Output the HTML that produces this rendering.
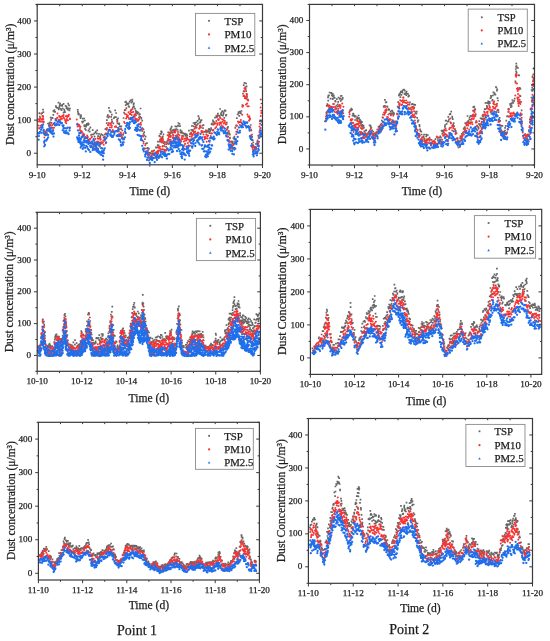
<!DOCTYPE html>
<html><head><meta charset="utf-8"><style>
html,body{margin:0;padding:0;background:#fff;}
svg{display:block;}
text{font-family:"Liberation Serif", "Times New Roman", serif;fill:#1e1e1e;stroke:#1e1e1e;stroke-width:0.25px;}
.tk{font-size:9.2px;}
.ttl{font-size:11.6px;}
.ytl{font-size:12px;}
.pt{font-size:14px;}
</style></head><body>
<svg width="550" height="641" viewBox="0 0 550 641">
<rect width="550" height="641" fill="#fff"/>
<path d="M38.2 119.5h0M39.5 113.1h0M39.4 113.3h0M39.8 116.6h0M42.1 113.2h0M42.5 115.9h0M43.4 112.1h0M43.0 109.6h0M43.7 121.6h0M43.9 131.7h0M44.3 134.4h0M45.0 132.5h0M45.4 132.5h0M45.7 131.4h0M46.4 134.4h0M47.4 129.0h0M47.3 130.7h0M48.0 123.5h0M48.7 124.0h0M49.1 123.4h0M50.0 122.4h0M50.5 122.6h0M50.6 117.7h0M51.1 119.9h0M51.9 117.8h0M52.0 117.9h0M52.6 118.1h0M53.3 111.0h0M53.3 114.9h0M54.2 111.7h0M54.4 110.0h0M55.1 111.9h0M55.9 106.0h0M56.2 107.1h0M57.1 107.9h0M57.5 108.0h0M58.5 102.7h0M58.7 109.4h0M58.9 108.3h0M59.4 106.8h0M59.7 105.2h0M60.1 103.5h0M60.8 108.8h0M61.4 105.6h0M61.5 110.1h0M62.3 104.8h0M62.3 106.0h0M62.8 108.5h0M63.6 103.8h0M63.6 112.6h0M64.3 109.7h0M64.5 111.1h0M65.0 112.1h0M65.6 105.8h0M66.5 108.2h0M66.6 106.6h0M67.2 108.7h0M67.7 109.6h0M68.2 103.7h0M68.4 108.4h0M69.1 105.4h0M69.4 110.5h0M69.9 108.7h0M77.7 109.8h0M77.9 111.8h0M78.1 114.0h0M78.7 113.6h0M79.0 114.6h0M80.4 116.5h0M80.6 118.2h0M80.9 115.2h0M81.1 116.6h0M82.1 121.5h0M82.5 122.7h0M82.9 118.7h0M83.4 121.3h0M84.1 118.5h0M84.3 125.3h0M84.4 126.5h0M84.9 120.5h0M85.1 128.8h0M85.4 125.0h0M85.9 130.0h0M86.1 126.7h0M86.6 125.1h0M86.9 123.9h0M88.2 123.4h0M88.0 124.8h0M88.4 130.7h0M88.8 124.2h0M89.4 129.0h0M89.7 131.6h0M90.4 127.3h0M91.0 135.0h0M92.0 134.5h0M92.7 130.2h0M93.4 134.3h0M94.5 133.4h0M94.6 136.6h0M95.5 132.3h0M95.8 131.7h0M96.9 133.7h0M97.2 130.4h0M98.0 136.2h0M98.2 136.0h0M99.0 133.9h0M100.0 137.2h0M100.6 135.7h0M100.8 139.0h0M101.3 134.1h0M102.8 135.2h0M103.5 137.4h0M104.4 136.8h0M104.9 134.3h0M104.8 136.7h0M105.4 129.2h0M106.3 128.6h0M106.7 123.1h0M106.9 120.2h0M107.3 116.6h0M107.9 115.1h0M107.8 115.2h0M108.5 117.6h0M108.9 107.9h0M109.6 110.9h0M110.6 112.1h0M111.2 116.8h0M111.8 114.6h0M111.8 119.6h0M112.1 121.6h0M113.3 123.3h0M113.9 118.1h0M114.6 117.2h0M115.2 110.3h0M115.9 117.2h0M116.1 113.0h0M117.0 119.6h0M117.4 120.5h0M117.5 123.4h0M118.0 118.4h0M119.1 124.2h0M119.3 123.3h0M119.7 126.2h0M120.2 126.6h0M120.9 126.6h0M121.3 126.4h0M121.4 129.1h0M122.3 130.5h0M123.0 134.8h0M123.6 118.0h0M124.1 112.7h0M124.7 110.1h0M125.3 102.1h0M125.7 105.2h0M126.0 101.7h0M126.4 108.1h0M126.7 103.8h0M127.2 103.3h0M127.9 104.1h0M128.0 103.4h0M128.5 106.0h0M128.7 103.5h0M129.1 106.9h0M129.7 101.6h0M130.6 100.4h0M130.9 110.3h0M131.5 102.6h0M132.3 101.6h0M132.3 99.7h0M132.9 107.3h0M133.5 104.6h0M134.0 106.7h0M133.9 103.4h0M134.9 108.7h0M135.8 110.6h0M136.1 112.4h0M136.2 111.8h0M136.9 113.1h0M137.1 111.9h0M137.7 113.6h0M138.4 112.6h0M139.0 117.4h0M139.4 114.9h0M139.8 114.1h0M140.1 116.8h0M140.6 108.5h0M141.3 118.6h0M141.3 117.9h0M142.2 120.7h0M142.3 128.1h0M143.2 129.2h0M143.5 129.5h0M143.6 133.9h0M144.2 132.2h0M144.4 135.5h0M144.9 139.2h0M145.6 136.7h0M145.9 143.6h0M147.0 143.2h0M147.0 148.5h0M147.6 147.9h0M148.5 148.9h0M148.9 148.7h0M149.8 152.8h0M150.5 152.6h0M150.7 152.5h0M151.9 151.1h0M152.0 153.9h0M152.7 154.3h0M153.2 153.3h0M154.1 150.3h0M155.9 147.3h0M156.1 147.7h0M157.4 147.3h0M157.7 145.1h0M157.9 141.7h0M158.6 145.3h0M159.3 135.8h0M159.7 141.6h0M160.0 136.5h0M160.4 133.8h0M160.1 141.5h0M161.1 133.9h0M160.8 139.0h0M161.4 139.3h0M161.1 131.7h0M161.4 131.3h0M161.8 142.3h0M161.8 132.2h0M162.3 138.3h0M162.7 139.6h0M162.8 136.6h0M163.5 134.4h0M163.6 143.1h0M164.1 146.1h0M164.9 142.2h0M165.0 142.5h0M166.1 146.8h0M166.5 144.5h0M166.8 142.4h0M167.5 140.6h0M167.8 143.5h0M168.2 132.4h0M169.0 136.2h0M169.1 134.4h0M169.6 134.1h0M170.3 133.4h0M170.3 129.7h0M170.9 128.4h0M171.2 131.4h0M171.7 126.7h0M172.3 132.8h0M172.5 130.1h0M173.2 134.8h0M173.6 130.6h0M173.8 132.5h0M174.2 129.5h0M175.0 131.5h0M175.4 126.4h0M175.6 130.1h0M176.1 129.0h0M176.6 126.6h0M176.5 129.0h0M177.1 135.2h0M177.7 130.0h0M178.0 125.6h0M178.4 123.0h0M178.6 126.0h0M179.5 123.8h0M180.0 126.1h0M180.4 132.2h0M180.5 130.2h0M181.1 132.9h0M181.9 132.0h0M181.6 131.4h0M182.2 135.7h0M183.0 133.2h0M183.1 136.0h0M184.0 133.6h0M184.8 134.7h0M184.9 133.5h0M185.2 134.7h0M185.9 136.0h0M186.5 134.0h0M186.9 135.5h0M187.3 135.3h0M187.2 137.4h0M188.9 130.6h0M189.8 136.5h0M190.1 133.6h0M190.5 134.2h0M191.1 132.5h0M191.4 129.8h0M192.0 125.8h0M192.2 129.8h0M192.6 130.8h0M193.0 130.1h0M193.5 123.0h0M193.8 126.4h0M194.7 124.2h0M195.0 122.8h0M195.3 127.6h0M196.1 125.1h0M196.3 122.3h0M196.5 127.3h0M197.0 125.0h0M197.6 120.9h0M198.1 123.6h0M198.4 116.2h0M199.0 119.3h0M199.2 118.0h0M199.9 122.7h0M200.1 126.3h0M200.5 122.1h0M200.9 120.4h0M201.5 120.1h0M202.3 125.7h0M203.0 128.1h0M203.5 125.2h0M204.7 131.8h0M205.3 131.6h0M205.8 131.5h0M206.7 132.3h0M206.9 131.7h0M207.2 131.6h0M207.9 131.1h0M208.5 129.7h0M209.0 131.6h0M209.1 128.9h0M209.4 133.1h0M210.0 131.7h0M210.3 129.9h0M211.0 129.6h0M211.1 128.1h0M211.6 124.4h0M211.9 123.7h0M212.9 120.3h0M213.2 121.7h0M213.2 124.6h0M214.0 122.1h0M214.6 123.4h0M215.0 117.7h0M216.4 116.9h0M216.4 115.6h0M217.0 117.3h0M217.7 115.6h0M217.8 115.6h0M217.9 113.6h0M218.6 119.3h0M218.7 115.5h0M219.3 115.8h0M220.1 117.3h0M220.1 109.0h0M221.0 114.3h0M221.1 113.0h0M221.5 115.1h0M222.0 111.6h0M222.6 111.0h0M223.0 115.7h0M223.5 113.8h0M223.7 112.3h0M224.3 117.9h0M224.8 110.3h0M225.2 111.0h0M225.9 115.6h0M225.5 110.6h0M226.3 114.8h0M226.8 122.6h0M227.2 128.2h0M227.5 128.6h0M228.1 136.7h0M228.0 126.9h0M228.7 131.0h0M228.9 133.0h0M228.9 140.6h0M229.4 133.7h0M229.8 137.6h0M229.8 134.7h0M230.6 144.8h0M230.9 144.3h0M231.5 141.8h0M231.6 141.4h0M232.6 143.6h0M232.7 143.4h0M232.8 141.6h0M233.5 138.2h0M233.9 138.4h0M234.4 136.6h0M235.3 127.9h0M235.3 127.6h0M236.1 125.7h0M236.4 125.4h0M236.8 118.2h0M237.6 114.5h0M238.4 113.0h0M238.6 112.1h0M238.7 113.4h0M239.3 115.9h0M239.9 111.6h0M240.6 112.8h0M241.0 113.5h0M241.5 111.0h0M242.4 105.1h0M242.6 105.8h0M243.0 93.7h0M243.7 91.1h0M243.7 85.1h0M244.4 83.0h0M244.7 82.9h0M245.4 87.2h0M246.1 83.5h0M246.2 91.2h0M246.6 86.4h0M247.0 96.3h0M247.6 99.8h0M247.9 99.7h0M249.7 118.4h0M250.0 118.8h0M250.7 125.0h0M251.2 129.6h0M252.0 134.6h0M252.2 136.9h0M252.8 140.4h0M253.3 142.5h0M253.6 150.7h0M254.5 148.7h0M254.9 147.1h0M255.9 144.0h0M256.2 143.8h0M257.3 141.8h0M257.6 140.3h0" stroke="#666666" stroke-width="1.7" stroke-linecap="square" fill="none"/>
<path d="M38.1 121.4h0M38.1 125.4h0M39.1 128.1h0M39.3 119.3h0M39.2 128.5h0M39.6 120.0h0M39.8 121.4h0M39.7 118.4h0M40.3 125.7h0M40.3 117.9h0M41.1 121.6h0M41.3 113.7h0M41.6 119.2h0M41.8 124.9h0M42.3 121.5h0M42.7 115.9h0M43.0 116.2h0M43.1 118.0h0M43.3 119.5h0M43.5 122.4h0M44.3 132.2h0M44.4 137.6h0M45.1 134.8h0M45.2 132.0h0M46.1 134.9h0M46.5 133.4h0M46.9 133.1h0M47.5 129.4h0M48.6 130.1h0M49.1 125.5h0M49.5 127.9h0M49.7 125.2h0M50.1 124.8h0M50.6 125.4h0M50.8 127.8h0M51.5 127.5h0M51.7 123.1h0M52.3 125.0h0M52.4 127.7h0M53.0 130.2h0M53.0 128.0h0M54.0 127.8h0M54.3 123.9h0M55.5 119.1h0M56.2 120.6h0M56.7 124.1h0M56.6 118.5h0M57.3 117.8h0M57.5 113.6h0M58.6 119.7h0M59.2 116.1h0M59.3 116.5h0M59.5 120.2h0M60.3 117.4h0M60.6 119.8h0M60.9 116.8h0M61.6 118.4h0M62.1 118.8h0M62.3 116.1h0M62.6 115.9h0M62.8 115.7h0M63.4 117.1h0M63.6 115.1h0M64.1 118.2h0M65.0 120.0h0M65.4 122.0h0M65.8 116.3h0M66.0 121.4h0M66.3 123.2h0M66.3 120.8h0M66.7 118.9h0M67.1 115.7h0M67.4 116.9h0M68.0 120.2h0M68.6 116.1h0M68.9 114.7h0M69.9 118.4h0M70.0 119.3h0M76.8 119.5h0M77.5 123.8h0M77.6 126.4h0M78.3 124.7h0M79.0 124.8h0M79.3 126.0h0M80.0 127.9h0M79.9 129.9h0M80.7 131.7h0M80.5 126.6h0M81.1 131.0h0M81.9 131.6h0M81.9 132.2h0M82.5 135.1h0M83.2 136.2h0M83.2 133.4h0M83.7 135.7h0M84.3 138.2h0M84.3 134.4h0M84.8 140.4h0M85.6 137.1h0M85.9 137.2h0M86.4 137.4h0M86.9 140.7h0M87.2 135.4h0M87.6 141.6h0M87.9 136.9h0M88.9 139.9h0M89.2 139.2h0M89.7 141.4h0M89.8 141.2h0M90.2 139.1h0M90.9 143.3h0M91.1 143.4h0M91.6 137.4h0M92.0 136.7h0M92.5 143.0h0M93.1 148.8h0M93.7 145.2h0M94.0 146.8h0M94.3 145.4h0M94.7 142.8h0M94.8 142.2h0M95.2 143.2h0M95.3 139.1h0M95.5 145.2h0M96.3 147.6h0M95.9 142.5h0M96.5 141.9h0M97.1 141.7h0M97.7 138.2h0M97.6 144.1h0M97.6 141.6h0M98.5 142.1h0M98.5 138.7h0M98.9 143.4h0M99.1 143.0h0M99.9 137.4h0M99.6 137.9h0M100.0 146.8h0M100.1 142.8h0M100.4 139.7h0M101.0 142.3h0M101.5 143.5h0M101.8 142.2h0M102.2 142.9h0M102.9 142.5h0M103.3 140.5h0M103.7 144.8h0M104.1 137.7h0M104.5 140.8h0M105.1 138.2h0M105.7 143.3h0M106.0 133.3h0M106.5 134.2h0M106.6 129.8h0M107.0 128.1h0M107.8 124.9h0M108.1 131.9h0M108.8 123.0h0M108.6 125.3h0M109.3 116.5h0M109.9 127.6h0M110.3 123.8h0M110.5 124.0h0M111.0 125.0h0M111.3 122.7h0M111.3 131.5h0M111.6 127.6h0M111.9 125.7h0M112.8 130.1h0M113.0 130.7h0M113.3 132.0h0M113.5 131.2h0M114.1 132.0h0M114.9 126.7h0M115.9 126.3h0M116.1 127.1h0M116.9 130.7h0M117.2 121.7h0M117.5 130.6h0M118.0 129.8h0M118.4 129.4h0M118.8 131.5h0M119.1 134.0h0M119.7 136.3h0M120.1 129.0h0M120.8 132.5h0M121.1 133.9h0M121.4 136.3h0M121.6 136.1h0M122.5 137.5h0M123.0 139.4h0M123.0 139.4h0M123.6 133.2h0M123.5 133.6h0M124.1 122.1h0M125.0 123.3h0M125.0 114.1h0M125.6 110.1h0M126.1 118.5h0M126.7 114.6h0M126.8 116.4h0M127.1 117.0h0M128.0 116.0h0M128.8 118.1h0M128.5 112.2h0M129.1 119.1h0M129.6 114.0h0M130.2 114.0h0M130.5 111.4h0M131.2 112.4h0M131.4 109.7h0M131.7 115.1h0M132.5 108.9h0M132.9 112.2h0M133.3 111.8h0M133.3 119.7h0M133.6 116.5h0M134.4 114.8h0M134.7 116.5h0M135.2 118.5h0M135.5 113.7h0M136.1 115.3h0M136.0 119.7h0M136.9 119.0h0M137.3 120.6h0M137.8 121.0h0M138.5 120.3h0M139.0 119.4h0M139.4 124.2h0M139.5 117.7h0M140.5 124.1h0M140.8 122.8h0M141.0 124.8h0M141.7 128.9h0M142.2 130.9h0M142.8 135.8h0M143.2 136.6h0M143.6 141.5h0M143.6 143.6h0M144.2 148.5h0M144.6 148.7h0M145.2 145.3h0M145.2 148.4h0M145.9 151.7h0M146.2 153.1h0M147.4 153.4h0M147.6 154.5h0M147.7 155.1h0M148.0 150.6h0M148.8 157.7h0M149.3 154.1h0M149.9 157.3h0M150.2 153.7h0M150.7 156.8h0M150.8 158.5h0M151.1 156.0h0M151.6 155.5h0M152.7 151.7h0M153.3 150.9h0M153.3 154.5h0M154.0 158.3h0M154.5 155.4h0M154.9 153.7h0M155.6 152.5h0M156.1 156.8h0M156.0 152.6h0M156.7 152.0h0M157.0 153.7h0M157.8 150.7h0M157.3 155.9h0M158.1 151.6h0M158.0 152.2h0M158.3 147.3h0M158.2 153.5h0M159.1 150.8h0M159.4 147.0h0M159.2 148.4h0M160.1 139.4h0M160.0 140.1h0M160.0 146.7h0M160.5 141.4h0M160.7 149.0h0M160.9 149.5h0M161.2 139.4h0M160.9 150.1h0M161.6 141.3h0M161.4 137.5h0M161.8 140.3h0M162.2 142.2h0M162.7 146.1h0M162.4 146.4h0M162.8 149.3h0M163.0 139.1h0M163.4 149.4h0M163.5 141.3h0M163.7 152.7h0M164.0 153.4h0M164.4 151.2h0M164.2 149.8h0M164.7 150.0h0M164.8 144.2h0M165.0 153.8h0M165.3 150.0h0M165.9 150.8h0M166.4 142.8h0M167.0 149.5h0M167.1 148.3h0M167.6 135.3h0M168.1 139.1h0M168.2 138.7h0M168.7 140.5h0M168.8 136.9h0M168.9 143.9h0M169.4 132.5h0M169.6 139.7h0M170.2 141.9h0M169.8 135.6h0M170.7 143.2h0M170.6 137.0h0M170.8 140.1h0M170.8 142.7h0M171.0 135.9h0M171.5 131.6h0M171.4 132.5h0M171.8 131.7h0M171.9 141.9h0M172.8 137.2h0M172.9 138.0h0M173.2 135.0h0M173.4 135.4h0M173.6 138.4h0M173.7 140.2h0M173.6 141.5h0M174.6 132.3h0M174.3 137.8h0M174.8 130.6h0M174.6 141.4h0M175.1 132.6h0M175.6 131.3h0M175.8 135.8h0M176.3 137.6h0M176.8 136.4h0M177.0 136.8h0M176.8 137.9h0M177.2 139.5h0M177.8 136.6h0M178.0 132.1h0M178.1 133.9h0M178.4 140.3h0M178.6 137.3h0M179.0 139.5h0M179.5 138.7h0M179.2 143.0h0M179.7 144.4h0M179.5 135.3h0M180.2 139.9h0M180.8 140.4h0M181.3 141.5h0M181.8 137.3h0M181.9 138.7h0M182.0 138.9h0M182.8 139.1h0M183.5 146.4h0M183.2 146.2h0M183.5 136.5h0M183.9 141.4h0M184.0 145.8h0M184.7 149.3h0M185.0 144.1h0M184.8 138.7h0M185.3 140.5h0M185.2 143.7h0M186.0 138.2h0M186.2 138.3h0M186.3 140.5h0M186.4 146.2h0M186.6 147.0h0M186.9 139.7h0M187.2 138.3h0M186.9 152.0h0M187.5 138.7h0M187.9 143.1h0M188.5 145.5h0M188.7 145.5h0M189.1 139.8h0M189.5 141.2h0M189.9 145.8h0M190.3 142.1h0M190.2 134.3h0M190.8 139.4h0M191.2 133.8h0M191.4 136.7h0M191.7 135.9h0M191.8 139.4h0M192.5 135.4h0M192.9 134.1h0M192.6 135.3h0M193.2 138.2h0M193.2 131.2h0M193.8 132.7h0M194.1 132.4h0M194.2 132.6h0M194.5 128.7h0M195.1 131.6h0M195.3 136.7h0M195.7 126.4h0M196.0 133.6h0M196.4 127.8h0M197.4 134.3h0M197.4 133.6h0M198.0 132.5h0M198.5 132.8h0M199.1 128.8h0M199.6 128.1h0M200.0 125.6h0M200.1 127.2h0M201.0 127.4h0M201.4 131.1h0M201.4 131.8h0M201.9 132.5h0M202.7 131.2h0M202.7 132.3h0M203.1 131.9h0M203.5 134.5h0M204.3 136.9h0M204.8 137.6h0M204.8 139.3h0M204.9 138.4h0M205.3 136.9h0M205.9 137.9h0M205.9 130.2h0M206.3 130.8h0M206.2 134.5h0M206.6 130.9h0M206.7 141.7h0M206.9 134.9h0M207.6 138.6h0M207.5 136.2h0M208.1 135.4h0M208.9 141.2h0M209.4 141.7h0M209.6 141.7h0M210.1 138.0h0M210.7 136.1h0M211.1 133.6h0M211.7 133.4h0M212.0 133.5h0M212.7 129.9h0M212.8 130.4h0M213.5 130.0h0M213.8 124.3h0M214.5 123.7h0M214.5 124.1h0M215.2 128.3h0M215.8 123.2h0M216.3 127.0h0M216.3 121.0h0M217.2 124.9h0M217.7 123.2h0M217.3 115.7h0M218.0 119.4h0M218.6 119.6h0M218.7 120.1h0M219.4 124.7h0M219.6 122.7h0M220.4 118.1h0M220.9 122.2h0M221.0 123.4h0M221.6 125.5h0M222.1 119.2h0M222.7 121.8h0M223.0 126.4h0M223.7 123.6h0M223.6 120.0h0M224.1 127.8h0M224.9 120.9h0M225.0 122.7h0M225.8 124.6h0M226.5 124.2h0M226.9 129.7h0M227.6 136.5h0M227.3 132.7h0M227.9 133.9h0M228.6 131.6h0M228.8 140.4h0M229.2 142.0h0M229.4 144.4h0M230.0 138.3h0M230.5 141.7h0M231.0 147.4h0M231.7 147.7h0M231.9 147.3h0M232.1 150.3h0M232.2 148.7h0M232.9 145.3h0M233.4 145.0h0M233.9 144.3h0M234.3 143.4h0M234.6 139.5h0M234.9 138.7h0M235.6 142.5h0M235.4 139.7h0M235.8 140.1h0M236.2 134.3h0M236.3 131.8h0M237.0 125.7h0M237.4 129.8h0M238.0 121.5h0M238.5 122.8h0M239.3 122.0h0M239.9 124.9h0M240.1 122.1h0M240.9 120.0h0M241.1 122.3h0M241.4 125.7h0M241.7 123.0h0M242.2 114.8h0M242.5 106.7h0M243.2 105.7h0M243.4 96.0h0M243.9 95.4h0M244.3 91.4h0M245.0 96.7h0M244.4 88.2h0M245.2 89.7h0M244.9 98.3h0M245.6 89.2h0M245.7 88.4h0M245.9 97.7h0M246.0 104.4h0M246.5 93.8h0M246.4 98.7h0M246.8 97.8h0M246.6 95.4h0M247.1 94.3h0M247.2 103.5h0M247.4 114.6h0M247.4 106.2h0M248.1 116.4h0M248.2 100.6h0M248.7 106.3h0M248.7 117.0h0M249.0 120.4h0M249.1 120.7h0M249.4 117.0h0M249.3 116.3h0M249.9 118.8h0M249.5 120.0h0M249.8 126.9h0M250.3 127.4h0M251.0 136.5h0M251.0 135.6h0M251.4 138.0h0M251.3 130.6h0M251.9 143.7h0M251.7 146.2h0M252.2 147.4h0M252.8 149.2h0M253.3 145.3h0M253.6 147.1h0M253.6 153.6h0M254.4 150.7h0M254.7 146.8h0M255.5 147.2h0M255.7 149.3h0M256.2 149.3h0M256.5 148.8h0M257.2 143.2h0M257.4 146.1h0M258.0 142.3h0M258.3 135.9h0M258.2 135.7h0M258.7 145.2h0M258.7 137.8h0M259.5 126.6h0M259.1 141.8h0M260.0 123.8h0M259.9 121.2h0M259.4 132.0h0M260.3 128.6h0M260.0 134.2h0M260.2 121.0h0M260.7 115.9h0M260.8 127.9h0M260.6 107.6h0M260.8 99.6h0M261.2 110.8h0M261.3 113.0h0M261.0 121.0h0" stroke="#f53535" stroke-width="2.0" stroke-linecap="round" fill="none"/>
<path d="M38.0 133.4h0M38.6 139.7h0M38.9 136.1h0M39.2 132.6h0M39.5 133.4h0M40.1 131.8h0M41.1 127.7h0M41.1 129.8h0M41.8 132.8h0M42.2 125.9h0M42.5 127.7h0M43.4 130.7h0M43.1 124.6h0M43.8 130.0h0M44.0 133.4h0M44.2 141.5h0M44.2 142.8h0M44.2 146.3h0M45.0 145.0h0M45.1 140.4h0M45.2 134.6h0M45.5 135.2h0M46.4 140.6h0M46.4 133.6h0M46.9 130.2h0M47.1 139.2h0M47.5 134.7h0M48.1 134.9h0M47.9 130.6h0M48.1 137.5h0M49.2 125.9h0M48.9 129.9h0M49.3 128.8h0M49.2 131.1h0M49.8 130.7h0M50.4 132.4h0M50.6 128.1h0M50.7 128.9h0M50.9 131.1h0M51.9 133.5h0M51.9 132.8h0M52.6 134.0h0M52.9 130.9h0M53.1 130.8h0M53.1 130.5h0M53.5 136.6h0M54.0 133.5h0M54.0 124.0h0M54.6 122.8h0M55.2 125.4h0M55.7 120.2h0M55.8 120.1h0M56.5 124.4h0M56.6 125.0h0M57.5 122.0h0M58.4 124.5h0M58.6 121.2h0M59.3 124.9h0M59.4 122.0h0M59.8 122.0h0M60.9 123.2h0M61.1 122.8h0M61.7 122.8h0M62.0 123.1h0M62.5 125.6h0M62.7 130.3h0M63.1 126.5h0M63.5 125.5h0M63.6 128.7h0M64.1 132.5h0M64.5 131.3h0M64.9 128.2h0M65.5 133.2h0M66.1 130.8h0M66.6 133.1h0M66.8 128.4h0M67.3 128.0h0M67.6 132.7h0M67.7 127.6h0M68.4 133.9h0M68.6 134.2h0M69.6 130.5h0M69.8 128.0h0M69.9 127.7h0M77.1 137.5h0M77.2 124.5h0M77.5 138.1h0M78.0 130.4h0M77.7 139.4h0M78.6 141.3h0M78.5 142.0h0M78.9 135.6h0M78.7 138.6h0M79.3 133.0h0M79.0 135.5h0M79.5 140.2h0M79.4 137.7h0M80.2 142.9h0M80.2 141.0h0M80.6 143.8h0M80.5 139.9h0M80.7 147.6h0M80.7 133.1h0M81.2 146.2h0M81.0 138.8h0M81.8 136.8h0M81.8 144.4h0M82.1 142.4h0M81.9 145.6h0M82.3 137.1h0M82.8 148.9h0M82.9 144.3h0M82.8 148.8h0M83.4 147.3h0M83.7 135.8h0M84.0 140.3h0M83.8 140.3h0M84.1 142.4h0M84.2 145.3h0M84.5 140.6h0M85.0 137.8h0M85.3 138.2h0M85.2 147.9h0M85.8 151.4h0M86.3 145.9h0M86.0 141.5h0M86.4 142.5h0M87.1 138.2h0M87.3 146.9h0M87.9 148.8h0M87.8 142.6h0M88.0 140.5h0M88.2 141.4h0M88.4 144.0h0M88.9 150.0h0M89.2 143.1h0M90.2 143.2h0M90.2 145.8h0M90.3 151.9h0M90.6 147.0h0M91.2 146.0h0M91.9 143.3h0M92.2 141.7h0M92.2 141.3h0M92.4 147.4h0M92.7 150.2h0M93.1 144.5h0M92.9 148.0h0M93.3 149.8h0M93.6 139.2h0M94.0 149.5h0M94.0 140.5h0M94.2 149.1h0M94.9 149.6h0M94.5 143.2h0M95.0 144.5h0M95.4 146.7h0M96.0 148.8h0M96.2 146.3h0M96.4 143.7h0M96.5 150.9h0M96.9 144.6h0M97.5 148.4h0M97.2 148.9h0M97.7 149.9h0M97.6 152.1h0M98.1 142.8h0M98.1 148.8h0M98.8 145.5h0M98.5 151.0h0M99.2 153.2h0M99.4 151.9h0M99.5 145.6h0M99.5 152.1h0M100.2 143.9h0M100.6 154.6h0M101.0 152.2h0M101.2 148.2h0M101.5 154.9h0M102.0 151.2h0M102.6 152.9h0M102.3 148.5h0M103.0 152.6h0M103.1 156.2h0M103.1 159.7h0M103.4 152.1h0M103.8 153.3h0M103.9 150.2h0M104.7 148.3h0M104.7 139.5h0M105.2 139.5h0M106.1 142.4h0M106.4 138.0h0M106.9 134.2h0M107.2 134.8h0M107.4 134.2h0M107.6 136.0h0M108.2 133.6h0M108.6 129.8h0M108.8 130.8h0M110.0 130.2h0M110.2 134.5h0M110.5 135.7h0M111.3 132.4h0M111.3 135.5h0M111.8 132.0h0M112.0 137.0h0M112.6 136.7h0M112.9 136.9h0M113.2 135.9h0M113.6 135.3h0M114.2 132.0h0M114.4 133.8h0M115.1 131.5h0M116.3 131.2h0M116.7 135.8h0M117.1 131.4h0M117.4 135.1h0M118.1 127.8h0M118.0 136.2h0M118.3 130.5h0M118.8 129.4h0M118.8 139.4h0M119.3 135.2h0M119.7 139.8h0M120.0 140.4h0M120.5 134.8h0M120.7 142.1h0M120.9 144.9h0M121.2 145.7h0M122.1 138.3h0M121.7 138.3h0M122.1 144.6h0M122.5 144.2h0M123.0 142.5h0M123.0 144.8h0M123.6 142.4h0M123.9 139.3h0M124.4 137.9h0M125.0 131.5h0M124.9 137.3h0M125.2 129.1h0M125.8 133.1h0M126.2 125.9h0M126.5 126.7h0M127.1 122.9h0M127.1 125.0h0M127.6 123.4h0M127.6 123.8h0M128.1 128.2h0M128.5 128.4h0M128.7 123.6h0M129.0 126.2h0M129.0 128.9h0M129.5 124.2h0M129.9 122.2h0M129.9 128.1h0M129.9 127.8h0M130.5 119.0h0M131.0 117.9h0M131.3 119.6h0M132.1 121.6h0M132.6 118.0h0M133.1 120.6h0M133.5 117.0h0M134.0 123.2h0M134.3 122.4h0M134.7 123.0h0M135.0 129.8h0M135.0 120.3h0M135.7 127.9h0M135.9 129.9h0M136.0 122.1h0M136.3 128.9h0M136.2 127.7h0M136.4 130.8h0M137.2 130.8h0M137.3 125.3h0M137.3 128.1h0M137.6 134.8h0M138.0 126.3h0M138.5 129.7h0M138.5 124.5h0M139.0 135.6h0M139.2 135.6h0M140.0 130.6h0M140.1 135.9h0M140.3 127.2h0M140.7 129.9h0M140.9 139.9h0M141.2 138.2h0M141.6 136.2h0M142.3 140.5h0M142.2 145.8h0M143.0 149.6h0M143.4 148.4h0M143.7 148.9h0M143.9 151.4h0M145.2 156.4h0M145.2 154.6h0M145.9 152.9h0M146.5 151.5h0M146.9 159.9h0M147.1 153.8h0M147.3 157.6h0M147.9 157.6h0M148.0 152.5h0M148.9 160.3h0M148.9 155.6h0M149.8 163.0h0M150.3 159.2h0M150.5 158.5h0M150.9 158.6h0M151.4 158.1h0M151.7 156.8h0M152.2 160.2h0M152.7 158.5h0M153.1 157.9h0M154.0 154.8h0M154.7 162.2h0M155.0 153.3h0M155.5 157.6h0M156.1 156.3h0M156.3 158.0h0M156.6 155.1h0M157.0 159.9h0M157.5 155.1h0M157.9 156.3h0M158.5 158.1h0M159.2 156.3h0M159.1 157.5h0M160.0 155.9h0M160.3 155.0h0M160.8 152.0h0M160.9 154.1h0M161.4 156.7h0M162.1 157.3h0M162.2 151.7h0M162.9 153.9h0M163.4 154.5h0M164.0 152.5h0M164.5 154.9h0M164.7 155.9h0M165.2 153.4h0M165.8 155.0h0M166.0 155.2h0M166.4 155.9h0M166.8 158.6h0M167.0 158.6h0M167.4 154.6h0M167.7 149.0h0M168.4 154.1h0M168.6 150.5h0M169.4 154.1h0M169.6 142.5h0M170.0 149.7h0M170.6 147.4h0M170.8 148.1h0M170.9 145.0h0M171.5 141.8h0M171.5 143.4h0M171.8 152.2h0M172.2 145.8h0M171.9 142.1h0M172.2 149.7h0M173.1 151.4h0M173.3 143.4h0M173.7 140.3h0M173.7 147.4h0M174.4 145.6h0M174.5 147.1h0M174.8 142.5h0M174.6 138.1h0M175.5 139.5h0M175.4 147.3h0M175.5 146.2h0M175.9 142.0h0M176.2 143.2h0M176.2 144.0h0M176.3 147.1h0M176.4 147.2h0M176.4 137.4h0M177.3 145.1h0M177.0 151.0h0M177.7 142.4h0M177.7 146.0h0M177.9 146.9h0M178.0 139.2h0M178.7 144.0h0M178.6 148.9h0M178.7 141.5h0M179.5 151.3h0M179.5 140.5h0M179.8 145.5h0M179.8 151.0h0M180.2 143.8h0M180.0 143.0h0M180.8 153.5h0M180.5 153.9h0M181.3 144.9h0M181.4 156.7h0M181.6 154.5h0M181.9 149.3h0M181.9 152.4h0M181.9 156.4h0M182.1 158.2h0M182.6 145.4h0M183.0 146.8h0M183.0 146.6h0M183.0 148.2h0M183.4 150.1h0M183.5 152.7h0M183.8 154.4h0M184.3 148.9h0M184.4 153.8h0M184.7 159.6h0M184.8 154.7h0M185.6 155.2h0M185.8 155.3h0M186.4 149.3h0M187.1 151.6h0M187.0 147.5h0M187.8 153.0h0M188.1 148.1h0M188.5 150.2h0M188.6 146.3h0M188.9 153.9h0M189.2 151.6h0M189.2 155.8h0M189.6 151.2h0M190.2 150.6h0M190.9 140.2h0M191.1 143.3h0M191.7 143.3h0M192.2 147.7h0M191.9 146.5h0M192.3 138.9h0M192.4 146.7h0M192.5 146.5h0M193.1 141.5h0M193.6 143.8h0M193.6 144.3h0M194.0 140.2h0M194.8 134.7h0M195.0 137.8h0M195.3 146.0h0M195.6 142.8h0M196.1 135.8h0M196.7 136.8h0M196.9 140.7h0M197.4 141.1h0M197.9 135.1h0M198.0 139.9h0M198.5 142.7h0M198.3 142.5h0M198.8 139.3h0M198.9 138.7h0M199.2 137.7h0M199.6 144.4h0M199.5 139.1h0M200.1 137.0h0M200.5 133.9h0M200.9 138.2h0M201.6 145.6h0M202.2 137.5h0M202.2 148.8h0M202.2 145.1h0M202.6 140.0h0M203.5 148.8h0M203.4 141.9h0M203.8 151.3h0M204.6 147.0h0M204.4 151.1h0M205.0 145.3h0M204.8 146.8h0M204.8 151.4h0M205.1 156.4h0M205.9 154.8h0M206.1 154.9h0M206.3 157.3h0M206.5 151.3h0M206.5 146.3h0M207.0 154.6h0M207.1 146.8h0M207.5 153.0h0M207.9 156.3h0M208.1 145.4h0M208.0 152.1h0M208.5 153.8h0M208.5 149.9h0M208.9 147.3h0M209.1 140.9h0M209.5 148.5h0M209.5 144.6h0M209.6 152.7h0M209.6 140.6h0M210.2 151.6h0M210.5 138.2h0M210.6 148.6h0M211.2 137.5h0M211.2 148.8h0M211.8 145.5h0M212.1 145.5h0M212.6 138.3h0M212.6 138.7h0M213.7 136.7h0M213.8 139.5h0M214.4 132.5h0M214.6 138.7h0M215.1 133.0h0M216.3 134.1h0M216.8 135.1h0M217.2 131.8h0M217.8 133.8h0M217.7 129.3h0M218.2 133.0h0M218.3 129.8h0M219.2 134.3h0M219.1 132.6h0M220.4 128.7h0M220.7 127.2h0M221.1 130.5h0M221.5 129.8h0M222.1 127.9h0M222.4 130.5h0M223.1 130.8h0M223.6 132.6h0M224.0 133.3h0M224.8 128.7h0M225.2 132.0h0M225.4 131.0h0M225.5 133.0h0M226.2 135.5h0M226.4 136.4h0M227.1 133.2h0M227.4 140.1h0M227.5 140.1h0M227.7 139.8h0M228.3 140.5h0M228.3 141.1h0M228.6 149.6h0M228.7 144.3h0M229.0 145.5h0M229.3 147.0h0M230.0 148.7h0M230.3 145.9h0M230.7 150.8h0M231.1 145.4h0M231.6 146.6h0M231.8 146.9h0M232.3 153.8h0M232.3 151.1h0M233.0 147.9h0M233.3 148.1h0M233.9 154.4h0M234.4 149.5h0M234.5 148.0h0M234.9 143.3h0M234.8 138.9h0M235.3 148.7h0M235.8 139.2h0M235.3 141.8h0M236.0 142.8h0M236.3 143.3h0M236.4 144.1h0M237.3 141.2h0M237.6 132.2h0M237.7 136.9h0M238.2 132.8h0M238.9 127.5h0M239.8 132.5h0M239.9 130.8h0M241.1 126.2h0M241.3 127.2h0M241.6 126.1h0M242.2 123.8h0M242.9 127.2h0M242.9 124.6h0M243.6 121.3h0M243.8 121.9h0M244.2 124.7h0M244.4 122.7h0M245.0 123.4h0M245.9 122.5h0M245.9 126.0h0M246.4 127.5h0M247.0 122.9h0M247.3 122.3h0M247.7 126.9h0M248.3 126.1h0M249.1 126.9h0M249.3 128.8h0M249.6 130.7h0M249.9 136.2h0M250.2 137.6h0M250.7 137.7h0M250.8 139.0h0M251.2 145.8h0M252.0 140.0h0M252.3 145.3h0M252.8 154.6h0M253.5 150.9h0M253.0 151.9h0M253.4 154.2h0M253.7 156.4h0M254.1 153.6h0M254.5 150.3h0M255.0 153.5h0M255.9 147.7h0M256.2 151.7h0M256.9 155.3h0M256.9 152.4h0M256.9 153.1h0M257.4 153.1h0M257.6 151.5h0M257.8 144.8h0M258.2 143.6h0M258.3 148.8h0M258.8 150.1h0M258.7 146.4h0M259.2 137.9h0M259.7 134.6h0M259.9 130.3h0M260.3 136.0h0M260.5 136.4h0M260.8 132.7h0M261.2 121.6h0M261.1 130.6h0M261.4 133.9h0M261.3 134.6h0M261.7 124.9h0" stroke="#1f6fec" stroke-width="2.3" stroke-linecap="round" fill="none"/>
<path d="M325.9 118.5h0M326.3 112.6h0M326.7 113.2h0M326.7 105.9h0M327.3 104.1h0M328.0 97.3h0M328.2 100.6h0M328.4 95.6h0M329.0 95.3h0M329.6 92.5h0M330.6 98.7h0M330.5 98.5h0M331.3 92.8h0M331.5 93.6h0M331.9 95.5h0M332.7 99.2h0M332.8 93.9h0M332.8 98.6h0M332.9 96.2h0M333.8 95.7h0M334.1 97.5h0M334.7 97.9h0M335.2 100.8h0M335.6 101.6h0M336.4 105.5h0M336.6 108.4h0M336.8 99.1h0M337.5 106.5h0M337.8 104.3h0M338.2 101.9h0M338.5 97.5h0M339.6 98.8h0M340.3 98.4h0M340.7 100.8h0M340.8 96.0h0M341.6 95.8h0M341.7 99.7h0M342.5 98.8h0M342.7 97.9h0M350.1 110.4h0M350.5 110.2h0M351.3 110.4h0M351.3 108.6h0M352.2 109.5h0M352.5 115.7h0M353.1 113.7h0M353.4 114.7h0M353.6 114.1h0M354.2 115.9h0M354.8 116.7h0M355.1 120.0h0M355.6 116.1h0M356.6 118.3h0M357.1 120.5h0M357.4 117.4h0M358.3 118.7h0M358.6 115.5h0M359.1 118.1h0M359.8 121.7h0M360.0 119.8h0M360.6 125.0h0M360.9 123.2h0M361.1 121.4h0M362.0 122.2h0M362.3 127.0h0M362.3 124.9h0M362.9 126.2h0M363.5 125.6h0M363.4 125.5h0M363.9 127.7h0M364.4 131.1h0M365.1 133.1h0M365.7 130.6h0M366.2 130.2h0M367.3 133.7h0M367.7 134.9h0M368.3 133.0h0M368.8 132.1h0M369.2 131.6h0M369.6 125.4h0M370.5 125.7h0M370.7 126.8h0M371.3 127.8h0M372.1 130.3h0M373.2 131.7h0M373.9 135.9h0M374.5 133.4h0M375.2 134.8h0M375.5 134.6h0M375.8 133.1h0M376.6 132.2h0M376.6 133.4h0M377.3 129.7h0M378.5 126.7h0M379.2 127.7h0M380.2 125.9h0M380.7 124.8h0M381.4 123.6h0M381.5 123.7h0M381.9 120.7h0M382.5 117.3h0M383.0 114.7h0M383.7 106.9h0M384.0 106.0h0M384.8 105.8h0M384.9 99.8h0M385.7 102.4h0M386.4 102.2h0M387.0 106.4h0M387.5 107.0h0M388.4 110.0h0M388.6 109.0h0M389.2 109.6h0M389.6 113.6h0M390.1 113.7h0M390.6 111.3h0M390.9 115.3h0M391.3 113.4h0M392.0 110.5h0M392.5 113.9h0M392.6 111.3h0M393.2 112.8h0M393.9 113.2h0M394.0 114.1h0M394.9 121.3h0M395.9 121.3h0M395.8 122.4h0M397.0 113.5h0M397.7 106.7h0M398.2 107.4h0M398.1 102.2h0M398.9 95.5h0M399.2 94.4h0M399.6 94.7h0M400.0 93.4h0M400.4 97.1h0M400.8 91.7h0M401.4 94.8h0M401.7 92.2h0M402.2 91.2h0M403.0 90.0h0M402.5 92.6h0M403.4 97.3h0M403.8 89.7h0M403.9 89.7h0M404.6 94.1h0M404.8 90.6h0M405.4 93.2h0M406.2 95.1h0M406.3 93.1h0M406.6 91.5h0M407.4 93.9h0M407.9 93.8h0M408.3 96.6h0M408.7 96.1h0M409.1 95.6h0M409.5 104.6h0M410.0 102.4h0M411.2 109.6h0M411.9 104.3h0M412.5 103.9h0M412.8 107.0h0M413.3 107.2h0M413.5 108.2h0M413.8 104.5h0M414.1 108.4h0M414.4 104.8h0M415.2 104.8h0M415.3 113.3h0M416.1 111.6h0M416.4 113.6h0M416.8 111.6h0M417.2 117.8h0M417.7 122.0h0M418.0 120.3h0M418.4 120.4h0M419.4 124.9h0M419.6 126.4h0M420.1 129.3h0M420.5 131.1h0M421.3 131.7h0M421.6 134.5h0M422.1 137.3h0M423.1 137.6h0M423.6 136.3h0M424.1 134.5h0M424.3 139.0h0M424.4 138.4h0M425.5 140.8h0M426.1 134.5h0M426.2 136.5h0M426.6 139.4h0M426.8 135.5h0M427.8 135.0h0M428.4 138.8h0M428.8 139.2h0M429.6 137.5h0M431.5 139.8h0M431.9 142.9h0M433.5 141.4h0M433.6 144.3h0M434.0 145.7h0M434.4 141.0h0M434.7 142.0h0M435.4 139.2h0M436.7 137.0h0M437.7 138.0h0M437.8 140.0h0M439.2 137.6h0M440.3 136.3h0M441.0 137.7h0M441.6 130.8h0M441.8 130.5h0M442.3 133.6h0M442.6 130.6h0M442.8 130.6h0M443.2 132.3h0M443.6 130.7h0M444.4 129.6h0M444.9 126.8h0M445.1 125.2h0M445.7 120.7h0M446.1 120.7h0M446.6 123.8h0M447.7 121.7h0M448.4 121.1h0M448.3 116.9h0M449.0 119.4h0M449.6 114.5h0M450.2 113.8h0M450.4 114.1h0M451.2 111.7h0M452.2 117.7h0M452.2 116.6h0M452.8 119.1h0M453.2 124.7h0M453.6 123.2h0M454.0 126.1h0M454.9 129.4h0M455.8 131.2h0M456.5 133.3h0M456.8 138.4h0M457.6 138.0h0M458.0 140.6h0M459.8 141.5h0M460.4 136.3h0M460.8 138.4h0M461.1 137.3h0M461.7 138.5h0M461.8 133.8h0M462.9 133.0h0M463.2 132.5h0M463.6 129.0h0M464.1 128.2h0M464.9 127.2h0M465.3 123.2h0M466.1 123.1h0M467.2 122.2h0M467.5 116.0h0M467.8 122.0h0M468.3 120.9h0M468.7 122.5h0M469.4 119.3h0M469.6 117.5h0M470.5 115.9h0M471.0 119.9h0M471.7 116.2h0M472.6 115.2h0M473.1 110.6h0M473.3 107.1h0M474.0 106.9h0M474.1 106.7h0M474.3 106.8h0M474.6 109.3h0M475.2 109.2h0M475.7 114.2h0M476.4 122.5h0M477.2 125.9h0M477.4 130.4h0M477.4 125.6h0M478.3 127.3h0M478.6 128.7h0M479.0 123.8h0M479.3 121.2h0M479.9 125.2h0M480.6 118.3h0M480.6 126.4h0M481.2 124.2h0M481.5 118.4h0M482.1 119.1h0M482.5 115.9h0M482.9 119.2h0M483.0 114.5h0M483.5 116.4h0M484.2 111.6h0M484.7 109.2h0M485.4 103.0h0M485.6 109.2h0M486.0 102.8h0M486.8 105.8h0M487.2 107.1h0M487.8 103.2h0M488.2 101.4h0M488.6 103.7h0M488.9 103.9h0M489.3 103.2h0M489.6 101.8h0M489.8 103.1h0M490.6 98.1h0M491.0 95.9h0M491.3 96.9h0M492.2 100.7h0M492.5 99.9h0M492.8 95.5h0M493.4 92.3h0M493.7 92.5h0M494.4 94.4h0M494.6 93.3h0M495.4 94.6h0M495.9 87.0h0M496.3 87.3h0M497.2 89.3h0M496.9 90.7h0M497.5 98.1h0M498.1 100.5h0M498.4 110.2h0M498.5 112.2h0M499.3 121.1h0M499.6 117.9h0M500.1 125.7h0M500.2 120.9h0M501.1 125.7h0M501.3 130.1h0M501.8 126.0h0M502.4 125.9h0M503.0 131.5h0M504.1 134.8h0M504.1 131.9h0M505.0 130.6h0M505.1 127.8h0M505.7 125.8h0M506.3 120.7h0M507.0 116.5h0M507.4 116.1h0M508.3 112.0h0M508.7 108.8h0M508.3 109.2h0M508.8 108.8h0M510.2 105.0h0M510.2 103.9h0M510.8 107.2h0M511.4 105.4h0M511.7 106.4h0M511.5 103.4h0M512.4 100.0h0M512.6 102.2h0M513.3 103.0h0M514.2 100.9h0M514.7 98.6h0M515.4 81.4h0M516.0 66.6h0M515.7 69.0h0M516.1 71.4h0M516.3 63.6h0M516.6 72.6h0M516.6 66.2h0M517.0 67.6h0M518.0 68.0h0M518.6 75.1h0M519.1 75.5h0M519.8 87.8h0M520.4 89.0h0M520.4 96.2h0M521.2 102.0h0M521.6 110.3h0M521.8 114.3h0M522.2 121.5h0M522.8 129.0h0M524.1 135.3h0M524.7 134.5h0M525.3 134.1h0M526.2 138.6h0M526.5 136.1h0M527.5 135.4h0M527.7 135.8h0M528.3 135.4h0M528.3 134.5h0M528.9 130.1h0M529.8 122.3h0M529.8 119.4h0M530.6 117.2h0M530.6 109.4h0M531.0 109.7h0M531.5 97.5h0M531.8 100.8h0M531.7 90.1h0M532.2 87.7h0M532.0 85.2h0M532.6 77.2h0M532.4 90.9h0M532.5 76.3h0M532.8 89.8h0M533.5 74.4h0M533.0 81.2h0M533.7 68.4h0M533.4 74.4h0" stroke="#666666" stroke-width="1.7" stroke-linecap="square" fill="none"/>
<path d="M325.0 121.2h0M325.7 121.0h0M326.0 116.4h0M326.5 115.0h0M326.5 118.8h0M326.6 116.8h0M327.0 112.1h0M327.5 112.0h0M327.9 105.7h0M328.4 106.2h0M328.7 110.3h0M329.1 108.3h0M328.9 105.2h0M329.5 105.8h0M329.7 107.8h0M330.1 106.5h0M330.8 107.8h0M331.5 109.0h0M331.7 106.8h0M332.3 108.0h0M332.2 107.1h0M333.2 104.0h0M334.0 107.0h0M334.0 104.1h0M334.6 111.7h0M335.2 109.1h0M335.5 107.0h0M335.8 109.6h0M336.3 112.6h0M337.0 111.5h0M337.4 112.7h0M338.0 111.0h0M338.2 109.1h0M338.7 106.0h0M338.4 110.7h0M339.0 106.4h0M339.2 115.2h0M339.7 105.1h0M339.6 112.6h0M340.0 113.9h0M340.1 114.7h0M340.4 105.3h0M340.3 108.1h0M340.7 111.6h0M340.7 106.0h0M341.2 111.0h0M341.1 113.2h0M341.8 113.4h0M342.5 110.5h0M342.2 103.4h0M342.8 110.6h0M343.3 113.2h0M343.4 106.7h0M349.2 116.8h0M349.2 112.2h0M349.7 114.3h0M350.0 111.1h0M350.6 120.2h0M351.0 119.3h0M351.3 120.1h0M351.6 122.6h0M351.6 120.2h0M352.4 119.3h0M352.3 126.6h0M352.9 126.0h0M353.2 123.1h0M352.8 122.9h0M353.6 132.1h0M353.6 128.2h0M354.1 125.6h0M354.1 125.2h0M354.7 125.5h0M354.9 126.7h0M355.1 126.0h0M355.3 124.6h0M355.5 127.3h0M356.2 129.5h0M356.6 124.4h0M356.7 127.4h0M356.7 124.1h0M357.4 129.8h0M357.3 119.9h0M357.5 121.3h0M357.8 124.0h0M358.4 127.4h0M358.4 124.6h0M358.9 121.6h0M359.3 125.9h0M359.3 123.1h0M359.3 126.3h0M359.7 131.7h0M360.7 133.4h0M360.9 134.4h0M360.8 128.1h0M361.1 131.9h0M361.5 126.1h0M361.9 128.9h0M362.5 133.2h0M362.5 134.6h0M362.3 138.4h0M362.1 132.8h0M362.9 138.0h0M363.0 137.0h0M363.1 128.5h0M363.8 133.7h0M364.2 138.0h0M364.4 137.9h0M365.0 133.4h0M365.5 136.7h0M366.2 134.6h0M366.2 134.7h0M366.5 135.8h0M367.0 134.2h0M367.6 137.3h0M368.0 134.1h0M368.6 137.1h0M369.8 130.4h0M369.7 135.9h0M370.2 134.7h0M370.6 129.2h0M370.7 129.0h0M371.6 133.0h0M371.8 132.9h0M372.4 134.9h0M373.1 134.1h0M373.7 139.5h0M374.0 134.9h0M374.0 137.4h0M374.4 138.7h0M375.1 140.8h0M375.4 137.0h0M376.0 132.9h0M376.3 135.7h0M377.0 135.3h0M377.6 132.0h0M378.2 129.5h0M378.7 130.0h0M378.7 131.5h0M379.5 127.9h0M379.8 129.1h0M380.3 129.0h0M380.6 125.4h0M381.3 127.8h0M381.6 130.2h0M382.3 128.8h0M382.4 125.1h0M383.2 122.4h0M383.1 117.7h0M384.0 112.5h0M384.5 114.7h0M384.8 113.6h0M385.2 110.7h0M385.2 106.9h0M385.5 109.9h0M385.8 112.2h0M386.4 110.4h0M386.6 109.2h0M387.1 117.0h0M387.5 119.1h0M387.9 117.3h0M388.4 114.6h0M388.8 119.6h0M389.0 120.9h0M389.7 120.6h0M389.9 119.1h0M390.7 119.6h0M391.1 114.4h0M391.7 122.2h0M392.0 121.6h0M392.6 122.4h0M392.8 120.2h0M392.9 120.8h0M393.3 115.7h0M394.0 122.4h0M394.0 125.9h0M394.7 122.2h0M395.3 128.3h0M395.8 126.9h0M395.8 128.3h0M396.3 125.5h0M396.3 122.2h0M397.2 114.5h0M397.8 114.2h0M398.3 111.2h0M399.0 104.0h0M399.2 106.3h0M399.4 104.7h0M399.7 103.3h0M400.2 100.3h0M401.2 105.1h0M401.5 101.1h0M402.1 104.5h0M402.7 100.3h0M402.9 102.4h0M403.3 97.8h0M403.8 101.9h0M404.2 100.4h0M405.3 102.8h0M406.2 100.6h0M406.4 106.0h0M406.6 103.0h0M407.9 102.2h0M407.9 104.7h0M408.7 107.7h0M408.9 109.0h0M409.2 104.3h0M410.2 108.7h0M410.4 113.0h0M411.0 112.7h0M411.2 112.9h0M411.6 111.2h0M411.3 107.5h0M412.1 112.1h0M412.2 115.6h0M412.1 107.1h0M412.6 114.4h0M413.3 116.9h0M413.0 108.9h0M413.7 107.3h0M413.5 115.3h0M414.1 111.3h0M414.2 107.5h0M414.2 114.9h0M414.0 116.9h0M414.5 117.5h0M414.9 120.4h0M415.3 122.9h0M415.4 116.8h0M416.0 128.2h0M416.1 126.3h0M416.2 128.4h0M416.8 131.7h0M417.0 129.5h0M417.7 129.9h0M418.2 135.5h0M418.2 133.5h0M419.0 137.0h0M419.5 134.3h0M419.9 135.7h0M420.4 140.0h0M420.7 139.7h0M421.2 138.7h0M421.1 144.0h0M422.0 142.8h0M422.3 139.9h0M422.6 140.9h0M422.7 137.3h0M424.5 141.2h0M424.5 139.7h0M425.1 142.9h0M425.6 141.5h0M426.2 143.5h0M426.9 140.3h0M427.0 142.5h0M427.8 142.5h0M427.7 140.0h0M428.3 139.2h0M429.1 143.3h0M429.7 140.8h0M430.0 139.2h0M430.9 145.4h0M431.3 145.4h0M431.3 143.1h0M432.2 142.1h0M432.4 143.2h0M432.8 141.5h0M433.6 141.0h0M433.7 143.7h0M434.1 145.2h0M434.3 144.6h0M434.8 142.1h0M435.1 142.9h0M435.5 143.3h0M436.1 144.5h0M436.8 136.5h0M437.2 143.7h0M437.5 144.0h0M438.1 143.4h0M438.6 137.6h0M438.7 140.7h0M439.3 142.6h0M440.4 139.8h0M440.9 144.0h0M441.2 141.7h0M441.2 143.6h0M441.8 144.2h0M442.3 139.8h0M442.4 142.6h0M443.1 135.1h0M443.2 135.8h0M444.1 135.1h0M444.1 132.7h0M444.8 130.6h0M445.4 134.1h0M445.6 128.6h0M446.2 134.6h0M446.5 130.5h0M446.7 136.5h0M447.3 135.5h0M447.9 140.1h0M447.8 141.3h0M448.3 136.7h0M449.1 132.9h0M449.2 129.3h0M449.7 128.2h0M449.7 128.1h0M450.3 118.4h0M450.4 122.3h0M450.9 123.3h0M450.9 122.8h0M451.3 127.5h0M452.2 125.4h0M452.2 130.5h0M452.8 126.2h0M453.4 126.8h0M453.4 128.2h0M454.9 129.2h0M455.4 134.0h0M455.8 132.8h0M456.1 141.4h0M456.6 141.9h0M457.3 138.9h0M457.6 141.7h0M458.3 144.3h0M458.5 147.4h0M458.7 142.7h0M459.6 142.2h0M460.1 145.6h0M460.1 138.3h0M460.5 140.5h0M461.4 136.1h0M461.9 138.8h0M461.9 137.3h0M462.6 136.1h0M462.9 135.1h0M463.6 132.3h0M464.1 134.5h0M464.5 131.8h0M464.7 129.9h0M465.2 129.1h0M465.9 131.1h0M466.2 124.7h0M466.0 123.4h0M466.4 130.8h0M466.8 125.5h0M467.3 128.3h0M467.9 124.1h0M468.3 125.4h0M469.0 123.1h0M469.2 129.4h0M469.9 122.6h0M470.0 122.3h0M470.4 123.8h0M471.2 122.4h0M471.7 118.7h0M471.7 118.7h0M472.0 122.3h0M472.2 116.4h0M472.5 124.2h0M472.4 116.8h0M473.1 119.0h0M473.3 114.6h0M473.1 115.4h0M473.6 111.1h0M473.8 118.7h0M474.3 116.8h0M474.3 115.2h0M474.5 112.3h0M474.5 116.5h0M474.7 110.5h0M475.5 116.0h0M475.8 122.5h0M476.3 120.9h0M476.7 122.0h0M477.1 125.8h0M477.5 133.0h0M477.4 133.6h0M477.4 137.4h0M477.8 134.6h0M478.4 127.6h0M479.2 137.3h0M479.5 133.6h0M479.7 132.0h0M479.9 137.3h0M480.4 136.1h0M480.5 133.2h0M480.6 130.8h0M480.8 131.9h0M481.5 128.1h0M481.3 123.3h0M481.9 121.7h0M481.9 129.5h0M482.0 127.7h0M482.9 125.0h0M483.0 118.4h0M483.1 126.2h0M483.6 115.0h0M483.6 121.5h0M483.9 122.9h0M484.3 122.0h0M484.6 118.6h0M484.8 112.5h0M484.8 119.7h0M485.5 117.5h0M485.5 115.8h0M485.2 114.3h0M485.6 116.1h0M486.1 115.3h0M486.9 112.0h0M486.8 108.2h0M487.5 112.9h0M487.6 111.7h0M487.7 115.3h0M488.0 115.8h0M488.3 108.7h0M489.2 109.8h0M489.3 106.1h0M489.6 106.8h0M490.0 107.8h0M490.5 111.9h0M490.9 110.0h0M491.7 111.7h0M491.9 111.7h0M492.6 109.9h0M493.0 106.7h0M493.3 103.2h0M493.5 108.0h0M493.9 102.3h0M493.8 104.1h0M494.1 101.3h0M495.0 104.5h0M495.2 108.8h0M495.4 107.3h0M496.2 112.8h0M496.7 106.0h0M496.8 105.1h0M497.0 103.8h0M497.3 110.2h0M497.8 109.8h0M498.6 121.0h0M498.5 122.0h0M499.2 125.5h0M499.4 121.7h0M499.8 124.8h0M499.8 129.6h0M500.4 132.6h0M501.0 131.3h0M501.0 133.2h0M501.9 134.8h0M502.3 135.9h0M502.5 133.8h0M503.0 132.2h0M503.6 136.3h0M503.7 138.1h0M504.5 138.7h0M504.2 138.8h0M504.7 133.4h0M505.2 136.8h0M505.7 132.7h0M506.0 134.6h0M506.3 133.6h0M506.8 133.5h0M507.1 132.2h0M507.7 128.9h0M507.8 123.5h0M508.6 116.4h0M508.6 111.5h0M508.8 109.6h0M509.3 116.7h0M510.1 115.9h0M510.1 113.3h0M510.7 115.3h0M511.4 113.2h0M511.5 116.1h0M511.5 117.9h0M512.0 119.2h0M512.6 115.7h0M512.9 113.6h0M513.5 112.5h0M513.8 112.9h0M514.4 114.2h0M515.2 114.2h0M514.6 115.5h0M515.3 95.6h0M515.7 75.7h0M515.6 82.7h0M515.9 74.2h0M515.9 74.4h0M516.2 76.7h0M516.4 74.2h0M516.9 88.8h0M516.6 75.3h0M517.0 83.5h0M517.4 97.6h0M517.5 98.4h0M517.6 88.0h0M517.7 91.0h0M518.0 93.9h0M517.7 90.2h0M518.0 101.6h0M518.3 103.8h0M517.9 100.1h0M518.6 97.6h0M518.3 88.2h0M518.7 102.4h0M519.0 89.6h0M519.1 89.3h0M518.7 106.1h0M519.6 95.6h0M519.6 99.7h0M520.1 101.4h0M519.9 102.8h0M520.3 103.9h0M520.8 114.3h0M520.5 113.2h0M520.9 115.3h0M521.7 117.7h0M521.2 119.8h0M521.6 121.5h0M521.4 124.6h0M522.0 123.6h0M522.4 129.6h0M522.7 132.5h0M523.4 138.1h0M524.2 140.3h0M524.6 134.8h0M525.3 137.5h0M525.6 135.4h0M526.3 140.2h0M526.6 140.9h0M527.1 138.0h0M527.3 134.7h0M528.0 139.4h0M528.0 134.6h0M528.7 134.9h0M529.4 127.2h0M529.7 126.1h0M529.9 127.3h0M530.2 133.7h0M530.6 128.3h0M530.1 121.4h0M530.6 120.0h0M530.9 116.4h0M530.8 118.9h0M530.8 108.5h0M531.3 108.3h0M531.6 109.6h0M531.8 118.3h0M531.3 121.2h0M532.1 100.1h0M532.2 117.4h0M532.0 117.0h0M532.4 98.2h0M532.6 112.9h0M532.2 102.0h0M532.5 94.8h0M533.1 104.2h0M532.5 106.6h0M532.9 98.9h0M533.0 84.6h0M533.5 80.4h0M533.5 79.6h0M533.2 83.4h0M533.4 86.0h0M533.4 77.9h0M533.7 78.5h0" stroke="#f53535" stroke-width="2.0" stroke-linecap="round" fill="none"/>
<path d="M325.3 129.7h0M325.8 121.3h0M326.5 120.0h0M326.7 119.0h0M327.2 117.0h0M327.4 115.4h0M327.7 118.4h0M327.9 110.7h0M328.7 111.1h0M328.5 110.5h0M329.2 115.4h0M329.2 112.6h0M329.6 117.2h0M330.0 115.5h0M329.7 108.8h0M330.6 111.2h0M330.3 112.3h0M330.7 116.7h0M331.4 110.0h0M331.9 116.3h0M332.0 108.5h0M332.0 118.9h0M332.1 110.1h0M332.4 111.7h0M332.9 114.9h0M333.5 117.7h0M333.6 110.1h0M333.9 114.8h0M334.3 116.2h0M334.9 117.0h0M335.2 118.8h0M335.7 117.6h0M336.0 119.7h0M336.1 119.7h0M337.0 120.5h0M337.6 118.0h0M337.7 113.8h0M338.0 122.1h0M338.2 111.6h0M338.4 113.1h0M338.8 119.9h0M338.9 123.1h0M339.5 116.7h0M339.8 121.5h0M340.3 121.5h0M340.1 116.9h0M340.7 113.1h0M340.6 111.8h0M340.7 120.9h0M340.7 114.5h0M340.7 122.9h0M341.1 122.5h0M341.5 115.0h0M341.6 116.2h0M341.9 113.0h0M342.0 112.5h0M342.4 117.6h0M342.5 111.1h0M342.6 110.2h0M342.9 118.1h0M343.1 119.2h0M343.7 116.2h0M348.8 125.7h0M349.2 126.6h0M350.0 124.3h0M350.6 123.1h0M350.6 133.0h0M350.6 127.3h0M351.2 124.2h0M351.5 128.2h0M351.9 136.4h0M351.6 130.5h0M352.3 126.2h0M352.1 134.3h0M352.6 135.0h0M352.6 128.5h0M353.2 140.7h0M353.1 135.4h0M353.3 129.9h0M353.4 136.4h0M353.7 128.4h0M354.1 143.2h0M354.1 138.6h0M354.4 144.3h0M354.9 129.3h0M354.8 139.3h0M355.3 130.1h0M355.6 139.2h0M355.5 134.2h0M356.2 132.5h0M356.1 142.4h0M356.3 133.9h0M356.3 132.0h0M357.1 133.3h0M356.7 133.8h0M357.6 133.9h0M357.5 130.9h0M358.0 134.8h0M358.0 129.2h0M358.4 133.1h0M358.0 143.0h0M358.8 135.7h0M358.7 139.1h0M359.2 134.9h0M358.8 139.8h0M359.5 141.5h0M359.3 141.8h0M360.1 134.7h0M360.7 138.3h0M361.0 138.4h0M360.7 141.3h0M361.5 140.6h0M362.0 142.0h0M361.8 138.1h0M362.3 142.8h0M362.6 142.3h0M362.5 140.9h0M363.1 134.0h0M363.7 133.8h0M364.0 135.8h0M364.3 142.3h0M364.9 135.1h0M365.8 139.8h0M365.8 139.8h0M366.2 141.6h0M366.8 140.5h0M367.3 137.7h0M367.7 139.5h0M368.3 142.1h0M368.5 137.4h0M369.0 136.8h0M369.6 134.8h0M370.0 133.7h0M370.1 138.9h0M371.1 133.7h0M371.1 131.7h0M371.9 137.5h0M372.2 136.8h0M372.5 136.9h0M372.9 138.6h0M373.9 142.6h0M373.8 138.2h0M374.4 140.9h0M374.5 145.0h0M374.8 138.6h0M375.3 142.4h0M375.7 135.4h0M376.2 135.4h0M377.5 136.7h0M377.6 138.4h0M378.3 133.1h0M378.5 133.5h0M379.0 130.7h0M379.4 132.2h0M379.8 132.5h0M380.5 129.5h0M380.8 131.7h0M381.4 127.8h0M381.7 128.8h0M382.3 127.1h0M382.7 128.1h0M382.7 126.5h0M383.1 121.8h0M383.8 126.1h0M384.6 122.6h0M384.5 124.9h0M384.8 119.7h0M384.7 123.2h0M385.2 124.5h0M385.9 125.2h0M385.7 124.8h0M386.5 123.5h0M386.7 119.0h0M387.4 120.1h0M387.8 123.5h0M388.2 120.7h0M388.3 121.6h0M388.5 124.0h0M389.1 124.4h0M389.7 126.8h0M389.9 123.1h0M390.2 129.4h0M390.9 127.3h0M391.1 123.8h0M392.0 128.5h0M392.5 126.5h0M393.0 124.4h0M392.8 127.9h0M392.8 121.5h0M393.5 125.3h0M393.7 128.4h0M394.4 134.4h0M394.5 124.4h0M394.9 126.0h0M395.6 131.6h0M396.1 128.7h0M396.1 130.5h0M396.5 124.0h0M397.2 123.3h0M397.0 131.1h0M397.2 121.7h0M398.1 118.8h0M398.1 117.2h0M398.7 111.3h0M399.1 108.0h0M399.0 116.5h0M399.6 113.7h0M399.3 108.6h0M399.8 111.6h0M400.3 113.8h0M400.9 112.6h0M401.0 112.3h0M401.1 112.1h0M402.1 111.4h0M402.1 114.4h0M402.0 113.6h0M402.8 108.6h0M403.0 108.8h0M402.9 108.1h0M403.5 106.1h0M404.4 106.3h0M404.7 114.3h0M404.6 112.2h0M404.9 112.1h0M405.3 107.6h0M406.2 106.2h0M406.4 106.7h0M406.6 113.6h0M406.5 108.2h0M407.1 109.0h0M407.6 112.4h0M408.0 111.5h0M408.6 114.7h0M409.3 112.0h0M409.3 114.0h0M410.2 117.8h0M410.5 112.8h0M410.9 117.2h0M411.2 116.3h0M411.6 120.2h0M411.6 117.3h0M412.1 123.5h0M412.7 123.4h0M413.2 122.8h0M413.4 121.3h0M414.2 123.4h0M414.3 126.6h0M414.6 124.4h0M415.0 131.0h0M415.1 125.9h0M415.6 127.5h0M415.4 129.3h0M415.7 136.0h0M416.5 132.6h0M417.0 132.8h0M417.0 134.4h0M417.4 137.7h0M418.3 134.4h0M418.6 139.6h0M418.9 143.2h0M419.6 143.9h0M420.0 141.6h0M420.1 145.2h0M420.6 141.5h0M420.9 146.4h0M421.2 143.7h0M421.7 140.9h0M422.0 146.1h0M422.4 144.3h0M423.0 146.4h0M423.7 144.1h0M423.9 148.0h0M424.9 144.5h0M425.2 145.6h0M426.2 146.1h0M426.2 147.0h0M426.7 148.0h0M427.0 144.7h0M427.4 150.4h0M428.2 147.7h0M429.1 147.7h0M429.5 148.0h0M430.0 148.7h0M430.5 143.2h0M430.9 144.2h0M432.1 147.7h0M432.8 147.4h0M433.3 147.9h0M433.6 146.7h0M434.3 144.9h0M434.9 147.7h0M435.5 145.4h0M436.2 147.1h0M436.3 146.8h0M437.0 146.0h0M437.3 145.0h0M438.0 147.0h0M438.7 141.6h0M439.1 143.3h0M439.5 141.5h0M439.9 140.2h0M440.2 141.3h0M441.2 146.1h0M441.7 143.9h0M441.9 143.9h0M442.6 143.2h0M442.6 146.6h0M443.1 142.1h0M443.4 145.1h0M443.7 142.8h0M444.3 142.4h0M445.0 138.1h0M445.2 137.3h0M445.4 136.6h0M446.0 140.8h0M446.2 144.2h0M446.8 139.8h0M447.6 140.4h0M447.8 145.2h0M448.2 143.6h0M449.0 138.1h0M449.4 137.2h0M449.5 134.9h0M449.5 136.6h0M450.2 133.1h0M450.9 134.3h0M451.3 134.2h0M451.5 134.2h0M451.3 138.3h0M451.9 135.5h0M452.7 140.3h0M452.9 137.0h0M453.1 137.2h0M453.3 138.0h0M453.8 139.0h0M453.9 131.3h0M454.2 139.7h0M454.7 138.9h0M455.1 139.7h0M455.6 142.6h0M456.6 143.5h0M457.1 144.3h0M457.6 142.7h0M457.8 145.6h0M458.4 143.7h0M458.9 141.7h0M459.9 146.7h0M460.1 144.8h0M461.5 143.9h0M461.7 144.0h0M461.8 140.3h0M462.3 142.7h0M462.8 142.2h0M463.3 143.9h0M463.5 139.5h0M464.4 139.4h0M465.0 141.0h0M465.4 137.1h0M465.6 132.8h0M465.9 132.0h0M466.3 136.2h0M466.5 132.4h0M466.8 132.9h0M467.5 135.6h0M468.1 133.3h0M468.4 134.5h0M468.9 133.6h0M469.1 131.5h0M469.8 135.2h0M470.5 133.8h0M470.8 127.5h0M471.6 135.5h0M471.8 131.7h0M472.4 129.5h0M473.0 130.7h0M473.1 134.2h0M473.7 128.4h0M473.9 130.6h0M474.2 128.5h0M475.0 127.5h0M475.2 131.4h0M475.2 136.0h0M475.6 127.0h0M476.2 129.2h0M476.4 136.0h0M477.0 133.5h0M477.2 136.7h0M477.3 142.2h0M477.7 137.6h0M477.9 140.1h0M478.2 142.5h0M478.5 141.2h0M478.7 143.8h0M478.9 142.0h0M479.9 141.0h0M480.2 142.2h0M480.4 136.6h0M481.3 139.6h0M481.6 138.3h0M481.7 132.0h0M482.1 133.3h0M482.5 125.0h0M483.0 128.0h0M483.4 127.0h0M483.3 122.3h0M483.8 123.9h0M483.9 120.6h0M483.9 126.7h0M484.6 124.9h0M485.2 128.4h0M485.7 125.4h0M485.6 127.2h0M486.0 123.2h0M486.1 117.4h0M486.8 125.1h0M487.3 120.0h0M487.1 121.5h0M487.7 123.2h0M488.2 115.8h0M488.3 125.3h0M489.1 118.4h0M489.7 121.1h0M489.3 120.4h0M490.3 118.9h0M490.6 124.5h0M491.0 120.7h0M491.6 113.7h0M491.8 120.4h0M492.0 118.5h0M492.4 113.8h0M492.8 121.0h0M493.5 117.7h0M493.4 114.7h0M493.6 113.0h0M494.0 117.4h0M494.3 111.6h0M495.0 119.4h0M495.0 114.4h0M494.9 120.0h0M495.9 116.4h0M496.3 112.1h0M496.5 120.1h0M496.7 114.9h0M497.1 116.3h0M497.6 115.9h0M497.7 125.0h0M498.1 128.6h0M499.0 119.3h0M499.1 129.0h0M499.1 125.2h0M499.4 131.4h0M499.7 131.3h0M500.5 128.0h0M500.2 131.7h0M501.1 140.0h0M501.1 135.0h0M501.9 135.1h0M501.8 132.7h0M502.4 134.5h0M502.7 133.2h0M503.1 136.5h0M503.5 138.0h0M503.9 135.8h0M504.2 138.7h0M504.1 133.1h0M505.0 137.5h0M505.7 138.9h0M506.2 133.3h0M506.9 139.4h0M507.3 137.5h0M507.6 126.1h0M507.8 129.6h0M508.7 124.5h0M508.9 127.3h0M509.2 121.8h0M509.2 122.2h0M509.7 125.0h0M510.2 123.8h0M510.8 119.0h0M511.4 127.0h0M511.9 119.1h0M511.7 120.4h0M512.8 120.7h0M513.1 118.5h0M513.4 121.3h0M513.9 121.4h0M514.5 120.4h0M514.8 121.6h0M514.8 118.6h0M515.4 116.3h0M516.0 114.6h0M516.3 114.3h0M516.6 116.1h0M517.3 112.7h0M517.6 117.8h0M518.2 114.7h0M518.7 114.7h0M519.3 121.9h0M519.9 118.9h0M520.1 115.5h0M520.6 123.3h0M521.3 121.3h0M521.6 126.2h0M521.7 121.8h0M521.6 129.8h0M522.4 127.9h0M522.7 131.1h0M523.1 135.9h0M523.3 142.2h0M524.1 142.8h0M524.4 144.8h0M524.9 139.1h0M525.0 140.3h0M525.5 143.8h0M526.0 140.7h0M526.2 141.9h0M526.7 145.0h0M527.1 140.4h0M527.5 142.8h0M528.1 144.0h0M528.6 141.5h0M529.0 136.2h0M529.2 131.6h0M529.9 137.1h0M530.1 139.2h0M530.3 131.8h0M530.4 131.8h0M530.6 139.0h0M530.6 128.8h0M530.9 130.2h0M530.8 129.2h0M530.9 123.7h0M531.3 132.4h0M531.4 120.2h0M531.5 113.9h0M532.3 115.6h0M531.9 109.1h0M531.8 111.8h0M531.8 128.0h0M532.5 112.6h0M532.6 118.1h0M532.4 122.6h0M532.5 105.2h0M532.6 124.5h0M532.6 120.8h0M532.5 105.4h0M532.7 98.1h0M533.5 96.5h0M533.5 112.6h0M533.4 98.3h0M533.0 117.0h0M533.4 89.1h0M533.9 102.6h0" stroke="#1f6fec" stroke-width="2.3" stroke-linecap="round" fill="none"/>
<path d="M38.4 346.3h0M38.7 346.0h0M39.9 345.7h0M40.4 344.3h0M40.6 345.2h0M41.2 337.4h0M41.6 334.8h0M42.8 319.3h0M43.0 323.0h0M43.9 321.6h0M44.2 324.5h0M44.7 332.2h0M45.1 332.0h0M45.3 341.2h0M46.1 345.6h0M47.9 345.8h0M48.6 345.0h0M49.0 346.9h0M49.5 343.7h0M50.1 345.2h0M50.5 346.5h0M50.8 347.3h0M51.1 346.7h0M51.9 346.5h0M52.1 346.1h0M52.4 349.0h0M53.3 348.4h0M54.3 342.1h0M54.7 339.7h0M55.2 336.8h0M55.3 337.8h0M55.6 335.1h0M56.5 334.4h0M56.6 336.4h0M57.1 336.5h0M57.5 337.1h0M57.8 336.6h0M58.6 338.8h0M58.8 336.5h0M59.1 336.9h0M59.9 339.6h0M61.3 339.1h0M61.9 340.5h0M62.0 338.8h0M62.7 335.5h0M62.6 330.3h0M64.4 315.2h0M65.0 313.8h0M65.5 316.4h0M66.1 322.4h0M65.7 319.1h0M66.4 326.7h0M66.8 330.8h0M67.3 335.2h0M67.7 340.4h0M68.1 346.0h0M68.2 345.3h0M68.8 344.0h0M70.0 344.7h0M71.1 345.1h0M71.7 345.1h0M72.2 346.5h0M72.6 346.1h0M72.8 346.6h0M73.4 342.4h0M73.8 347.9h0M74.9 344.7h0M75.0 340.1h0M76.6 343.2h0M77.6 345.6h0M78.3 345.3h0M78.9 344.6h0M79.1 345.5h0M79.9 344.0h0M80.0 344.9h0M81.2 335.6h0M81.1 335.3h0M81.2 331.0h0M81.8 332.3h0M83.1 334.4h0M84.4 338.9h0M85.1 335.4h0M85.6 331.3h0M85.7 329.1h0M86.6 329.9h0M87.0 325.9h0M87.1 321.4h0M87.9 314.5h0M88.7 312.8h0M89.1 313.6h0M89.9 317.5h0M90.2 321.0h0M90.3 326.9h0M91.2 329.8h0M91.7 334.5h0M91.6 339.4h0M92.0 343.5h0M92.3 339.8h0M93.0 340.2h0M93.2 342.7h0M94.1 343.3h0M94.2 343.0h0M94.9 343.6h0M95.6 341.4h0M95.8 342.8h0M96.3 338.4h0M96.6 337.8h0M97.7 338.3h0M98.5 337.9h0M99.1 339.9h0M99.3 335.2h0M100.0 340.6h0M100.1 342.3h0M100.7 337.7h0M101.4 339.2h0M101.6 334.0h0M102.1 338.6h0M102.4 335.8h0M102.8 335.4h0M102.8 334.1h0M104.7 340.5h0M104.9 340.4h0M105.6 339.6h0M106.1 338.6h0M106.2 338.7h0M106.8 345.2h0M107.5 339.9h0M108.2 336.1h0M108.4 333.3h0M109.4 328.2h0M109.6 326.1h0M109.9 328.5h0M110.3 322.5h0M110.3 321.1h0M110.9 314.5h0M111.3 316.5h0M111.8 311.8h0M112.3 306.7h0M112.5 317.3h0M113.2 325.1h0M113.7 329.8h0M113.6 334.8h0M114.1 342.3h0M114.8 335.8h0M116.0 341.3h0M116.5 341.8h0M117.3 346.8h0M117.6 345.3h0M118.4 348.0h0M119.1 347.1h0M119.7 341.0h0M120.1 336.9h0M120.5 333.2h0M121.0 332.4h0M121.0 330.9h0M121.4 331.3h0M122.5 329.4h0M123.2 328.3h0M124.0 330.8h0M124.6 332.9h0M124.8 337.5h0M125.2 335.4h0M125.8 335.7h0M126.0 340.6h0M126.4 339.9h0M126.9 343.3h0M127.3 337.6h0M127.7 341.6h0M128.5 339.5h0M128.9 337.5h0M129.3 333.3h0M129.9 333.0h0M130.3 326.2h0M130.7 323.6h0M131.1 325.3h0M131.6 317.4h0M132.2 316.7h0M132.2 312.8h0M132.4 313.2h0M132.7 309.1h0M133.1 306.8h0M133.7 304.8h0M134.3 302.9h0M134.5 307.1h0M134.8 307.6h0M135.0 313.5h0M135.6 314.6h0M136.3 314.0h0M136.3 313.6h0M136.7 316.2h0M137.7 317.7h0M137.8 311.5h0M138.3 317.1h0M138.9 317.3h0M138.8 313.3h0M139.2 318.0h0M140.5 320.4h0M140.8 317.9h0M141.0 315.0h0M141.3 316.2h0M141.8 309.8h0M142.4 303.9h0M142.8 304.7h0M142.6 302.5h0M142.8 294.9h0M143.3 303.5h0M143.6 306.7h0M144.0 309.8h0M144.5 314.6h0M145.0 317.8h0M144.8 324.8h0M145.3 318.8h0M145.7 321.5h0M146.2 325.5h0M146.9 328.3h0M147.0 331.1h0M147.4 330.9h0M148.0 331.1h0M148.3 336.0h0M149.1 332.5h0M150.0 338.1h0M149.9 338.5h0M150.5 337.7h0M150.8 342.2h0M150.7 343.1h0M151.3 343.6h0M152.2 341.9h0M152.4 338.6h0M152.8 341.8h0M153.3 340.9h0M154.5 339.8h0M155.7 337.5h0M156.4 339.6h0M156.8 337.1h0M157.1 340.7h0M158.0 336.3h0M158.8 341.3h0M158.9 340.8h0M159.8 337.0h0M160.0 336.9h0M160.5 338.2h0M160.8 334.8h0M161.6 335.1h0M161.6 340.6h0M162.4 337.0h0M162.9 340.8h0M163.0 339.2h0M163.7 340.5h0M164.3 339.0h0M164.3 339.8h0M164.7 339.0h0M165.2 332.9h0M166.0 336.7h0M166.6 338.1h0M167.0 336.1h0M167.2 338.6h0M167.5 339.0h0M167.8 337.0h0M168.4 337.9h0M168.8 336.9h0M169.3 336.4h0M170.0 334.7h0M170.1 331.0h0M170.6 331.8h0M170.9 331.7h0M171.6 329.6h0M172.1 337.0h0M172.5 337.5h0M173.1 339.2h0M173.8 337.6h0M174.0 338.6h0M174.3 339.5h0M174.6 343.8h0M175.4 345.6h0M175.7 345.3h0M176.3 332.6h0M176.5 331.7h0M177.1 323.8h0M177.6 318.3h0M177.9 309.4h0M178.1 310.6h0M178.1 308.5h0M178.9 306.4h0M179.2 314.0h0M179.5 313.6h0M179.9 315.1h0M180.0 320.3h0M180.4 324.5h0M180.6 329.9h0M181.4 329.9h0M181.9 340.3h0M182.0 342.6h0M182.3 346.2h0M182.9 347.0h0M183.4 347.4h0M183.7 345.8h0M185.4 347.5h0M185.9 344.8h0M186.2 344.9h0M186.6 347.1h0M187.0 346.8h0M187.2 342.9h0M187.8 345.6h0M188.1 341.0h0M188.5 341.5h0M189.4 339.5h0M190.4 337.4h0M191.4 337.4h0M192.3 333.3h0M192.5 334.7h0M192.6 331.4h0M193.6 332.8h0M193.7 336.4h0M194.4 332.1h0M195.0 333.9h0M195.3 336.3h0M195.6 331.4h0M196.0 336.0h0M196.7 332.5h0M196.9 335.4h0M197.4 331.2h0M198.1 331.0h0M198.4 334.3h0M199.7 331.4h0M200.1 334.4h0M201.2 333.9h0M201.7 335.0h0M202.3 336.6h0M202.7 331.9h0M202.7 335.1h0M203.5 337.4h0M203.7 340.5h0M204.4 346.5h0M204.8 345.5h0M205.6 345.7h0M206.9 347.0h0M207.4 347.1h0M207.4 348.0h0M208.2 347.3h0M208.5 348.0h0M209.9 345.7h0M210.5 345.1h0M211.0 343.6h0M211.5 345.8h0M211.9 345.5h0M212.5 344.9h0M214.0 342.5h0M214.5 341.7h0M215.4 340.5h0M215.7 338.7h0M215.7 333.5h0M216.0 335.0h0M216.5 342.5h0M217.3 340.5h0M217.8 341.8h0M217.9 342.1h0M218.5 339.9h0M219.4 344.2h0M219.8 342.0h0M219.8 343.7h0M220.4 337.3h0M220.8 341.0h0M222.1 339.4h0M222.5 340.4h0M222.5 344.3h0M222.9 345.0h0M223.7 339.0h0M223.8 339.4h0M224.4 337.6h0M224.9 331.2h0M225.4 333.5h0M225.2 330.2h0M225.4 332.9h0M226.1 330.0h0M226.5 325.2h0M226.8 332.3h0M227.0 329.5h0M227.7 328.3h0M228.0 328.0h0M228.6 324.2h0M228.5 319.6h0M228.8 318.7h0M229.3 323.2h0M228.9 323.3h0M229.6 313.7h0M229.6 318.3h0M229.8 317.6h0M229.8 320.9h0M230.4 319.9h0M231.1 317.6h0M231.2 313.6h0M231.4 314.1h0M232.1 314.8h0M232.6 310.2h0M232.8 307.7h0M233.3 305.9h0M233.0 312.8h0M233.4 302.9h0M233.7 301.9h0M233.7 303.2h0M234.3 300.4h0M234.4 297.1h0M234.6 304.3h0M235.3 306.2h0M235.6 309.2h0M236.5 308.6h0M236.7 308.9h0M236.8 305.6h0M237.5 303.3h0M237.8 304.5h0M238.5 306.9h0M238.5 301.0h0M238.5 303.5h0M238.9 304.8h0M239.1 307.1h0M239.6 307.7h0M240.1 313.1h0M240.1 315.1h0M240.2 320.3h0M240.5 317.0h0M240.9 321.5h0M240.9 320.6h0M241.6 321.3h0M241.8 317.0h0M242.0 321.6h0M242.0 322.4h0M242.5 320.1h0M242.3 317.8h0M243.0 321.6h0M242.8 315.4h0M243.2 323.7h0M242.8 320.2h0M243.7 322.3h0M243.7 319.4h0M243.7 315.6h0M244.3 322.7h0M245.0 320.8h0M245.4 319.8h0M245.2 320.1h0M245.4 316.9h0M246.1 318.1h0M245.6 320.5h0M246.2 321.7h0M246.9 323.2h0M247.0 322.5h0M248.0 321.9h0M247.9 319.8h0M248.4 324.1h0M248.2 326.2h0M248.9 322.1h0M248.5 318.3h0M248.8 326.4h0M249.6 324.9h0M249.7 329.7h0M250.1 328.0h0M250.1 319.4h0M250.4 325.5h0M251.0 329.9h0M251.1 321.7h0M251.3 321.2h0M251.6 325.3h0M251.9 330.9h0M252.3 331.8h0M252.2 322.8h0M252.7 324.7h0M253.3 331.9h0M252.9 328.4h0M253.7 330.7h0M253.7 327.6h0M254.5 325.8h0M254.2 319.3h0M255.0 326.5h0M255.3 323.0h0M255.8 322.5h0M256.1 319.9h0M256.4 314.2h0M256.9 319.2h0M257.2 314.8h0M257.8 316.3h0M257.7 318.8h0M258.5 319.8h0M258.5 314.8h0M258.4 321.4h0M259.2 318.3h0M259.4 313.3h0" stroke="#666666" stroke-width="1.7" stroke-linecap="square" fill="none"/>
<path d="M38.0 351.9h0M38.4 347.1h0M38.5 349.2h0M38.9 351.1h0M38.9 351.8h0M39.4 350.0h0M39.6 349.0h0M40.0 348.5h0M39.6 349.6h0M40.1 346.0h0M40.3 350.5h0M40.4 350.9h0M40.7 345.7h0M40.9 344.5h0M41.4 333.4h0M41.2 333.5h0M41.2 338.5h0M41.7 338.6h0M41.7 334.5h0M42.1 335.9h0M42.2 332.9h0M42.6 327.7h0M42.2 329.4h0M42.6 319.9h0M42.5 332.4h0M42.6 321.7h0M42.7 332.0h0M43.0 335.9h0M43.3 327.3h0M43.0 339.3h0M43.4 336.3h0M43.2 337.3h0M43.5 337.6h0M43.7 331.3h0M43.9 327.6h0M43.4 340.4h0M43.8 331.1h0M44.0 326.4h0M44.2 326.0h0M43.8 335.7h0M43.9 343.3h0M44.2 343.1h0M44.2 331.2h0M44.2 341.4h0M44.2 342.7h0M44.2 338.9h0M45.0 338.2h0M44.8 347.0h0M44.9 335.8h0M44.7 340.4h0M45.1 341.5h0M45.6 344.4h0M45.3 343.7h0M45.9 352.0h0M45.9 352.1h0M46.2 348.8h0M46.3 345.5h0M46.5 349.6h0M47.0 350.2h0M47.2 352.6h0M47.7 348.2h0M47.3 353.5h0M47.9 347.9h0M48.1 352.5h0M48.4 352.9h0M48.5 351.0h0M49.2 346.9h0M49.4 351.8h0M49.6 349.5h0M49.8 352.2h0M50.3 350.8h0M50.5 353.8h0M50.6 348.2h0M50.6 353.7h0M51.2 347.7h0M51.1 354.1h0M51.9 352.6h0M52.3 350.6h0M51.9 351.7h0M52.4 348.5h0M53.3 348.4h0M52.8 356.0h0M53.1 351.1h0M53.4 353.6h0M53.7 351.5h0M53.7 347.3h0M54.6 352.3h0M54.3 349.4h0M54.5 343.5h0M55.0 347.8h0M54.8 349.7h0M54.8 342.6h0M55.1 347.7h0M55.4 345.7h0M55.7 344.2h0M56.2 344.4h0M55.9 343.3h0M55.7 344.0h0M56.3 339.7h0M56.2 345.1h0M56.2 345.5h0M57.1 338.8h0M56.7 342.9h0M56.8 348.2h0M57.2 345.5h0M57.2 337.8h0M57.4 340.4h0M57.9 346.3h0M57.5 338.5h0M57.5 347.0h0M57.9 340.1h0M58.2 337.4h0M57.7 338.5h0M58.2 336.8h0M58.7 350.0h0M58.2 342.9h0M58.2 348.4h0M58.6 350.6h0M59.1 338.5h0M59.1 339.9h0M58.9 347.0h0M59.1 352.4h0M59.3 347.6h0M59.5 339.7h0M59.9 350.5h0M59.9 348.5h0M60.0 344.5h0M60.0 350.1h0M60.1 344.7h0M60.3 339.4h0M60.3 339.0h0M60.3 342.6h0M60.6 345.9h0M60.5 349.1h0M60.7 341.6h0M61.0 343.5h0M61.4 349.7h0M60.9 342.0h0M61.3 350.5h0M61.4 349.7h0M61.3 352.8h0M61.3 344.9h0M61.9 342.8h0M62.2 341.0h0M61.9 341.2h0M62.2 349.1h0M62.5 346.0h0M62.6 338.0h0M62.5 340.6h0M63.0 343.5h0M63.0 329.3h0M62.7 341.2h0M63.4 332.5h0M63.6 327.6h0M63.2 327.1h0M63.5 331.1h0M63.9 332.3h0M63.5 321.0h0M64.1 324.4h0M64.0 326.3h0M64.3 317.4h0M64.6 325.8h0M64.4 323.5h0M64.5 319.3h0M65.2 319.2h0M65.1 322.3h0M65.2 328.6h0M65.2 324.7h0M65.4 319.9h0M65.5 320.7h0M65.3 328.6h0M65.1 331.6h0M66.0 322.3h0M66.0 336.2h0M66.1 324.1h0M65.6 322.7h0M66.1 324.9h0M65.9 332.3h0M66.2 336.3h0M66.0 332.8h0M65.8 335.3h0M66.3 331.7h0M66.2 332.6h0M66.4 327.5h0M66.3 340.3h0M66.9 345.5h0M67.0 336.7h0M66.7 340.5h0M67.6 340.6h0M67.2 343.7h0M67.3 340.4h0M67.7 342.8h0M67.8 351.7h0M67.9 350.1h0M67.8 350.6h0M68.6 349.2h0M68.3 349.5h0M68.9 354.2h0M68.8 344.9h0M69.5 347.6h0M69.3 348.8h0M69.6 350.3h0M69.8 349.8h0M70.0 355.2h0M70.4 346.7h0M70.5 346.9h0M71.0 346.0h0M71.0 348.0h0M71.4 350.0h0M71.7 351.2h0M72.1 350.7h0M72.2 350.6h0M72.4 348.7h0M72.5 347.1h0M73.1 351.6h0M73.0 348.7h0M73.6 350.2h0M73.5 352.8h0M73.6 351.9h0M73.8 347.6h0M74.5 352.9h0M74.2 351.8h0M74.8 350.9h0M74.6 355.0h0M74.9 348.4h0M75.3 350.9h0M75.4 348.3h0M75.5 350.5h0M76.1 348.0h0M76.4 353.1h0M76.3 352.8h0M77.1 346.5h0M76.9 347.2h0M77.3 350.6h0M77.5 351.1h0M78.0 346.7h0M78.0 349.4h0M78.6 353.0h0M78.2 348.8h0M78.6 349.3h0M78.5 348.9h0M79.2 351.5h0M79.2 348.3h0M79.5 350.1h0M79.5 352.5h0M80.3 354.9h0M79.8 346.6h0M80.5 347.0h0M80.5 343.8h0M80.4 350.3h0M81.1 349.7h0M80.6 341.1h0M80.8 347.7h0M81.5 346.0h0M81.2 345.9h0M81.2 335.9h0M81.2 336.8h0M81.3 333.3h0M81.6 336.1h0M81.5 345.0h0M81.5 343.1h0M82.1 335.0h0M81.9 337.4h0M82.1 347.1h0M82.0 341.1h0M82.6 348.3h0M82.3 345.8h0M82.7 344.4h0M83.0 347.0h0M82.6 342.4h0M82.6 349.4h0M83.4 339.3h0M83.6 335.8h0M83.6 341.2h0M83.9 341.4h0M83.6 338.2h0M84.0 347.4h0M84.5 347.2h0M84.8 345.7h0M84.3 338.7h0M85.0 341.1h0M84.8 344.7h0M85.6 336.2h0M85.1 338.6h0M86.1 339.4h0M85.6 339.0h0M86.1 336.6h0M86.1 335.6h0M86.3 330.3h0M86.1 339.9h0M86.8 339.5h0M86.6 333.7h0M87.0 337.1h0M86.5 333.3h0M87.2 338.2h0M87.3 328.8h0M87.5 330.3h0M87.2 336.7h0M87.8 334.3h0M87.7 330.6h0M87.9 335.9h0M88.0 324.3h0M88.3 330.1h0M87.9 328.2h0M88.7 332.3h0M88.3 325.3h0M88.4 323.0h0M88.8 332.6h0M88.6 328.4h0M88.9 324.5h0M88.7 319.4h0M89.0 314.4h0M89.5 329.8h0M89.2 331.9h0M89.4 331.0h0M89.4 326.1h0M89.6 322.7h0M89.7 324.4h0M89.8 334.1h0M89.9 326.3h0M90.0 329.5h0M90.0 336.8h0M90.0 332.4h0M90.2 332.9h0M90.6 338.1h0M90.7 338.0h0M90.2 338.8h0M90.4 326.2h0M91.1 334.6h0M91.0 343.3h0M91.2 332.8h0M90.8 344.4h0M91.4 344.4h0M91.6 340.4h0M91.5 342.9h0M91.9 338.1h0M92.0 350.2h0M91.6 343.4h0M91.9 344.9h0M91.8 346.6h0M91.8 349.0h0M92.3 345.0h0M92.7 343.2h0M92.5 344.8h0M92.5 346.5h0M93.0 348.9h0M93.2 347.9h0M93.6 344.4h0M93.1 353.6h0M93.6 344.4h0M93.6 353.7h0M93.7 348.0h0M93.9 351.2h0M94.5 353.6h0M94.4 354.9h0M94.7 348.5h0M94.7 354.6h0M94.7 352.7h0M95.5 352.2h0M95.2 346.9h0M95.8 351.0h0M96.1 352.6h0M96.0 350.9h0M96.0 349.5h0M96.2 353.7h0M97.0 347.3h0M96.5 348.6h0M97.0 347.0h0M97.3 350.1h0M97.1 349.0h0M97.8 344.2h0M97.5 348.4h0M97.9 348.2h0M97.8 353.1h0M98.0 347.2h0M98.4 351.1h0M98.5 352.3h0M98.8 351.5h0M98.8 346.8h0M98.8 353.0h0M99.3 348.8h0M99.4 346.5h0M99.2 347.3h0M100.0 351.8h0M99.8 343.6h0M100.0 344.0h0M100.1 346.5h0M100.3 341.9h0M100.5 348.9h0M100.6 346.7h0M100.7 348.1h0M100.5 349.2h0M101.0 351.5h0M101.2 342.6h0M100.9 345.7h0M101.7 341.3h0M101.5 351.4h0M101.4 347.1h0M101.9 342.6h0M102.1 349.4h0M102.0 348.0h0M102.3 345.4h0M102.1 352.1h0M101.9 351.0h0M102.9 341.2h0M102.9 339.1h0M102.5 350.3h0M102.8 347.4h0M103.2 349.4h0M102.9 349.4h0M103.7 349.6h0M103.4 349.8h0M103.7 350.1h0M103.8 345.3h0M103.8 350.0h0M103.7 344.7h0M104.4 346.0h0M104.5 352.6h0M104.3 342.6h0M105.1 351.1h0M104.6 342.6h0M104.9 340.5h0M105.2 345.8h0M105.1 351.4h0M105.2 349.3h0M105.8 344.4h0M106.0 343.5h0M105.8 351.8h0M106.4 347.0h0M106.5 348.7h0M106.4 350.9h0M106.8 348.2h0M107.0 351.2h0M106.4 348.3h0M106.6 341.7h0M106.6 351.5h0M107.0 349.5h0M107.5 343.8h0M107.6 345.1h0M107.2 346.3h0M107.6 348.3h0M107.6 344.7h0M107.9 352.8h0M108.0 348.2h0M108.2 349.5h0M108.3 342.5h0M108.4 344.5h0M108.7 345.2h0M108.8 336.4h0M108.8 347.6h0M109.0 344.0h0M109.0 346.6h0M109.2 331.7h0M109.3 342.9h0M109.2 341.4h0M109.4 331.4h0M109.7 337.3h0M109.4 337.5h0M109.8 330.1h0M109.3 337.9h0M109.8 339.7h0M109.8 325.8h0M110.1 331.3h0M110.0 338.2h0M110.2 340.6h0M110.6 331.1h0M110.6 332.8h0M110.2 325.8h0M110.6 339.6h0M110.2 328.5h0M110.6 331.2h0M111.1 337.6h0M110.7 339.8h0M110.7 322.7h0M110.7 340.4h0M111.4 324.7h0M111.2 324.9h0M111.6 329.4h0M111.6 321.3h0M112.0 317.3h0M111.5 318.9h0M112.0 326.7h0M111.7 333.9h0M111.7 332.4h0M111.9 316.3h0M112.2 316.6h0M112.0 330.0h0M112.0 330.5h0M112.4 331.1h0M112.3 329.9h0M112.7 337.3h0M113.2 338.4h0M112.8 335.3h0M113.2 332.7h0M113.2 336.0h0M113.7 344.4h0M113.2 345.4h0M113.9 350.1h0M114.1 343.0h0M113.6 351.0h0M114.3 345.3h0M114.6 347.7h0M114.1 349.9h0M115.0 349.7h0M115.0 350.8h0M115.5 350.5h0M115.0 342.6h0M115.4 343.2h0M115.5 347.5h0M115.9 350.3h0M115.9 350.0h0M116.4 349.5h0M116.3 354.2h0M116.6 350.8h0M116.9 352.6h0M117.0 351.7h0M117.0 354.1h0M117.4 352.9h0M117.2 350.0h0M117.9 348.7h0M117.7 348.5h0M118.3 352.6h0M118.3 348.0h0M118.7 350.7h0M118.4 349.8h0M119.2 351.3h0M119.2 349.3h0M119.6 341.3h0M119.8 342.6h0M120.1 340.5h0M119.8 345.2h0M120.4 337.9h0M120.5 332.4h0M120.9 335.5h0M120.6 333.0h0M120.8 336.4h0M121.2 330.8h0M121.7 334.1h0M121.2 333.3h0M121.7 337.6h0M121.8 338.4h0M121.7 337.6h0M122.2 332.9h0M122.5 332.3h0M122.4 330.6h0M123.0 336.5h0M122.8 338.9h0M122.8 331.2h0M122.8 341.3h0M123.2 333.2h0M123.2 343.5h0M123.3 332.3h0M123.5 336.5h0M123.7 344.4h0M123.4 339.4h0M123.5 334.0h0M123.9 343.6h0M124.0 342.2h0M123.9 335.9h0M123.9 339.3h0M124.4 336.8h0M124.5 336.8h0M124.5 337.1h0M124.7 341.3h0M124.9 340.5h0M124.7 336.8h0M124.7 347.9h0M125.2 337.2h0M125.5 341.3h0M125.1 343.4h0M125.6 344.9h0M125.6 345.7h0M126.0 346.1h0M126.2 343.2h0M126.3 346.0h0M126.7 353.1h0M126.5 353.3h0M126.9 345.7h0M127.1 350.0h0M127.4 342.8h0M127.6 344.8h0M127.3 340.9h0M127.8 345.3h0M128.0 341.9h0M128.6 340.5h0M128.5 348.4h0M128.5 346.4h0M129.0 347.2h0M128.7 343.1h0M128.7 338.4h0M129.2 336.6h0M129.5 345.0h0M129.1 344.5h0M129.9 333.3h0M129.6 346.4h0M129.6 344.8h0M129.4 343.6h0M129.8 330.4h0M130.1 330.4h0M130.2 336.2h0M130.5 340.6h0M130.5 333.8h0M130.4 332.9h0M130.4 331.7h0M131.0 338.6h0M131.2 330.4h0M130.7 332.7h0M131.1 331.0h0M131.4 334.2h0M131.4 332.3h0M131.3 325.5h0M131.5 324.1h0M132.0 323.8h0M131.7 334.3h0M132.1 320.7h0M132.1 330.8h0M131.9 329.5h0M131.8 328.7h0M132.1 327.4h0M131.8 326.0h0M131.8 332.9h0M132.3 332.3h0M132.4 333.7h0M132.4 326.7h0M132.7 316.9h0M132.7 322.4h0M132.4 320.7h0M132.8 320.4h0M133.1 329.7h0M132.7 327.2h0M133.2 317.4h0M133.1 314.1h0M133.2 327.5h0M133.4 315.5h0M133.5 324.8h0M133.7 314.0h0M133.5 318.9h0M133.8 323.8h0M133.5 318.0h0M134.1 311.5h0M134.0 320.8h0M134.1 322.8h0M134.3 318.6h0M134.2 311.7h0M134.0 318.8h0M134.3 321.7h0M134.5 313.1h0M134.9 318.4h0M134.8 314.2h0M134.7 322.8h0M135.1 325.0h0M135.3 325.8h0M135.5 314.6h0M135.7 322.3h0M135.8 321.4h0M135.4 321.0h0M136.3 319.5h0M136.1 321.0h0M136.3 322.8h0M136.6 322.3h0M136.4 321.6h0M136.8 319.4h0M137.0 322.0h0M137.1 326.7h0M137.4 319.2h0M137.2 326.9h0M137.3 324.2h0M138.1 319.4h0M138.1 324.0h0M138.6 317.7h0M138.2 322.8h0M138.7 325.8h0M138.7 324.8h0M139.1 319.2h0M138.8 322.3h0M138.9 326.0h0M139.4 323.5h0M139.4 321.9h0M139.4 325.7h0M140.2 321.8h0M139.9 320.0h0M140.2 321.6h0M140.6 326.0h0M140.5 324.1h0M140.8 327.1h0M140.9 326.3h0M140.8 329.4h0M140.8 326.0h0M141.2 322.4h0M141.3 323.2h0M141.7 326.1h0M141.5 321.4h0M142.0 322.6h0M142.1 315.5h0M142.2 328.4h0M142.5 324.7h0M142.5 323.7h0M142.3 312.4h0M142.1 324.7h0M143.1 317.3h0M142.8 325.7h0M142.8 310.5h0M142.8 305.4h0M142.6 312.4h0M142.8 323.1h0M142.9 321.7h0M143.2 312.7h0M142.8 323.8h0M143.0 310.4h0M143.0 322.9h0M143.2 312.1h0M143.7 316.4h0M143.6 318.8h0M143.4 313.2h0M143.6 325.2h0M143.6 315.6h0M143.7 326.3h0M144.1 319.9h0M144.1 323.0h0M143.9 327.2h0M144.6 323.7h0M144.4 330.1h0M144.3 319.8h0M144.5 321.4h0M144.9 326.5h0M145.1 330.3h0M144.7 331.6h0M144.9 333.4h0M145.1 329.7h0M145.3 331.9h0M145.6 333.9h0M145.8 330.9h0M145.6 330.1h0M146.3 332.7h0M146.3 328.5h0M146.9 331.6h0M146.7 330.9h0M147.4 332.3h0M147.1 334.8h0M147.3 330.0h0M147.7 336.5h0M147.7 334.2h0M147.9 335.9h0M147.9 335.9h0M148.5 344.4h0M148.7 338.9h0M149.1 339.8h0M148.6 341.7h0M149.5 346.4h0M149.3 344.0h0M149.6 343.7h0M149.7 343.2h0M150.2 344.1h0M150.1 342.9h0M150.7 352.0h0M150.5 350.5h0M150.7 344.6h0M151.2 349.7h0M150.9 352.4h0M150.8 342.7h0M150.9 349.6h0M151.7 344.4h0M151.2 350.8h0M152.0 353.2h0M151.9 350.0h0M151.7 354.2h0M152.6 346.2h0M152.6 354.9h0M152.7 350.0h0M153.0 343.9h0M153.3 353.6h0M153.3 347.4h0M153.1 352.2h0M153.7 347.4h0M153.5 350.4h0M153.6 341.9h0M154.3 346.6h0M154.2 345.6h0M154.4 342.8h0M154.7 346.2h0M154.9 349.5h0M154.9 344.0h0M155.1 342.8h0M154.8 342.8h0M155.4 342.0h0M155.7 350.7h0M156.0 350.8h0M155.9 345.9h0M155.9 343.1h0M156.3 352.6h0M156.4 345.6h0M156.8 341.0h0M157.0 348.6h0M156.9 344.0h0M157.6 352.3h0M157.4 352.5h0M157.0 353.1h0M157.8 347.8h0M158.0 343.8h0M158.2 344.6h0M158.1 349.1h0M158.5 345.0h0M158.4 347.0h0M158.5 348.8h0M158.7 345.4h0M158.9 351.0h0M158.8 352.6h0M159.4 349.4h0M159.4 353.0h0M159.6 347.0h0M159.8 348.4h0M159.7 340.9h0M160.0 342.3h0M160.0 346.9h0M160.6 342.8h0M160.3 346.3h0M160.2 344.8h0M161.0 346.9h0M160.7 344.3h0M161.1 348.2h0M161.6 345.7h0M161.1 347.2h0M161.4 350.5h0M162.0 343.2h0M161.8 340.4h0M161.8 347.8h0M162.5 347.6h0M162.3 343.8h0M162.3 350.8h0M162.9 348.7h0M162.6 341.2h0M162.4 349.5h0M162.9 342.7h0M163.4 348.1h0M162.9 344.4h0M163.5 340.0h0M163.6 343.6h0M163.8 349.3h0M164.3 349.0h0M163.8 352.7h0M163.8 348.6h0M164.6 340.5h0M164.4 349.4h0M164.4 346.6h0M164.9 339.7h0M164.8 349.5h0M164.8 345.1h0M165.4 349.1h0M165.6 347.4h0M165.2 342.2h0M165.9 348.5h0M165.8 342.4h0M166.0 340.6h0M166.2 348.4h0M166.0 347.7h0M166.4 344.4h0M166.5 349.6h0M166.9 344.3h0M166.7 350.5h0M167.2 348.3h0M167.2 350.2h0M167.2 343.6h0M167.9 351.1h0M167.6 337.5h0M167.4 350.4h0M168.2 345.4h0M168.3 345.7h0M167.9 346.7h0M168.7 339.5h0M168.2 346.4h0M168.3 338.4h0M168.8 340.6h0M168.9 344.4h0M168.8 344.1h0M169.2 342.6h0M169.1 346.5h0M169.6 335.7h0M169.6 349.4h0M169.5 336.3h0M169.8 338.2h0M170.0 333.3h0M169.7 337.0h0M170.0 345.2h0M170.2 342.7h0M170.2 346.6h0M170.5 342.7h0M170.5 339.2h0M170.5 332.5h0M170.9 333.5h0M171.1 339.0h0M171.0 342.7h0M170.8 332.8h0M171.4 339.0h0M171.2 335.0h0M171.4 338.5h0M171.3 344.8h0M171.9 346.1h0M171.6 338.9h0M171.6 344.5h0M171.7 343.6h0M172.3 344.4h0M172.6 347.3h0M172.5 339.6h0M172.5 337.3h0M172.6 341.4h0M172.8 348.4h0M173.0 345.1h0M173.5 344.2h0M173.4 346.9h0M173.8 349.6h0M173.6 347.4h0M174.0 348.6h0M174.0 347.5h0M174.0 346.3h0M174.3 347.9h0M174.3 348.3h0M174.4 350.9h0M174.6 343.5h0M174.9 344.7h0M175.3 349.4h0M174.9 350.0h0M175.3 353.1h0M175.5 351.1h0M175.6 350.3h0M176.1 347.5h0M176.3 343.5h0M176.2 338.2h0M176.7 339.7h0M176.7 333.9h0M177.2 332.4h0M177.0 332.2h0M177.3 333.1h0M177.8 328.0h0M177.8 328.5h0M178.0 315.7h0M178.3 317.2h0M178.4 319.0h0M178.2 313.9h0M178.2 324.3h0M178.6 313.2h0M179.0 322.4h0M178.6 327.1h0M178.9 321.8h0M178.8 320.1h0M178.9 316.6h0M179.1 329.4h0M179.3 327.0h0M178.9 326.1h0M179.5 326.3h0M179.4 325.4h0M179.4 328.4h0M179.8 320.2h0M180.1 328.1h0M180.1 332.4h0M179.7 324.1h0M180.4 332.8h0M180.7 338.8h0M180.4 329.8h0M180.9 337.8h0M180.8 338.3h0M180.7 335.1h0M181.0 336.4h0M181.1 334.9h0M181.9 347.7h0M181.6 340.5h0M182.1 346.1h0M181.9 347.1h0M182.7 352.0h0M183.1 351.2h0M183.2 354.8h0M183.6 354.0h0M184.0 351.2h0M184.0 352.5h0M184.1 352.2h0M184.2 353.3h0M184.6 355.5h0M184.7 354.2h0M185.2 352.0h0M185.7 351.7h0M185.8 352.2h0M186.7 354.3h0M186.7 353.4h0M186.9 348.9h0M187.2 352.3h0M187.4 352.0h0M187.6 347.8h0M187.6 349.8h0M187.8 351.2h0M188.6 347.8h0M188.3 344.9h0M188.6 344.9h0M188.8 353.0h0M188.5 345.1h0M189.0 346.9h0M189.1 344.6h0M189.0 346.4h0M189.8 342.0h0M189.8 343.6h0M189.5 345.8h0M189.9 341.4h0M189.9 348.7h0M190.1 348.0h0M190.5 341.0h0M190.4 337.4h0M190.4 350.4h0M190.8 339.6h0M190.8 351.9h0M191.1 341.9h0M191.7 340.8h0M191.2 343.9h0M191.3 336.4h0M192.1 336.8h0M191.9 349.6h0M191.9 337.9h0M191.9 343.3h0M192.2 340.9h0M191.7 341.5h0M192.2 347.4h0M191.7 335.3h0M192.3 347.4h0M192.6 341.4h0M192.2 342.8h0M192.7 341.3h0M193.2 338.7h0M193.0 348.8h0M192.7 343.7h0M192.7 339.1h0M193.3 339.8h0M193.4 337.1h0M193.2 344.8h0M193.6 336.9h0M193.9 339.1h0M194.0 341.7h0M193.6 347.4h0M193.7 347.5h0M194.1 340.2h0M194.0 340.4h0M194.2 347.4h0M194.5 335.9h0M195.0 341.3h0M194.4 337.3h0M194.9 344.6h0M194.5 350.3h0M195.3 348.5h0M195.0 346.7h0M195.1 340.0h0M195.0 348.2h0M195.7 345.7h0M195.7 345.5h0M195.9 340.1h0M195.4 349.5h0M195.9 335.4h0M195.9 344.8h0M196.0 349.2h0M195.9 335.8h0M196.4 344.3h0M196.4 345.9h0M196.5 345.2h0M196.8 346.3h0M197.2 350.7h0M197.2 346.8h0M197.1 342.8h0M197.7 335.8h0M197.3 335.9h0M197.4 338.6h0M197.5 337.5h0M197.6 348.6h0M197.9 341.4h0M197.7 340.5h0M197.6 346.4h0M198.2 338.5h0M198.4 350.1h0M198.6 346.0h0M198.6 335.9h0M198.9 338.8h0M199.0 337.3h0M198.9 338.8h0M199.0 346.4h0M199.4 341.4h0M198.9 335.7h0M199.0 345.9h0M199.0 343.7h0M199.7 348.6h0M199.8 341.2h0M199.7 344.9h0M199.5 342.0h0M200.2 348.4h0M200.0 347.7h0M199.9 346.3h0M199.8 343.0h0M200.1 335.7h0M200.1 348.1h0M200.3 340.7h0M200.9 337.6h0M201.0 336.6h0M200.8 343.9h0M201.5 341.1h0M201.1 337.0h0M201.9 336.0h0M201.4 337.2h0M202.1 341.1h0M202.3 342.5h0M202.8 344.6h0M202.7 335.4h0M203.2 339.9h0M202.8 344.9h0M203.2 343.0h0M203.8 345.9h0M203.5 344.4h0M204.0 346.5h0M204.9 348.0h0M204.5 349.3h0M204.9 350.7h0M205.3 348.2h0M205.6 350.0h0M205.6 346.5h0M205.8 348.3h0M206.3 348.1h0M207.1 347.9h0M207.4 350.4h0M207.4 350.9h0M208.3 346.7h0M208.0 348.8h0M208.8 349.4h0M208.9 349.0h0M209.0 350.7h0M209.0 346.5h0M209.4 349.6h0M209.4 349.3h0M210.0 350.5h0M210.2 347.7h0M210.5 349.5h0M210.7 348.9h0M210.7 348.6h0M211.3 348.0h0M211.0 347.4h0M212.0 347.4h0M211.6 346.8h0M212.2 352.4h0M212.5 351.7h0M212.9 349.5h0M213.1 347.9h0M213.3 351.1h0M213.8 345.6h0M213.9 349.1h0M214.5 346.4h0M214.8 346.9h0M214.8 347.9h0M215.0 346.7h0M215.4 344.0h0M215.8 343.5h0M215.7 346.1h0M215.8 341.9h0M216.3 348.3h0M216.2 341.7h0M216.5 350.0h0M216.5 346.9h0M217.3 347.2h0M217.3 343.9h0M217.3 347.8h0M218.1 348.8h0M218.4 349.1h0M218.9 347.6h0M218.6 346.9h0M219.2 347.0h0M219.4 347.5h0M219.7 346.3h0M219.9 346.4h0M220.2 348.9h0M220.0 346.0h0M220.3 347.9h0M221.1 345.2h0M220.7 346.8h0M221.1 345.0h0M221.7 350.8h0M222.1 349.3h0M222.5 348.0h0M222.3 345.6h0M222.9 343.5h0M222.9 347.3h0M223.0 348.4h0M223.2 346.6h0M223.5 343.2h0M223.2 347.8h0M223.7 346.5h0M224.3 346.1h0M224.4 345.7h0M224.8 340.6h0M224.7 339.7h0M225.3 336.7h0M225.1 343.5h0M226.0 343.6h0M225.4 341.9h0M226.4 342.9h0M226.4 335.6h0M226.7 335.0h0M226.5 334.0h0M226.9 336.4h0M227.2 335.3h0M227.3 337.5h0M227.5 338.9h0M227.2 336.1h0M227.7 337.7h0M228.2 332.6h0M228.2 330.9h0M228.5 337.8h0M228.2 332.9h0M228.4 329.7h0M228.5 337.9h0M228.7 332.2h0M229.1 336.2h0M229.2 337.5h0M229.0 326.2h0M229.3 329.5h0M229.5 332.4h0M230.0 335.5h0M230.2 330.7h0M230.6 321.4h0M230.8 324.9h0M230.3 329.9h0M231.0 322.0h0M231.2 322.5h0M231.0 323.9h0M231.6 328.2h0M231.3 325.3h0M231.3 328.6h0M231.8 325.1h0M231.8 324.9h0M231.8 328.4h0M232.3 323.6h0M232.3 319.1h0M232.5 319.8h0M232.5 326.0h0M233.0 319.1h0M232.8 315.1h0M232.8 320.6h0M233.0 315.1h0M232.9 323.2h0M233.5 324.0h0M233.7 321.2h0M233.4 323.7h0M233.5 326.3h0M233.9 314.2h0M234.1 320.7h0M233.8 322.9h0M234.4 321.2h0M234.1 321.8h0M234.3 317.9h0M234.6 311.7h0M234.9 317.8h0M235.4 314.8h0M235.5 318.7h0M235.0 315.7h0M235.5 317.8h0M236.0 319.7h0M236.0 318.9h0M236.1 311.5h0M236.1 311.7h0M236.2 319.5h0M236.3 315.5h0M236.8 310.4h0M236.7 313.4h0M236.6 314.8h0M237.2 314.3h0M237.0 316.9h0M237.3 317.2h0M237.5 311.4h0M237.8 316.2h0M238.0 313.8h0M238.6 318.2h0M238.3 314.3h0M239.0 320.3h0M238.8 320.0h0M239.1 318.7h0M239.0 315.5h0M239.7 322.7h0M239.9 321.8h0M239.9 322.3h0M240.3 323.9h0M240.3 329.3h0M240.4 331.2h0M240.6 332.2h0M240.5 327.3h0M241.3 330.8h0M241.3 327.9h0M241.7 323.5h0M241.8 325.0h0M242.1 332.6h0M242.1 328.2h0M242.3 326.3h0M242.4 326.9h0M242.9 331.3h0M242.8 327.1h0M242.9 326.5h0M243.3 331.5h0M243.5 329.2h0M243.7 330.7h0M243.9 328.8h0M244.0 333.8h0M244.2 329.9h0M244.5 329.3h0M244.6 327.3h0M244.7 334.6h0M245.5 327.4h0M245.5 333.8h0M245.7 333.1h0M245.6 327.1h0M245.9 332.0h0M246.2 333.0h0M245.9 332.4h0M246.3 337.0h0M246.1 329.7h0M246.8 333.4h0M246.8 334.6h0M247.1 335.8h0M247.1 327.3h0M247.4 332.8h0M247.7 330.1h0M247.9 332.2h0M248.3 336.9h0M248.2 336.9h0M248.5 337.1h0M248.8 334.1h0M248.8 331.6h0M249.1 337.8h0M249.5 336.6h0M249.5 336.3h0M250.1 332.0h0M250.1 334.0h0M250.1 334.3h0M249.9 337.4h0M250.6 334.5h0M250.5 338.4h0M251.2 339.3h0M251.1 337.8h0M251.7 335.9h0M251.5 334.1h0M252.2 333.6h0M252.0 336.9h0M252.3 335.9h0M252.2 335.2h0M253.1 335.5h0M253.1 338.8h0M253.3 340.2h0M253.1 336.2h0M253.7 334.3h0M253.8 333.8h0M253.9 338.2h0M254.0 337.3h0M254.3 332.9h0M254.5 330.3h0M255.0 331.3h0M255.1 332.2h0M255.5 333.9h0M255.6 332.8h0M255.5 331.0h0M256.1 330.6h0M256.0 332.3h0M256.3 330.9h0M256.6 328.7h0M256.4 326.0h0M257.2 326.2h0M257.5 329.9h0M257.4 328.5h0M257.9 325.2h0M258.5 328.5h0M258.4 327.9h0M258.7 326.0h0M259.1 326.9h0M259.3 326.0h0" stroke="#f53535" stroke-width="2.0" stroke-linecap="round" fill="none"/>
<path d="M37.9 350.9h0M37.9 350.6h0M38.1 347.6h0M38.3 347.1h0M39.1 355.7h0M39.0 353.2h0M39.1 350.3h0M39.3 351.9h0M40.0 355.8h0M39.9 348.0h0M40.5 355.0h0M40.4 351.0h0M40.0 352.0h0M40.4 354.1h0M40.4 355.1h0M40.6 347.8h0M41.0 349.3h0M41.1 350.0h0M41.2 342.3h0M41.3 348.6h0M41.1 341.4h0M41.5 343.6h0M41.4 337.1h0M41.7 344.7h0M41.8 338.2h0M41.8 341.3h0M42.1 345.2h0M42.2 337.8h0M42.6 337.7h0M42.5 326.6h0M42.2 342.9h0M43.0 341.7h0M43.0 343.0h0M42.6 338.9h0M42.9 330.7h0M42.5 335.1h0M42.9 329.8h0M43.2 343.3h0M43.1 331.0h0M43.4 347.8h0M43.1 345.6h0M43.7 344.0h0M43.7 342.7h0M43.7 336.9h0M43.6 347.8h0M43.6 347.7h0M44.2 341.4h0M43.9 339.9h0M44.2 336.4h0M44.1 333.8h0M43.8 348.8h0M44.3 347.0h0M44.2 333.9h0M44.3 349.6h0M44.7 341.9h0M44.7 350.3h0M45.1 343.5h0M45.2 352.8h0M45.0 353.2h0M45.6 354.7h0M45.2 351.4h0M45.1 352.6h0M45.8 354.2h0M45.7 347.6h0M46.1 354.0h0M46.2 352.8h0M46.5 355.3h0M46.4 348.7h0M46.5 349.4h0M46.9 355.5h0M47.1 352.3h0M47.8 347.2h0M47.7 347.1h0M47.4 355.4h0M47.8 350.7h0M48.1 355.7h0M48.2 355.5h0M48.3 355.9h0M48.9 349.7h0M48.8 355.5h0M49.5 354.4h0M49.7 355.9h0M49.7 355.7h0M49.7 350.4h0M50.2 355.7h0M50.9 353.2h0M51.3 355.6h0M50.9 355.9h0M51.7 351.4h0M51.9 351.3h0M52.2 355.1h0M52.3 350.9h0M52.4 350.3h0M52.5 354.8h0M52.9 355.8h0M53.2 355.3h0M53.4 354.3h0M53.7 355.6h0M54.1 351.9h0M54.5 352.6h0M54.2 355.3h0M54.5 350.5h0M54.5 350.6h0M55.0 355.4h0M55.0 354.3h0M54.8 344.5h0M54.8 354.8h0M55.2 349.4h0M55.4 346.7h0M55.3 352.6h0M55.9 355.1h0M55.8 348.0h0M56.2 354.0h0M56.2 353.8h0M56.3 355.4h0M56.3 352.0h0M56.6 345.3h0M57.0 351.2h0M56.9 342.9h0M56.9 345.9h0M57.0 353.0h0M57.5 347.8h0M57.5 343.3h0M57.6 354.3h0M57.5 350.6h0M57.8 346.3h0M58.2 346.9h0M58.0 354.9h0M57.9 345.0h0M57.8 347.4h0M58.2 342.2h0M58.7 341.5h0M58.5 349.6h0M58.4 344.0h0M59.1 346.5h0M58.6 347.9h0M59.2 355.8h0M59.0 347.3h0M59.5 350.5h0M59.1 342.4h0M59.1 349.1h0M59.6 352.4h0M59.7 352.8h0M59.6 354.0h0M60.0 346.6h0M60.1 355.0h0M60.2 355.8h0M60.2 346.1h0M60.4 346.4h0M61.0 344.9h0M60.8 346.2h0M60.5 342.8h0M60.9 355.7h0M61.3 354.8h0M61.1 350.6h0M60.9 346.9h0M61.1 349.9h0M61.6 340.9h0M61.4 354.1h0M61.5 354.9h0M61.4 342.0h0M62.0 348.9h0M62.1 353.7h0M62.3 342.3h0M62.7 350.8h0M62.7 345.0h0M62.4 350.7h0M62.5 339.3h0M62.8 353.1h0M63.1 342.3h0M62.7 342.5h0M62.7 346.3h0M63.1 347.9h0M63.5 343.8h0M63.3 329.9h0M63.2 337.0h0M63.9 337.6h0M63.6 330.9h0M63.9 333.6h0M64.1 336.9h0M63.6 330.8h0M64.2 342.5h0M64.2 320.6h0M64.2 334.8h0M64.1 320.6h0M64.2 341.2h0M64.5 342.1h0M64.5 339.3h0M64.2 326.6h0M64.7 336.3h0M64.4 333.7h0M64.7 341.3h0M65.0 338.4h0M65.0 338.9h0M64.8 335.7h0M64.7 323.9h0M65.0 327.4h0M64.7 332.8h0M65.4 339.8h0M65.2 322.6h0M65.3 336.4h0M65.4 344.0h0M65.1 339.4h0M65.2 333.3h0M66.1 348.5h0M65.6 344.7h0M65.8 349.5h0M65.9 335.9h0M65.8 347.1h0M65.6 346.8h0M65.9 347.9h0M66.2 349.1h0M65.8 341.6h0M66.0 331.2h0M66.2 349.9h0M66.2 347.0h0M66.5 342.3h0M66.6 345.0h0M66.4 342.8h0M66.2 337.8h0M66.3 335.3h0M67.2 349.5h0M66.6 349.7h0M66.9 341.6h0M66.7 350.4h0M67.1 344.6h0M67.2 344.4h0M67.3 354.5h0M67.9 353.4h0M67.6 350.7h0M67.5 353.9h0M68.1 354.3h0M68.0 350.0h0M68.6 353.8h0M68.3 355.6h0M69.0 347.4h0M68.9 355.5h0M69.3 353.0h0M69.3 350.3h0M69.7 355.7h0M69.6 354.3h0M70.0 354.7h0M70.1 355.4h0M70.8 351.1h0M70.6 352.9h0M71.2 350.0h0M71.1 354.7h0M71.8 353.8h0M71.9 350.5h0M71.8 354.2h0M72.0 354.6h0M72.7 353.1h0M72.4 351.7h0M73.2 355.0h0M73.0 351.2h0M73.2 355.8h0M73.5 352.0h0M73.8 354.1h0M74.1 355.1h0M74.0 351.1h0M74.4 355.5h0M74.5 354.5h0M74.8 353.3h0M75.4 355.4h0M75.0 354.0h0M75.6 352.5h0M75.9 355.1h0M76.1 350.6h0M76.4 355.7h0M76.7 352.4h0M76.4 355.1h0M77.2 355.5h0M76.8 355.2h0M77.2 355.6h0M77.3 352.0h0M77.8 353.0h0M78.1 355.0h0M78.5 351.7h0M78.3 352.7h0M78.6 354.7h0M79.0 355.3h0M79.1 354.5h0M79.5 350.7h0M79.9 349.5h0M79.5 354.4h0M80.0 355.9h0M79.8 347.6h0M80.6 351.0h0M80.5 355.5h0M80.8 342.1h0M81.0 353.0h0M80.6 348.1h0M80.8 352.2h0M81.6 350.6h0M81.5 348.3h0M81.5 354.2h0M81.6 349.0h0M81.5 344.3h0M81.6 352.3h0M81.5 346.3h0M81.3 347.1h0M81.7 350.8h0M81.3 342.1h0M81.9 351.1h0M82.0 345.5h0M82.2 353.7h0M81.8 354.9h0M82.3 339.6h0M82.2 349.1h0M82.5 341.6h0M82.2 353.6h0M82.7 340.6h0M82.8 346.2h0M82.9 349.5h0M82.9 342.6h0M83.5 344.4h0M83.0 350.1h0M83.4 344.1h0M83.4 351.8h0M83.8 344.5h0M83.6 343.7h0M83.5 340.6h0M84.3 350.8h0M83.9 350.5h0M84.4 349.7h0M84.6 347.8h0M84.6 343.2h0M85.1 340.8h0M85.1 344.5h0M85.1 351.2h0M85.2 349.5h0M85.2 347.4h0M85.6 344.0h0M85.7 338.2h0M85.7 342.4h0M85.8 338.3h0M86.3 338.5h0M86.1 346.3h0M86.6 332.2h0M86.6 346.8h0M86.8 347.7h0M86.8 343.7h0M86.5 346.8h0M86.8 345.9h0M87.3 339.6h0M87.3 338.0h0M87.0 329.0h0M87.3 342.9h0M87.9 335.0h0M87.4 331.4h0M87.8 334.8h0M87.6 338.1h0M87.7 339.6h0M88.3 325.5h0M88.3 343.3h0M88.3 341.2h0M88.1 339.1h0M88.3 340.5h0M88.6 336.1h0M88.5 322.6h0M88.7 341.2h0M88.4 338.3h0M89.1 337.6h0M89.1 334.6h0M89.0 324.4h0M89.0 331.3h0M88.7 321.7h0M88.5 342.4h0M89.0 344.2h0M89.5 336.9h0M89.1 330.0h0M89.5 338.3h0M89.5 336.1h0M89.5 331.0h0M89.8 346.6h0M89.5 336.5h0M89.9 342.1h0M89.6 331.3h0M90.2 338.3h0M90.1 335.0h0M89.9 345.6h0M90.3 345.1h0M90.0 334.9h0M90.2 349.1h0M90.5 338.1h0M90.7 338.3h0M90.4 347.0h0M90.6 332.3h0M90.8 350.3h0M90.7 349.1h0M91.1 337.3h0M90.8 346.0h0M91.7 347.4h0M91.5 338.6h0M91.7 344.0h0M91.3 353.1h0M91.9 354.2h0M92.1 353.6h0M91.6 354.0h0M91.9 355.6h0M92.1 350.3h0M91.9 349.6h0M92.2 353.5h0M92.3 346.4h0M93.1 351.3h0M92.8 353.9h0M93.1 355.5h0M93.5 351.3h0M94.0 355.3h0M93.8 355.8h0M93.9 352.1h0M93.8 353.0h0M94.5 349.4h0M95.1 355.8h0M94.8 355.1h0M95.5 352.5h0M95.9 353.3h0M96.3 351.3h0M96.1 353.1h0M96.5 355.4h0M96.9 354.3h0M97.0 354.1h0M97.3 355.4h0M97.7 353.5h0M97.8 353.1h0M98.0 355.5h0M97.8 351.6h0M98.6 355.1h0M98.7 355.7h0M99.1 349.0h0M99.1 354.8h0M99.4 356.0h0M99.5 356.0h0M99.8 355.7h0M100.1 355.8h0M99.6 347.1h0M100.0 351.7h0M100.1 354.2h0M100.3 349.6h0M100.9 355.9h0M100.8 347.4h0M101.4 352.7h0M101.4 347.1h0M101.6 355.4h0M101.7 354.6h0M102.0 347.1h0M101.9 351.7h0M102.2 352.4h0M102.3 354.0h0M102.1 354.3h0M102.4 355.3h0M102.9 353.4h0M102.5 355.1h0M102.5 349.8h0M103.3 349.2h0M103.3 352.8h0M103.6 352.6h0M103.5 355.1h0M103.7 351.8h0M104.2 350.9h0M103.8 345.4h0M104.2 350.3h0M104.7 347.9h0M104.7 351.1h0M104.5 353.6h0M104.8 355.6h0M105.0 355.6h0M105.3 355.5h0M105.5 349.9h0M105.2 354.3h0M105.7 355.7h0M105.8 350.2h0M106.5 349.5h0M106.3 354.0h0M106.2 355.4h0M106.6 355.2h0M106.7 348.6h0M107.0 355.5h0M107.0 353.1h0M106.6 353.3h0M107.1 345.9h0M107.2 343.0h0M107.2 349.1h0M107.3 346.2h0M107.5 355.0h0M107.8 351.2h0M107.7 353.0h0M108.3 337.4h0M108.2 347.8h0M108.2 353.7h0M108.0 350.8h0M108.7 348.1h0M108.4 342.4h0M108.4 355.0h0M108.6 355.5h0M108.9 355.4h0M109.1 341.1h0M109.4 336.6h0M108.9 348.5h0M109.3 350.7h0M109.4 341.2h0M109.4 351.9h0M109.6 348.6h0M109.5 351.9h0M109.4 336.3h0M110.2 352.6h0M109.9 337.2h0M109.8 343.9h0M109.7 352.2h0M109.8 352.4h0M110.5 352.2h0M110.6 350.6h0M110.7 338.6h0M110.3 332.1h0M110.5 346.7h0M110.3 330.1h0M110.7 350.5h0M111.0 338.0h0M111.0 335.5h0M111.2 348.8h0M110.9 346.9h0M111.2 328.7h0M111.2 348.7h0M111.3 339.9h0M111.1 342.5h0M111.4 348.7h0M111.2 337.3h0M111.4 329.3h0M111.5 336.1h0M111.7 342.2h0M111.7 324.4h0M112.1 326.2h0M111.9 324.4h0M111.5 338.8h0M111.8 345.8h0M111.8 327.1h0M111.9 344.1h0M112.3 343.4h0M111.8 344.3h0M111.9 340.0h0M112.3 331.3h0M111.8 331.4h0M112.3 331.0h0M112.6 340.9h0M112.6 346.1h0M112.5 330.0h0M112.6 342.6h0M112.4 348.6h0M112.3 338.3h0M113.2 347.6h0M113.2 337.7h0M112.8 349.2h0M112.9 340.1h0M113.1 341.7h0M113.2 351.9h0M113.7 351.8h0M113.4 348.1h0M113.2 350.7h0M114.0 349.7h0M113.9 349.6h0M114.2 355.7h0M114.1 353.6h0M115.0 348.4h0M114.6 346.0h0M115.3 353.0h0M115.4 352.7h0M115.8 355.3h0M115.6 354.8h0M116.4 355.8h0M116.2 355.5h0M116.5 353.4h0M116.9 349.5h0M116.9 351.1h0M116.9 355.1h0M117.4 352.5h0M117.6 352.6h0M117.9 352.6h0M118.7 355.4h0M118.7 351.8h0M118.8 352.1h0M119.3 352.9h0M119.7 354.1h0M119.7 352.8h0M119.3 354.8h0M119.8 353.7h0M120.1 346.5h0M120.1 348.7h0M120.4 353.8h0M120.6 349.0h0M120.5 354.3h0M120.6 346.8h0M120.7 352.0h0M121.1 354.5h0M120.8 336.7h0M120.8 347.8h0M120.8 354.5h0M120.9 350.8h0M120.9 354.3h0M121.2 353.9h0M120.7 350.1h0M121.1 343.9h0M121.7 354.7h0M121.6 354.1h0M121.3 339.0h0M121.5 337.3h0M121.7 353.4h0M121.9 354.3h0M121.6 351.3h0M121.9 353.1h0M122.1 338.1h0M121.7 341.1h0M122.2 347.8h0M122.3 349.8h0M122.3 345.0h0M122.6 343.1h0M122.4 342.4h0M122.8 345.3h0M122.8 355.5h0M122.9 338.2h0M123.0 355.5h0M122.9 338.3h0M123.0 342.6h0M123.1 338.4h0M123.0 343.7h0M123.4 349.5h0M123.7 348.7h0M123.8 354.1h0M123.2 353.1h0M123.3 352.5h0M123.3 348.9h0M123.8 344.3h0M124.1 347.6h0M124.0 340.7h0M123.9 353.6h0M124.3 340.2h0M124.5 354.4h0M124.7 351.3h0M124.3 340.0h0M124.6 352.9h0M124.8 345.5h0M124.8 351.8h0M125.1 353.2h0M125.3 348.1h0M125.3 352.3h0M125.5 354.4h0M125.5 355.8h0M125.6 345.4h0M126.2 348.8h0M126.1 353.7h0M125.9 345.1h0M126.6 351.5h0M126.8 351.2h0M126.5 353.1h0M126.7 349.1h0M126.9 355.5h0M126.8 355.4h0M127.6 355.2h0M127.3 355.3h0M127.4 354.5h0M128.1 354.4h0M127.8 346.6h0M127.8 353.8h0M128.2 341.5h0M128.1 343.1h0M128.5 344.3h0M128.6 348.4h0M129.0 347.6h0M128.5 354.0h0M129.0 350.4h0M129.2 343.6h0M129.2 352.1h0M129.2 346.8h0M129.6 349.2h0M129.4 352.7h0M129.9 344.8h0M129.5 349.9h0M129.6 352.4h0M130.0 335.2h0M130.1 346.3h0M130.0 338.2h0M130.4 347.5h0M130.8 348.6h0M130.8 345.4h0M130.7 341.8h0M130.4 344.9h0M131.1 340.3h0M131.3 349.2h0M130.9 327.8h0M130.8 335.5h0M131.7 336.0h0M131.3 344.3h0M131.2 333.3h0M131.6 329.9h0M131.6 336.9h0M131.7 336.1h0M131.8 327.0h0M132.2 336.4h0M132.0 343.0h0M132.2 345.3h0M132.2 342.1h0M131.9 338.8h0M132.0 328.8h0M132.2 338.5h0M132.2 332.4h0M132.7 323.2h0M132.7 344.5h0M132.7 340.1h0M132.4 333.0h0M133.1 342.1h0M132.9 324.7h0M132.8 340.4h0M133.0 340.5h0M132.9 322.5h0M133.3 336.0h0M133.6 323.4h0M133.1 332.2h0M133.4 336.5h0M133.1 336.7h0M134.0 338.1h0M133.7 338.2h0M133.6 335.7h0M133.7 323.1h0M134.0 323.4h0M134.0 324.7h0M134.3 324.2h0M134.1 329.0h0M134.3 335.4h0M134.1 333.5h0M134.4 329.3h0M134.3 328.2h0M134.4 318.9h0M134.4 327.8h0M134.0 333.9h0M134.8 318.1h0M134.7 331.6h0M134.8 319.7h0M134.7 327.7h0M135.4 326.3h0M135.3 333.1h0M135.3 334.1h0M135.0 332.6h0M135.7 330.7h0M135.5 333.6h0M135.9 333.0h0M136.3 325.3h0M136.3 326.4h0M135.9 330.8h0M136.3 329.0h0M136.5 329.5h0M136.9 328.1h0M137.1 331.2h0M136.7 324.0h0M137.5 333.5h0M137.3 329.7h0M137.6 331.1h0M137.8 331.2h0M137.9 331.6h0M137.6 333.0h0M138.1 335.4h0M138.5 324.9h0M138.0 321.5h0M138.0 337.9h0M138.3 334.3h0M139.0 340.4h0M138.5 338.2h0M138.7 322.0h0M138.5 336.1h0M138.6 338.8h0M138.9 337.3h0M138.7 332.6h0M139.0 335.2h0M139.2 338.3h0M139.3 323.3h0M139.5 332.4h0M139.6 342.6h0M139.7 333.1h0M139.4 322.3h0M139.2 325.8h0M140.1 342.4h0M140.0 341.6h0M140.1 341.7h0M139.8 331.1h0M140.3 340.3h0M140.1 338.5h0M140.2 342.8h0M140.6 335.6h0M140.6 340.3h0M140.6 339.0h0M140.8 330.4h0M140.6 340.7h0M141.2 328.1h0M140.8 337.0h0M141.0 341.7h0M141.2 338.6h0M141.5 325.9h0M141.6 333.3h0M141.4 339.9h0M141.5 341.2h0M141.5 340.0h0M141.8 341.0h0M142.0 325.2h0M142.1 318.6h0M141.8 331.8h0M141.9 324.6h0M141.9 335.0h0M142.5 315.7h0M142.4 333.0h0M142.5 344.0h0M142.5 313.2h0M142.2 319.6h0M142.6 316.7h0M142.1 331.3h0M143.0 337.7h0M142.7 317.8h0M142.9 323.0h0M142.8 318.4h0M142.7 340.3h0M142.6 340.4h0M142.9 327.6h0M142.6 325.5h0M142.7 325.3h0M143.0 318.4h0M143.1 313.8h0M143.1 330.0h0M143.0 342.0h0M143.2 332.6h0M142.8 339.7h0M143.2 316.5h0M143.3 334.3h0M143.3 337.5h0M143.2 340.6h0M143.2 335.0h0M143.3 315.7h0M143.3 328.1h0M143.7 332.7h0M143.5 314.1h0M143.7 319.8h0M143.8 322.2h0M143.9 326.5h0M143.7 340.8h0M143.9 339.6h0M143.8 319.2h0M144.6 339.2h0M144.3 336.4h0M144.3 334.0h0M144.1 336.0h0M144.1 333.9h0M144.5 341.4h0M145.0 338.5h0M144.6 322.8h0M144.7 336.0h0M145.0 331.1h0M144.7 333.3h0M144.8 333.4h0M145.3 325.9h0M145.3 338.6h0M145.1 323.9h0M144.7 325.3h0M145.2 339.5h0M145.5 325.7h0M145.3 339.8h0M145.5 340.0h0M145.6 327.6h0M145.8 339.3h0M145.6 333.3h0M145.7 328.4h0M145.9 338.9h0M146.2 337.9h0M146.5 331.3h0M146.3 338.7h0M146.2 331.3h0M146.8 340.6h0M146.8 334.4h0M146.9 335.0h0M146.7 340.8h0M147.2 341.4h0M147.0 342.9h0M147.1 337.0h0M147.6 332.3h0M147.8 340.4h0M147.2 335.9h0M148.0 338.7h0M147.8 344.3h0M148.1 345.0h0M148.6 337.7h0M148.2 346.0h0M148.2 347.6h0M148.8 350.9h0M148.6 348.4h0M149.0 338.6h0M149.5 350.7h0M149.3 344.9h0M149.4 340.3h0M149.6 347.6h0M149.6 352.9h0M149.6 345.1h0M149.8 349.6h0M150.2 355.7h0M149.8 354.8h0M149.9 353.0h0M150.3 355.1h0M150.6 355.2h0M150.6 354.7h0M150.8 347.7h0M150.6 355.6h0M151.1 350.7h0M150.7 346.4h0M151.2 352.1h0M151.4 356.0h0M152.2 348.4h0M151.9 351.3h0M152.4 351.2h0M153.0 350.6h0M152.7 351.5h0M153.3 354.3h0M153.1 349.3h0M154.0 355.3h0M154.0 353.6h0M154.1 355.5h0M154.3 351.6h0M154.5 348.3h0M155.2 355.7h0M155.3 350.6h0M155.2 355.5h0M155.5 352.3h0M155.9 352.1h0M155.7 352.3h0M156.4 355.5h0M156.6 350.0h0M156.7 355.0h0M156.7 354.6h0M157.1 351.8h0M157.1 355.3h0M157.5 354.2h0M157.8 349.6h0M158.0 354.8h0M158.0 355.3h0M158.9 349.7h0M158.8 353.1h0M159.1 354.6h0M158.9 351.7h0M159.8 350.1h0M159.5 353.9h0M160.1 352.8h0M159.9 353.0h0M160.6 348.5h0M160.4 355.0h0M160.9 352.1h0M160.9 350.6h0M161.6 353.2h0M161.4 350.1h0M161.8 355.6h0M162.0 352.3h0M162.2 347.4h0M162.1 354.0h0M162.8 348.8h0M162.6 353.7h0M163.1 355.2h0M163.1 354.1h0M163.9 355.3h0M163.7 355.4h0M164.2 355.1h0M163.8 348.7h0M164.2 353.7h0M164.7 349.9h0M164.8 354.6h0M165.1 353.8h0M165.7 353.7h0M165.1 348.2h0M166.0 352.8h0M166.1 355.3h0M166.2 351.8h0M166.0 352.0h0M166.6 353.1h0M166.6 355.9h0M167.0 355.2h0M167.0 355.5h0M167.4 355.1h0M167.8 354.0h0M168.0 352.7h0M167.8 352.2h0M168.7 354.4h0M168.6 350.4h0M168.8 352.4h0M168.9 353.6h0M169.6 352.5h0M169.2 353.8h0M169.2 354.5h0M169.5 348.4h0M169.8 351.4h0M169.7 346.2h0M170.0 355.9h0M170.2 352.2h0M170.2 355.5h0M170.5 348.3h0M170.8 346.2h0M170.5 350.9h0M171.1 353.7h0M171.0 353.5h0M171.1 345.3h0M170.9 353.5h0M171.7 347.4h0M171.2 350.0h0M171.7 348.8h0M172.2 346.7h0M172.1 354.4h0M171.7 349.4h0M172.5 344.7h0M172.4 343.9h0M172.5 355.9h0M172.2 352.5h0M172.7 348.3h0M172.6 351.2h0M172.5 353.8h0M173.2 345.6h0M173.0 345.3h0M173.5 353.0h0M173.7 352.3h0M173.7 354.6h0M173.7 354.9h0M173.9 349.6h0M174.1 355.5h0M174.1 355.0h0M174.0 351.0h0M174.4 348.0h0M174.4 352.1h0M174.4 351.2h0M174.7 353.5h0M175.1 353.8h0M175.0 355.1h0M175.2 352.9h0M176.1 352.9h0M175.8 349.8h0M176.1 349.2h0M176.5 347.8h0M176.5 344.3h0M176.8 341.9h0M176.7 346.1h0M177.0 346.2h0M176.9 330.3h0M177.0 339.7h0M176.9 343.9h0M177.8 336.2h0M177.9 341.2h0M177.5 330.5h0M177.4 337.5h0M178.4 336.8h0M178.1 338.6h0M178.1 334.6h0M178.1 335.0h0M178.1 339.7h0M178.3 335.4h0M178.5 321.6h0M178.0 328.2h0M178.1 333.0h0M178.3 331.0h0M178.8 328.4h0M178.6 326.7h0M178.6 335.0h0M178.7 325.0h0M178.5 320.9h0M179.4 339.1h0M179.3 322.3h0M179.3 343.7h0M179.5 338.3h0M179.0 321.4h0M179.4 347.1h0M179.4 346.5h0M179.5 331.8h0M179.9 329.3h0M179.6 330.8h0M179.9 345.5h0M179.9 342.2h0M179.8 331.4h0M179.8 333.4h0M179.8 333.5h0M180.7 342.7h0M180.6 340.8h0M180.2 346.6h0M180.7 347.8h0M180.7 346.3h0M180.9 349.4h0M181.1 347.4h0M180.9 347.8h0M180.8 349.3h0M181.5 351.3h0M181.5 342.9h0M180.9 344.7h0M181.7 353.7h0M181.4 344.4h0M181.5 352.7h0M182.1 354.5h0M181.8 347.8h0M182.3 350.4h0M182.4 351.4h0M182.7 350.2h0M182.9 354.5h0M183.1 355.4h0M184.0 354.0h0M184.0 352.8h0M184.5 355.2h0M184.1 352.6h0M184.6 355.8h0M184.8 355.9h0M185.2 355.2h0M185.0 354.4h0M185.7 354.4h0M185.6 355.3h0M186.4 353.9h0M186.7 356.0h0M187.0 356.0h0M186.9 348.9h0M187.3 354.4h0M187.6 354.5h0M187.9 350.8h0M188.1 354.4h0M188.4 356.0h0M188.0 354.4h0M189.0 348.1h0M188.8 355.6h0M189.2 351.7h0M189.4 355.4h0M189.1 349.5h0M189.7 355.8h0M189.5 347.4h0M189.9 351.5h0M189.9 344.8h0M190.4 347.8h0M190.3 345.4h0M190.6 355.9h0M190.8 350.9h0M190.5 355.9h0M191.2 351.4h0M190.7 345.5h0M190.8 355.4h0M191.6 349.8h0M191.7 353.9h0M191.6 355.8h0M191.3 354.7h0M192.0 343.0h0M192.1 353.4h0M191.8 355.3h0M191.8 345.9h0M191.7 340.2h0M191.9 344.0h0M192.1 354.6h0M192.0 349.0h0M192.7 355.6h0M192.3 341.4h0M192.7 346.4h0M192.7 354.3h0M193.0 347.1h0M192.6 354.6h0M192.7 355.1h0M193.3 352.6h0M193.3 355.3h0M193.4 352.9h0M193.6 342.0h0M194.0 353.7h0M193.8 353.6h0M193.6 347.7h0M193.8 349.2h0M194.5 355.8h0M194.4 339.8h0M194.5 351.0h0M194.3 355.2h0M194.7 344.2h0M194.7 350.8h0M194.6 350.1h0M194.5 347.7h0M195.2 347.7h0M195.3 350.1h0M195.2 340.0h0M195.5 342.7h0M195.5 346.6h0M195.7 351.6h0M195.7 353.9h0M196.3 354.3h0M195.8 355.2h0M196.0 351.9h0M196.3 355.4h0M196.4 351.9h0M196.8 350.2h0M196.5 346.1h0M197.2 346.7h0M196.9 354.1h0M197.2 348.2h0M196.9 353.5h0M197.2 342.9h0M197.7 346.3h0M197.6 348.0h0M198.1 352.8h0M197.9 343.8h0M197.9 353.6h0M197.9 351.7h0M198.1 345.5h0M198.5 347.8h0M198.2 349.9h0M198.2 352.5h0M198.8 350.9h0M198.8 348.5h0M198.9 352.7h0M199.0 341.8h0M199.0 341.0h0M199.4 343.9h0M198.9 340.8h0M199.8 349.8h0M199.5 351.8h0M199.8 348.3h0M199.9 353.9h0M200.0 339.8h0M199.9 352.0h0M200.6 352.7h0M200.3 349.9h0M200.6 345.5h0M200.5 344.0h0M200.8 349.3h0M200.9 346.6h0M200.7 353.2h0M201.0 343.7h0M201.5 345.5h0M201.5 344.3h0M201.4 344.5h0M201.6 355.1h0M201.5 350.1h0M201.9 355.2h0M202.1 346.6h0M202.2 352.9h0M202.6 352.2h0M202.6 355.5h0M202.6 347.7h0M203.1 350.4h0M202.7 354.8h0M202.9 354.8h0M203.4 355.9h0M203.3 345.9h0M203.5 348.1h0M203.8 347.8h0M203.5 347.7h0M204.0 355.4h0M204.0 354.5h0M204.5 349.8h0M204.9 355.1h0M204.5 353.4h0M205.1 352.6h0M204.8 353.3h0M205.6 351.2h0M205.7 350.6h0M205.8 354.6h0M206.2 354.6h0M207.0 351.9h0M207.0 351.8h0M207.9 354.8h0M208.0 355.7h0M208.0 353.9h0M208.8 353.7h0M209.1 353.0h0M209.7 355.1h0M209.7 351.4h0M210.0 355.4h0M209.8 355.4h0M210.4 353.0h0M210.3 355.7h0M210.8 350.9h0M211.4 353.6h0M211.9 352.9h0M212.4 354.5h0M212.9 353.7h0M212.6 354.3h0M212.8 352.3h0M213.1 352.9h0M213.8 355.5h0M214.0 353.3h0M214.1 350.3h0M214.0 353.6h0M214.8 350.0h0M214.7 351.9h0M214.9 352.7h0M215.4 351.6h0M215.9 346.8h0M215.6 352.5h0M215.5 352.3h0M215.8 354.3h0M216.5 355.9h0M216.0 351.6h0M216.4 352.7h0M216.8 351.1h0M217.2 351.5h0M216.9 351.6h0M217.3 353.6h0M217.6 352.3h0M218.0 355.1h0M218.6 355.1h0M218.9 351.7h0M219.1 355.4h0M219.5 355.5h0M219.5 355.2h0M220.3 351.7h0M220.0 350.5h0M220.4 352.2h0M221.1 355.4h0M220.7 348.4h0M221.1 350.6h0M221.5 352.6h0M221.8 354.3h0M222.1 353.8h0M222.1 355.4h0M222.6 348.7h0M222.5 355.8h0M222.9 352.8h0M223.1 355.4h0M223.1 355.1h0M223.3 350.7h0M223.4 355.7h0M223.8 348.9h0M223.7 353.8h0M224.3 352.8h0M224.4 346.4h0M224.5 353.4h0M225.0 345.2h0M224.6 353.5h0M225.3 349.0h0M225.3 346.7h0M225.8 351.8h0M226.0 345.5h0M226.4 343.0h0M225.9 349.6h0M226.3 348.8h0M226.5 347.3h0M226.4 345.9h0M226.8 343.9h0M227.0 338.5h0M227.0 345.0h0M227.1 349.6h0M227.3 341.7h0M227.5 344.0h0M227.3 348.9h0M227.7 346.5h0M228.2 333.6h0M228.2 347.9h0M228.5 343.7h0M228.2 347.2h0M228.2 346.6h0M228.5 340.0h0M228.7 346.7h0M228.9 343.9h0M228.6 335.5h0M229.3 342.4h0M228.9 343.4h0M229.0 335.2h0M229.3 341.5h0M229.7 340.3h0M229.4 341.7h0M229.3 345.0h0M230.3 337.6h0M229.9 337.8h0M229.9 340.5h0M229.9 341.8h0M230.7 337.7h0M230.4 339.2h0M230.2 333.6h0M230.3 335.6h0M230.8 342.8h0M230.7 341.9h0M231.1 327.3h0M230.8 341.8h0M231.3 332.6h0M231.3 337.8h0M231.6 339.0h0M231.5 338.9h0M231.6 333.1h0M231.9 332.5h0M231.7 331.2h0M232.1 327.9h0M232.4 337.6h0M232.0 335.7h0M232.5 322.0h0M232.1 330.0h0M232.9 333.5h0M233.0 339.5h0M233.0 332.5h0M232.5 335.4h0M232.7 337.9h0M232.8 335.2h0M233.0 333.3h0M232.8 338.4h0M233.1 328.1h0M233.6 334.7h0M233.7 325.9h0M233.7 336.6h0M233.3 337.6h0M234.2 336.3h0M233.8 336.1h0M234.2 322.7h0M233.7 336.2h0M234.1 337.5h0M234.3 339.3h0M234.4 331.3h0M234.5 331.0h0M234.4 329.8h0M234.9 337.8h0M234.6 337.5h0M235.1 337.9h0M235.0 338.9h0M234.5 329.8h0M235.2 331.1h0M235.2 336.7h0M235.3 324.1h0M235.3 334.6h0M235.1 322.4h0M235.8 321.3h0M235.6 318.3h0M235.4 334.8h0M235.8 326.1h0M235.6 332.0h0M236.2 337.4h0M236.1 335.9h0M236.4 332.3h0M236.1 329.4h0M236.3 334.5h0M236.5 334.0h0M236.8 335.3h0M236.7 326.2h0M236.8 337.0h0M236.5 327.9h0M236.8 336.4h0M236.5 324.8h0M236.6 329.1h0M236.7 327.1h0M236.8 331.6h0M236.8 336.3h0M236.9 325.8h0M237.2 333.6h0M237.0 321.2h0M237.1 333.2h0M237.5 320.6h0M237.5 334.1h0M237.7 319.3h0M237.3 327.5h0M237.3 328.8h0M237.7 330.2h0M237.8 321.7h0M237.8 318.9h0M237.8 335.2h0M238.0 335.2h0M238.6 325.2h0M238.2 336.7h0M238.3 317.3h0M238.1 330.1h0M238.2 321.4h0M238.6 335.2h0M238.9 329.0h0M238.5 329.4h0M238.7 327.9h0M238.6 331.5h0M239.0 330.6h0M239.2 338.0h0M239.2 330.1h0M239.0 339.7h0M239.6 341.7h0M239.7 331.3h0M239.7 338.5h0M239.6 336.5h0M240.3 326.3h0M239.9 343.4h0M239.8 343.6h0M240.2 343.1h0M240.1 341.6h0M240.1 330.5h0M240.0 343.3h0M240.0 328.0h0M240.9 342.5h0M240.4 341.1h0M240.8 344.4h0M240.9 339.2h0M241.3 341.1h0M240.8 329.3h0M240.9 344.5h0M240.9 340.1h0M241.8 336.7h0M241.4 347.7h0M241.7 344.1h0M241.7 347.2h0M241.5 340.9h0M242.2 336.8h0M242.1 329.4h0M242.1 334.1h0M242.3 345.9h0M242.2 348.3h0M242.3 345.5h0M242.5 346.6h0M242.7 345.3h0M242.9 346.6h0M242.7 344.7h0M242.6 343.9h0M242.8 342.0h0M242.9 346.3h0M242.8 342.3h0M242.8 338.3h0M243.0 341.0h0M243.4 345.2h0M243.6 339.3h0M243.3 344.5h0M243.3 341.2h0M243.8 341.1h0M244.1 342.5h0M244.1 348.6h0M244.0 336.9h0M244.5 345.7h0M244.3 348.3h0M244.4 334.3h0M244.3 343.3h0M244.7 347.8h0M244.7 349.1h0M244.6 343.5h0M245.0 350.2h0M245.4 350.1h0M245.3 347.2h0M245.5 348.8h0M245.4 338.9h0M245.9 347.7h0M246.0 350.1h0M245.4 349.5h0M246.0 345.3h0M245.8 346.1h0M246.1 350.9h0M246.2 349.0h0M246.6 339.5h0M246.5 347.6h0M246.1 348.8h0M246.1 349.8h0M246.6 347.7h0M247.1 344.9h0M247.1 336.2h0M246.8 339.0h0M247.5 349.9h0M247.4 348.6h0M247.5 343.6h0M247.3 350.2h0M247.8 349.4h0M247.6 340.7h0M247.7 342.5h0M247.9 340.9h0M247.9 341.2h0M248.2 336.3h0M248.1 346.4h0M247.9 346.6h0M248.8 337.3h0M248.4 351.7h0M248.4 338.2h0M248.5 341.7h0M248.9 345.1h0M249.3 338.3h0M249.2 336.6h0M249.0 352.0h0M249.3 350.8h0M249.7 349.1h0M249.7 338.4h0M249.5 341.4h0M250.0 351.4h0M250.2 340.8h0M249.8 337.7h0M249.7 350.1h0M250.0 350.8h0M250.1 351.1h0M250.0 349.7h0M250.3 338.1h0M250.8 348.3h0M250.7 342.4h0M250.6 352.2h0M250.9 339.6h0M251.4 352.0h0M251.2 353.4h0M250.8 352.1h0M251.3 345.9h0M251.5 352.2h0M251.4 353.9h0M251.7 344.2h0M251.5 352.1h0M251.8 350.3h0M251.8 351.7h0M252.2 353.0h0M252.2 352.0h0M252.7 353.4h0M252.6 354.7h0M252.2 341.9h0M252.8 344.2h0M252.9 355.5h0M252.7 346.1h0M253.2 349.3h0M253.1 343.7h0M252.8 349.4h0M252.9 348.3h0M253.6 355.2h0M253.8 348.9h0M253.8 343.4h0M253.7 349.6h0M253.8 344.2h0M254.0 353.3h0M254.0 345.3h0M253.9 354.0h0M254.2 353.3h0M254.6 341.1h0M254.7 351.0h0M254.3 348.9h0M254.6 338.5h0M254.8 343.8h0M255.0 347.8h0M254.9 339.7h0M255.2 348.4h0M255.2 338.4h0M255.4 348.5h0M255.4 349.0h0M255.6 333.8h0M255.8 342.4h0M255.6 334.0h0M255.9 337.7h0M255.9 349.7h0M255.8 336.2h0M256.3 348.9h0M256.1 340.7h0M256.0 344.9h0M256.1 337.1h0M256.3 347.4h0M256.6 335.8h0M256.2 336.6h0M256.2 332.6h0M256.7 347.4h0M257.1 331.5h0M257.1 344.1h0M256.8 337.9h0M257.1 346.9h0M257.1 341.1h0M257.1 343.5h0M257.3 343.1h0M257.6 347.3h0M257.8 344.5h0M258.0 342.1h0M257.7 335.6h0M258.4 333.5h0M258.4 342.0h0M258.4 341.1h0M258.5 339.1h0M258.6 335.0h0M258.9 338.3h0M258.9 342.7h0M259.1 343.7h0M259.2 343.3h0M259.2 332.0h0M259.8 342.4h0M259.3 338.3h0M259.6 342.6h0M259.7 341.4h0" stroke="#1f6fec" stroke-width="2.3" stroke-linecap="round" fill="none"/>
<path d="M312.4 348.4h0M313.0 350.6h0M314.6 348.9h0M314.7 348.7h0M315.4 345.9h0M315.7 347.1h0M316.8 343.4h0M318.7 338.5h0M319.0 337.3h0M319.9 341.5h0M321.0 340.9h0M321.6 334.5h0M322.0 338.3h0M322.6 331.2h0M323.0 340.4h0M323.4 331.1h0M323.7 327.2h0M324.4 327.8h0M324.5 325.0h0M325.1 323.4h0M325.8 317.5h0M326.4 312.6h0M326.8 309.5h0M327.2 311.0h0M327.4 315.0h0M327.9 315.2h0M328.6 317.8h0M329.0 322.8h0M330.8 334.0h0M331.1 337.6h0M331.7 342.4h0M332.2 349.2h0M332.8 347.4h0M333.2 345.0h0M334.0 344.9h0M335.9 343.6h0M336.5 350.5h0M337.0 347.9h0M337.7 342.9h0M338.0 345.7h0M338.5 339.3h0M339.5 343.4h0M339.7 339.5h0M340.0 336.1h0M340.8 332.2h0M341.4 331.9h0M341.9 327.4h0M342.3 332.0h0M342.5 327.9h0M343.1 327.4h0M344.0 330.5h0M343.9 328.2h0M344.8 326.8h0M345.2 323.3h0M345.4 325.9h0M345.9 320.7h0M346.4 322.6h0M346.9 322.0h0M347.1 318.4h0M347.7 316.2h0M347.8 315.6h0M348.4 317.2h0M348.7 312.0h0M349.3 312.2h0M349.6 313.3h0M350.5 302.8h0M350.6 307.2h0M351.5 314.3h0M351.6 319.0h0M352.0 323.6h0M352.8 322.8h0M353.1 327.9h0M353.5 332.9h0M353.9 332.9h0M354.5 329.9h0M354.9 339.9h0M355.1 337.8h0M355.6 337.2h0M356.1 341.4h0M357.1 342.9h0M357.7 345.4h0M358.4 343.0h0M359.0 340.3h0M359.4 338.7h0M359.8 338.0h0M360.2 338.9h0M360.6 337.1h0M361.3 331.1h0M361.7 327.5h0M362.1 333.0h0M362.4 323.7h0M363.1 331.9h0M363.5 321.5h0M364.0 327.2h0M364.3 326.4h0M364.6 320.9h0M365.1 322.0h0M365.8 317.0h0M366.3 318.5h0M366.7 313.0h0M366.9 314.0h0M367.7 318.8h0M367.9 318.2h0M368.0 313.6h0M368.5 311.0h0M369.2 313.0h0M369.4 311.6h0M369.9 311.4h0M370.4 308.9h0M370.9 307.7h0M371.0 309.5h0M371.4 309.9h0M372.1 310.3h0M372.2 307.5h0M372.7 299.2h0M372.7 305.3h0M373.3 307.9h0M373.8 302.2h0M374.1 304.6h0M374.3 306.4h0M374.7 296.0h0M374.7 300.7h0M374.8 306.8h0M375.5 313.7h0M376.0 305.8h0M376.0 316.9h0M376.9 317.0h0M377.0 326.5h0M377.7 325.7h0M377.5 329.2h0M378.3 332.4h0M378.5 330.7h0M379.3 325.9h0M379.4 328.9h0M379.7 328.8h0M380.3 326.7h0M381.7 332.5h0M382.8 330.0h0M382.9 325.9h0M383.8 329.3h0M383.7 318.6h0M384.3 323.5h0M384.8 317.9h0M385.3 321.8h0M385.3 318.5h0M385.7 317.0h0M386.5 315.5h0M387.1 312.2h0M387.5 314.6h0M388.3 307.0h0M388.6 308.7h0M388.8 307.6h0M389.2 304.5h0M389.7 306.4h0M390.2 308.1h0M390.4 300.1h0M390.9 305.2h0M391.6 303.6h0M391.8 300.7h0M392.4 297.9h0M392.9 293.5h0M393.3 294.3h0M393.6 294.9h0M394.2 291.5h0M394.4 284.6h0M395.1 288.4h0M395.5 288.0h0M395.9 291.7h0M396.2 295.7h0M396.8 290.5h0M397.3 294.0h0M397.3 293.2h0M397.9 299.7h0M398.6 298.7h0M398.7 297.7h0M399.4 301.0h0M399.7 291.6h0M400.1 297.8h0M400.3 290.4h0M400.7 292.0h0M401.1 297.3h0M402.0 296.9h0M402.4 291.0h0M402.6 292.4h0M403.0 291.4h0M402.5 299.7h0M403.5 300.1h0M403.6 298.2h0M404.2 296.4h0M404.6 304.6h0M404.9 301.4h0M405.5 304.2h0M405.7 308.7h0M406.5 309.7h0M407.0 310.2h0M406.9 308.7h0M407.2 311.4h0M407.9 310.6h0M408.2 312.1h0M408.7 313.9h0M409.2 318.3h0M409.8 321.5h0M410.1 319.2h0M410.7 325.1h0M411.5 324.9h0M411.9 331.0h0M412.5 327.6h0M412.7 325.5h0M413.8 330.5h0M414.0 329.1h0M414.6 332.5h0M415.2 331.0h0M415.2 334.2h0M416.1 330.9h0M416.1 333.9h0M416.9 333.8h0M417.3 334.5h0M418.7 332.2h0M418.7 327.9h0M419.5 331.8h0M420.1 328.3h0M421.2 327.1h0M421.5 324.0h0M422.0 322.0h0M422.6 325.1h0M422.4 323.8h0M423.1 327.2h0M424.0 325.6h0M423.8 323.0h0M424.7 325.8h0M425.1 326.5h0M426.0 329.1h0M426.2 321.8h0M426.9 327.8h0M427.1 322.6h0M427.3 324.8h0M428.2 329.0h0M429.3 323.2h0M430.0 327.3h0M430.4 320.0h0M430.5 326.6h0M431.0 322.2h0M431.8 320.4h0M431.7 325.2h0M432.5 318.5h0M432.8 322.9h0M433.6 319.7h0M434.3 321.6h0M434.3 316.2h0M435.1 318.1h0M435.6 311.4h0M436.0 312.7h0M436.5 309.6h0M437.1 306.2h0M437.1 305.0h0M437.5 300.7h0M437.9 304.8h0M438.2 306.5h0M439.1 307.0h0M439.4 312.3h0M439.6 314.5h0M440.1 321.1h0M441.1 326.9h0M441.3 325.0h0M442.2 334.4h0M442.9 335.0h0M443.6 339.8h0M443.7 341.8h0M444.3 343.6h0M444.5 346.6h0M445.2 350.7h0M445.6 350.8h0M446.9 347.5h0M448.0 346.1h0M448.4 345.1h0M449.4 338.7h0M449.8 342.9h0M450.1 339.4h0M450.6 335.7h0M451.7 339.0h0M451.9 335.3h0M452.8 338.0h0M453.3 340.6h0M453.7 333.6h0M453.9 338.0h0M454.2 336.2h0M455.1 336.1h0M455.4 333.3h0M455.8 338.2h0M456.9 331.8h0M457.3 334.0h0M457.8 329.9h0M458.1 333.8h0M459.4 329.1h0M460.2 324.9h0M460.4 323.4h0M460.8 320.9h0M461.3 328.8h0M461.7 323.2h0M462.1 324.2h0M463.1 332.2h0M464.4 335.2h0M464.7 335.1h0M465.5 333.1h0M466.4 338.5h0M467.3 342.6h0M467.4 342.0h0M468.0 339.5h0M468.4 335.7h0M469.4 333.6h0M470.0 332.4h0M470.4 332.6h0M471.0 326.8h0M472.0 324.2h0M472.9 323.8h0M473.2 325.4h0M473.8 321.8h0M474.2 327.4h0M474.3 322.8h0M475.1 327.0h0M475.5 327.6h0M475.9 329.9h0M476.1 326.4h0M476.8 325.3h0M477.5 327.0h0M479.2 328.9h0M479.7 326.9h0M479.7 330.4h0M480.3 325.2h0M481.0 319.6h0M481.4 323.0h0M481.9 320.0h0M482.5 321.4h0M482.9 320.6h0M482.9 312.0h0M483.3 310.8h0M483.8 317.4h0M484.5 309.1h0M485.3 315.8h0M485.4 310.5h0M486.2 308.4h0M486.4 309.4h0M486.9 312.2h0M488.0 305.6h0M488.0 310.7h0M488.2 305.6h0M488.5 301.8h0M489.2 304.0h0M489.7 296.3h0M490.3 296.5h0M490.5 288.0h0M490.9 295.2h0M491.3 291.9h0M492.1 289.8h0M492.1 278.2h0M493.0 277.1h0M492.8 282.0h0M493.5 276.4h0M493.8 277.3h0M494.3 282.3h0M494.7 281.8h0M494.5 274.4h0M495.5 277.8h0M495.7 285.3h0M496.0 275.5h0M496.3 280.4h0M496.5 280.8h0M496.9 268.7h0M496.8 280.6h0M497.0 273.9h0M497.7 280.6h0M497.3 279.5h0M497.7 278.1h0M498.3 284.4h0M498.8 286.1h0M499.3 286.7h0M499.3 285.5h0M499.6 295.0h0M500.3 292.0h0M500.5 297.3h0M501.4 300.1h0M501.7 298.1h0M501.7 296.4h0M502.2 303.7h0M502.7 302.4h0M503.4 297.5h0M503.6 297.1h0M504.0 298.6h0M505.2 304.9h0M505.8 305.0h0M505.9 305.5h0M506.4 304.5h0M507.1 302.9h0M507.4 304.2h0M507.6 302.4h0M508.3 305.1h0M508.9 301.3h0M509.1 308.3h0M509.4 304.7h0M510.0 303.5h0M510.4 300.8h0M510.9 300.1h0M511.8 301.9h0M512.2 300.4h0M512.8 298.5h0M513.2 295.0h0M513.4 301.5h0M513.9 296.5h0M514.6 291.1h0M514.7 294.5h0M515.2 293.7h0M515.9 293.9h0M516.2 287.1h0M516.6 295.5h0M517.0 294.5h0M517.4 289.1h0M517.7 296.3h0M518.1 293.9h0M519.0 296.8h0M519.0 286.6h0M519.9 293.7h0M520.0 288.8h0M520.7 285.7h0M521.1 284.6h0M521.1 286.6h0M521.6 286.3h0M522.4 282.9h0M522.4 293.4h0M523.3 287.2h0M523.9 289.5h0M524.0 285.5h0M524.2 291.7h0M524.6 289.0h0M525.3 284.5h0M525.7 280.4h0M526.2 280.6h0M526.7 278.6h0M526.7 283.3h0M526.6 282.1h0M527.3 290.8h0M527.4 295.0h0M528.0 295.9h0M528.7 297.2h0M528.8 302.0h0M529.5 306.4h0M529.8 303.1h0M530.1 308.1h0M531.1 305.9h0M531.4 305.2h0M531.8 306.2h0M532.7 304.4h0M532.9 307.7h0M533.6 304.8h0M533.7 305.2h0M534.7 303.5h0M534.9 305.1h0M534.9 307.4h0M535.8 307.1h0M535.8 309.9h0M536.4 307.3h0M537.1 308.3h0M537.2 309.5h0M537.7 310.3h0M538.4 306.3h0M538.9 308.4h0M539.0 307.0h0M539.5 311.1h0M539.9 308.8h0" stroke="#666666" stroke-width="1.7" stroke-linecap="square" fill="none"/>
<path d="M313.0 353.0h0M313.3 352.4h0M313.6 350.8h0M314.1 346.4h0M314.2 350.2h0M314.7 347.8h0M315.2 347.7h0M315.9 345.3h0M316.0 344.6h0M316.7 347.2h0M317.4 348.6h0M317.8 345.6h0M318.0 342.8h0M318.2 345.9h0M318.8 344.2h0M319.3 341.4h0M320.1 339.8h0M320.6 341.3h0M320.7 338.3h0M321.4 339.2h0M321.5 342.9h0M321.7 343.6h0M321.9 345.3h0M322.7 347.1h0M322.9 342.3h0M323.6 336.1h0M323.6 341.1h0M323.9 339.3h0M324.3 336.6h0M324.3 341.3h0M324.7 326.9h0M324.9 329.1h0M325.0 337.7h0M324.9 328.8h0M325.4 333.2h0M325.1 333.7h0M325.8 335.3h0M325.5 328.0h0M326.1 323.0h0M325.9 322.5h0M325.9 327.1h0M326.5 315.1h0M326.4 318.3h0M326.4 327.5h0M327.2 325.0h0M326.9 323.4h0M327.1 334.9h0M327.2 319.8h0M327.2 331.1h0M327.2 332.4h0M327.2 333.8h0M326.9 331.6h0M327.7 337.6h0M327.4 328.2h0M327.5 331.2h0M328.2 320.3h0M328.0 318.7h0M327.9 328.2h0M327.7 326.7h0M328.6 322.8h0M328.5 329.5h0M328.3 327.5h0M328.8 324.9h0M328.6 323.7h0M329.4 343.1h0M329.5 326.5h0M329.1 329.6h0M329.9 341.5h0M329.5 334.2h0M329.6 342.0h0M330.2 345.0h0M330.1 334.5h0M330.6 337.8h0M330.5 346.5h0M330.8 340.4h0M331.3 348.2h0M331.6 342.1h0M331.5 341.3h0M332.2 351.3h0M332.7 350.9h0M332.7 348.3h0M333.6 348.7h0M333.7 348.8h0M334.3 351.7h0M334.6 347.8h0M335.3 347.7h0M335.8 349.9h0M336.0 350.6h0M336.8 351.3h0M337.3 347.6h0M337.7 352.2h0M338.6 346.0h0M338.5 343.6h0M339.2 345.7h0M339.4 344.1h0M339.8 344.9h0M340.6 344.6h0M341.0 342.4h0M341.0 341.1h0M341.7 339.4h0M342.0 343.2h0M342.4 337.4h0M343.1 331.4h0M343.4 333.9h0M343.8 338.4h0M343.8 336.3h0M344.1 335.1h0M344.8 337.8h0M344.9 330.1h0M345.3 333.2h0M346.1 334.7h0M346.0 334.5h0M346.7 331.5h0M347.2 331.5h0M347.4 329.7h0M347.8 323.5h0M347.5 327.9h0M348.3 328.2h0M348.3 326.0h0M348.8 327.1h0M348.7 319.5h0M349.4 322.7h0M349.1 316.6h0M349.9 318.5h0M350.2 314.6h0M350.3 315.5h0M350.4 322.1h0M350.4 314.6h0M350.9 324.2h0M350.6 315.7h0M351.5 322.3h0M351.6 327.0h0M351.7 320.6h0M352.3 329.2h0M352.4 333.7h0M353.2 334.9h0M353.6 336.0h0M353.5 335.2h0M354.0 334.6h0M354.5 342.1h0M354.6 342.7h0M354.6 342.1h0M355.3 341.4h0M355.6 345.9h0M356.2 345.6h0M356.6 347.7h0M357.2 344.3h0M357.7 346.7h0M357.6 350.9h0M358.2 348.9h0M358.6 349.8h0M358.8 343.2h0M359.5 346.0h0M359.8 343.7h0M360.4 345.1h0M360.5 344.5h0M361.1 342.3h0M361.8 336.5h0M362.3 339.0h0M362.7 338.8h0M362.8 332.8h0M363.3 332.8h0M364.1 331.7h0M364.1 332.7h0M364.2 331.1h0M364.8 335.0h0M365.0 328.8h0M365.1 333.9h0M365.4 332.1h0M365.7 333.4h0M366.0 328.0h0M365.9 333.2h0M366.4 325.0h0M366.8 331.4h0M366.8 332.5h0M367.0 327.9h0M367.3 329.0h0M367.7 331.5h0M367.8 324.1h0M368.0 332.7h0M368.0 331.1h0M368.5 329.8h0M368.9 320.4h0M368.5 320.6h0M369.1 315.9h0M369.0 318.5h0M369.5 318.7h0M369.4 317.3h0M370.1 318.4h0M370.0 314.9h0M370.8 323.7h0M370.5 321.2h0M370.8 320.2h0M370.7 320.2h0M371.1 319.6h0M371.1 321.3h0M371.4 325.5h0M371.4 320.6h0M371.7 318.2h0M371.9 326.5h0M372.2 324.5h0M372.6 321.4h0M373.1 316.1h0M373.5 324.4h0M373.6 318.7h0M374.0 325.6h0M373.9 324.0h0M374.5 323.3h0M374.2 325.6h0M375.0 326.5h0M375.1 329.8h0M375.9 321.7h0M376.5 326.1h0M376.2 328.3h0M376.6 332.3h0M376.6 332.7h0M377.1 335.7h0M377.7 330.1h0M377.6 326.5h0M377.8 332.9h0M378.2 334.7h0M377.9 331.0h0M378.5 330.0h0M379.3 336.5h0M379.0 333.4h0M379.3 339.8h0M380.0 331.4h0M380.4 339.4h0M380.9 333.7h0M381.3 332.6h0M382.0 342.1h0M382.0 339.6h0M381.9 336.5h0M382.8 337.3h0M383.1 330.1h0M383.1 334.9h0M383.7 334.0h0M383.2 328.9h0M384.1 334.5h0M384.5 328.5h0M384.3 333.8h0M385.0 324.5h0M385.1 323.5h0M385.6 333.3h0M385.7 327.2h0M385.4 325.1h0M386.1 326.6h0M386.1 325.6h0M386.3 318.8h0M386.5 324.5h0M386.9 319.8h0M387.5 326.2h0M387.9 321.5h0M387.9 317.1h0M388.2 320.7h0M388.0 321.9h0M388.5 319.5h0M388.3 320.4h0M389.2 318.9h0M389.6 315.7h0M389.6 316.9h0M389.5 311.0h0M390.2 312.2h0M390.8 308.6h0M390.8 307.6h0M391.4 309.0h0M392.1 306.3h0M392.3 308.9h0M392.7 300.2h0M392.9 298.9h0M393.3 305.9h0M393.8 298.4h0M394.4 300.2h0M394.1 297.6h0M395.0 296.4h0M395.4 296.0h0M395.3 295.3h0M395.9 302.9h0M396.0 297.8h0M396.4 296.2h0M396.9 305.5h0M396.9 301.6h0M397.0 300.3h0M397.4 300.4h0M397.7 306.6h0M398.2 309.5h0M398.2 307.2h0M398.5 303.8h0M398.4 308.5h0M399.3 303.3h0M399.9 309.2h0M399.5 306.9h0M400.1 303.3h0M400.4 304.5h0M400.5 301.4h0M401.1 305.5h0M400.8 305.5h0M401.3 303.2h0M402.0 299.9h0M402.5 305.7h0M402.1 302.1h0M402.7 306.1h0M402.6 307.4h0M403.1 308.0h0M403.4 303.2h0M403.0 304.7h0M403.7 309.4h0M403.6 304.0h0M404.0 308.1h0M404.1 309.2h0M404.9 314.8h0M404.7 313.1h0M404.9 309.1h0M404.8 313.1h0M405.4 315.8h0M406.1 314.4h0M405.8 321.8h0M406.4 314.2h0M406.3 319.8h0M406.9 314.3h0M406.9 318.3h0M407.2 316.1h0M407.4 319.9h0M407.2 321.4h0M407.6 324.9h0M408.1 324.2h0M408.2 324.3h0M408.3 327.1h0M408.7 321.1h0M409.2 322.6h0M409.7 329.3h0M409.7 324.1h0M410.0 328.6h0M410.3 328.0h0M411.0 325.5h0M411.1 335.3h0M411.7 329.2h0M411.8 335.5h0M412.3 331.8h0M412.6 334.0h0M413.3 331.4h0M413.4 337.7h0M413.6 329.3h0M414.3 334.3h0M414.4 336.3h0M414.7 339.0h0M415.1 335.9h0M415.5 332.6h0M415.9 340.3h0M416.2 342.1h0M416.6 343.7h0M416.9 337.6h0M417.4 340.4h0M418.2 340.6h0M418.2 338.6h0M419.0 334.6h0M418.8 335.9h0M419.2 335.8h0M419.6 339.0h0M420.5 330.1h0M420.9 334.7h0M421.1 333.1h0M421.5 337.0h0M421.7 329.8h0M422.3 334.7h0M422.3 326.3h0M422.3 331.2h0M422.8 331.3h0M422.9 326.6h0M422.9 332.2h0M423.3 331.6h0M423.8 333.2h0M424.2 335.8h0M423.9 330.8h0M424.1 331.5h0M424.2 327.8h0M425.0 330.0h0M425.3 331.2h0M425.9 329.9h0M425.9 331.2h0M426.4 329.9h0M426.7 335.1h0M426.4 329.4h0M426.8 326.7h0M427.6 326.7h0M428.1 326.3h0M428.2 327.2h0M428.8 323.8h0M429.3 330.8h0M429.8 332.4h0M429.9 329.3h0M430.2 328.3h0M430.5 330.0h0M430.9 333.1h0M431.4 332.2h0M431.8 327.3h0M432.0 329.4h0M432.1 328.7h0M432.9 330.2h0M433.1 329.5h0M433.3 329.9h0M433.6 325.2h0M433.9 328.1h0M433.8 326.8h0M434.4 331.6h0M434.5 327.4h0M434.3 325.2h0M434.9 320.4h0M435.2 324.1h0M435.4 320.8h0M435.3 321.8h0M436.2 325.7h0M436.1 316.5h0M436.3 321.8h0M436.4 313.9h0M437.1 317.6h0M436.8 317.9h0M437.1 306.2h0M437.4 315.7h0M437.6 308.7h0M437.5 312.9h0M438.0 309.5h0M437.8 314.2h0M438.7 318.2h0M438.4 311.1h0M438.8 323.5h0M439.2 318.3h0M439.5 317.6h0M439.3 315.2h0M439.6 326.4h0M439.8 325.4h0M440.2 319.6h0M440.6 333.2h0M440.5 323.5h0M441.2 334.5h0M441.8 328.3h0M442.0 334.4h0M442.6 338.8h0M442.8 338.8h0M443.3 341.9h0M443.7 346.0h0M444.0 347.0h0M444.6 348.9h0M444.9 352.3h0M445.6 352.5h0M445.6 354.6h0M446.6 351.7h0M446.5 350.7h0M447.6 348.2h0M448.1 348.5h0M448.5 350.0h0M449.1 345.3h0M449.6 347.6h0M450.1 341.6h0M450.4 347.2h0M450.6 342.1h0M451.1 346.3h0M451.4 343.4h0M451.9 343.1h0M452.4 339.2h0M451.9 341.8h0M452.3 341.8h0M452.9 340.7h0M453.3 343.9h0M453.9 337.1h0M454.2 342.5h0M454.7 344.2h0M454.6 338.7h0M454.5 341.2h0M455.0 340.6h0M455.5 336.0h0M456.2 338.6h0M456.2 337.3h0M456.5 334.1h0M457.2 344.0h0M457.2 336.0h0M457.4 334.5h0M458.0 336.9h0M458.4 337.4h0M459.0 337.7h0M459.2 334.0h0M459.7 335.1h0M459.4 334.5h0M460.0 327.4h0M460.0 327.1h0M460.5 333.7h0M460.9 328.7h0M461.0 328.5h0M461.5 326.6h0M461.1 331.7h0M462.0 333.9h0M462.2 329.9h0M462.4 332.4h0M463.0 337.0h0M463.6 333.2h0M464.3 334.6h0M464.0 333.4h0M464.7 335.0h0M464.4 338.3h0M465.2 340.9h0M465.5 337.6h0M466.1 342.5h0M466.4 341.2h0M466.7 342.8h0M466.9 346.4h0M467.3 343.1h0M468.3 342.9h0M468.6 345.7h0M468.8 340.6h0M469.4 334.8h0M469.6 341.6h0M470.2 339.0h0M471.0 333.8h0M471.1 337.7h0M471.4 334.0h0M471.7 329.3h0M472.1 329.7h0M472.7 329.2h0M472.4 329.7h0M473.2 331.3h0M473.8 333.5h0M474.0 330.3h0M474.1 330.5h0M474.4 328.8h0M474.9 333.3h0M475.1 332.7h0M475.3 336.1h0M475.6 336.0h0M476.3 329.9h0M476.6 335.4h0M477.4 333.0h0M477.8 331.6h0M477.5 332.4h0M477.9 332.7h0M478.7 331.8h0M478.7 332.2h0M479.6 336.6h0M479.4 338.1h0M479.7 335.9h0M480.7 334.8h0M480.5 331.3h0M480.8 335.4h0M480.9 336.9h0M481.1 334.1h0M481.6 325.7h0M481.8 330.1h0M482.4 324.8h0M482.9 324.7h0M483.3 327.3h0M483.0 324.8h0M483.9 319.7h0M483.5 324.4h0M484.1 326.0h0M484.4 323.3h0M484.3 318.6h0M485.3 321.4h0M485.5 322.6h0M485.4 314.7h0M486.1 317.4h0M485.9 319.3h0M486.6 323.4h0M486.6 319.3h0M486.7 316.2h0M487.5 312.8h0M487.9 313.5h0M487.6 313.6h0M488.0 312.1h0M488.1 317.5h0M488.5 313.9h0M488.9 313.4h0M489.4 309.6h0M489.4 306.5h0M489.6 306.6h0M489.8 300.9h0M489.9 308.3h0M490.3 304.1h0M491.2 305.7h0M490.9 306.3h0M491.6 291.1h0M491.2 296.9h0M491.8 299.9h0M491.7 294.2h0M492.5 289.3h0M492.4 293.8h0M493.0 297.2h0M493.0 287.7h0M493.1 294.2h0M492.7 299.9h0M493.7 285.8h0M493.5 284.8h0M494.0 291.9h0M493.7 288.1h0M494.2 288.2h0M494.2 293.4h0M495.0 295.4h0M494.7 293.3h0M495.1 287.9h0M495.5 287.2h0M495.7 288.0h0M495.9 291.4h0M496.4 289.9h0M495.9 294.7h0M496.5 287.2h0M496.9 294.0h0M497.1 290.5h0M497.3 288.6h0M497.5 288.3h0M497.5 289.6h0M497.6 293.4h0M497.9 297.7h0M498.0 292.0h0M497.8 288.4h0M498.4 300.2h0M498.3 292.1h0M498.7 300.4h0M499.5 303.3h0M499.2 305.4h0M499.7 304.2h0M500.0 303.0h0M500.3 307.6h0M500.3 308.5h0M500.9 308.5h0M501.2 311.7h0M502.0 309.6h0M502.0 310.5h0M502.1 311.0h0M502.9 307.7h0M503.2 309.9h0M503.5 315.5h0M504.0 314.5h0M504.9 315.7h0M505.3 314.2h0M505.5 315.1h0M506.2 314.5h0M506.3 314.3h0M507.1 311.7h0M507.1 314.4h0M507.9 311.5h0M508.3 313.6h0M508.6 316.5h0M509.0 314.5h0M509.5 311.8h0M509.6 314.1h0M510.2 316.8h0M510.6 313.6h0M511.1 309.5h0M511.5 314.4h0M512.1 312.1h0M511.9 308.1h0M512.6 311.0h0M512.9 311.7h0M513.3 309.9h0M514.0 309.1h0M514.6 308.4h0M514.5 306.0h0M515.3 307.5h0M515.2 303.9h0M515.7 308.6h0M515.8 302.2h0M516.3 308.1h0M516.6 300.2h0M517.2 300.5h0M517.1 297.5h0M517.3 302.7h0M517.6 300.5h0M517.6 302.0h0M518.3 295.7h0M518.2 301.7h0M518.6 303.8h0M518.6 296.6h0M519.3 300.9h0M519.8 298.0h0M520.3 299.4h0M520.0 294.9h0M520.5 300.3h0M520.7 300.8h0M520.8 297.1h0M521.5 296.7h0M521.6 300.0h0M522.1 294.9h0M522.4 298.7h0M522.7 296.1h0M522.7 289.8h0M522.9 291.7h0M522.9 293.3h0M523.4 294.4h0M523.6 293.5h0M524.5 297.3h0M524.8 299.8h0M525.0 300.8h0M525.9 301.1h0M525.4 297.6h0M526.3 297.6h0M526.4 305.9h0M526.7 305.1h0M526.7 306.8h0M527.5 307.7h0M527.9 310.0h0M528.1 306.0h0M528.5 311.7h0M528.8 305.2h0M529.4 312.3h0M529.3 313.1h0M529.9 312.9h0M530.4 313.3h0M531.1 312.3h0M531.4 317.6h0M531.8 314.9h0M532.4 314.8h0M532.3 316.9h0M532.8 314.1h0M533.3 315.5h0M534.1 317.9h0M533.9 313.9h0M534.2 313.9h0M534.5 313.8h0M535.1 316.4h0M534.9 320.2h0M535.7 314.1h0M536.0 317.0h0M536.1 313.4h0M536.8 315.6h0M537.5 318.4h0M538.0 314.9h0M538.4 315.5h0M538.7 320.2h0M538.9 315.9h0M539.4 317.8h0M539.4 314.7h0M540.1 320.9h0" stroke="#f53535" stroke-width="2.0" stroke-linecap="round" fill="none"/>
<path d="M312.5 353.0h0M313.9 354.2h0M314.0 351.7h0M314.5 353.5h0M315.2 351.5h0M315.6 352.3h0M316.0 348.5h0M316.5 348.2h0M316.5 348.9h0M316.9 347.1h0M317.6 349.3h0M318.0 348.9h0M318.4 346.4h0M319.4 349.7h0M320.0 351.1h0M320.2 346.5h0M320.6 345.7h0M321.0 345.6h0M321.4 345.4h0M322.5 348.5h0M322.8 346.3h0M323.3 341.4h0M323.6 344.5h0M324.2 342.9h0M324.5 345.8h0M325.3 343.7h0M325.8 340.4h0M326.3 342.0h0M326.6 336.1h0M326.8 335.5h0M327.3 342.8h0M327.6 341.1h0M327.8 341.7h0M328.3 344.2h0M328.8 341.9h0M329.3 345.9h0M330.0 347.5h0M330.4 351.3h0M331.0 348.9h0M331.3 350.7h0M331.5 349.2h0M332.0 355.5h0M332.4 353.3h0M333.2 352.2h0M333.2 350.8h0M333.6 354.6h0M334.2 350.1h0M335.4 354.7h0M335.6 352.7h0M336.2 352.4h0M336.3 353.2h0M336.6 351.6h0M337.1 352.7h0M337.9 353.7h0M338.2 351.8h0M338.6 349.3h0M339.1 351.6h0M339.6 344.4h0M340.4 343.3h0M340.5 346.5h0M341.3 342.9h0M340.9 341.8h0M341.5 348.1h0M342.0 343.4h0M342.0 343.0h0M342.3 340.7h0M343.1 344.0h0M343.5 343.8h0M343.4 337.5h0M343.4 341.1h0M343.9 337.6h0M344.1 343.0h0M344.5 343.5h0M344.4 344.7h0M345.3 339.9h0M345.3 337.6h0M346.1 342.5h0M345.6 339.2h0M346.4 339.0h0M346.3 335.9h0M346.9 337.7h0M347.1 337.8h0M347.8 335.9h0M347.6 335.0h0M347.9 337.6h0M348.3 330.9h0M348.7 335.5h0M349.2 335.5h0M349.3 330.5h0M349.9 333.2h0M350.5 330.8h0M350.3 330.9h0M350.8 334.1h0M351.2 331.9h0M351.7 334.2h0M351.7 335.4h0M352.0 336.1h0M352.9 337.1h0M353.3 339.8h0M353.4 336.3h0M353.8 339.1h0M354.6 347.4h0M354.6 345.8h0M355.0 346.1h0M355.8 345.4h0M356.8 352.7h0M357.2 349.8h0M357.7 353.8h0M357.7 350.8h0M358.1 350.7h0M358.7 348.7h0M358.8 348.8h0M359.6 347.7h0M359.9 347.2h0M360.0 346.7h0M360.5 345.5h0M361.4 344.2h0M361.4 341.0h0M361.9 341.8h0M362.0 340.0h0M362.7 342.8h0M363.1 342.6h0M363.3 339.6h0M364.0 336.2h0M364.1 338.5h0M364.4 336.4h0M364.5 337.9h0M365.3 336.8h0M365.9 334.7h0M366.1 335.4h0M366.6 332.0h0M366.4 332.6h0M367.2 338.1h0M367.4 329.7h0M367.7 330.8h0M367.7 337.9h0M368.4 330.9h0M368.9 333.0h0M369.0 328.6h0M369.8 336.5h0M370.1 331.3h0M370.4 329.9h0M370.4 333.5h0M371.2 328.4h0M370.9 327.4h0M371.1 329.7h0M371.5 329.9h0M371.4 328.5h0M371.9 331.6h0M371.9 333.1h0M372.1 333.1h0M373.1 329.2h0M372.6 336.4h0M373.4 329.3h0M373.4 331.1h0M373.9 333.8h0M373.7 336.2h0M374.4 336.7h0M374.1 329.4h0M374.3 329.2h0M374.8 334.6h0M374.9 335.0h0M375.4 337.3h0M376.0 342.6h0M376.1 337.9h0M376.3 336.8h0M376.6 332.3h0M377.4 341.6h0M377.2 340.7h0M377.9 332.1h0M377.4 337.6h0M377.5 339.3h0M377.9 337.9h0M378.6 335.3h0M378.9 337.6h0M379.6 338.0h0M380.0 338.6h0M380.3 342.9h0M381.1 343.0h0M380.9 338.9h0M381.5 344.8h0M381.0 347.0h0M381.6 346.8h0M382.4 346.7h0M382.4 338.0h0M382.8 339.7h0M382.9 337.6h0M383.1 335.8h0M383.3 339.2h0M383.7 336.0h0M384.2 335.4h0M384.1 334.1h0M384.7 340.7h0M384.2 334.7h0M385.1 338.0h0M385.1 334.3h0M385.2 333.8h0M385.5 335.7h0M385.5 333.3h0M385.8 332.6h0M385.6 335.4h0M386.3 329.7h0M386.3 329.2h0M386.8 322.9h0M387.3 325.2h0M387.3 323.7h0M387.9 321.3h0M387.8 326.9h0M388.3 325.9h0M388.1 325.6h0M388.7 326.5h0M388.7 318.7h0M388.9 319.2h0M388.9 318.7h0M389.6 321.9h0M389.5 320.4h0M389.5 319.2h0M390.0 321.6h0M390.3 311.0h0M390.1 319.3h0M390.9 314.4h0M390.9 316.6h0M390.8 319.2h0M391.5 317.6h0M391.4 314.8h0M392.0 319.1h0M392.4 308.5h0M393.1 311.1h0M393.3 305.5h0M393.3 306.1h0M393.5 306.6h0M394.3 311.2h0M394.4 307.6h0M394.3 300.5h0M394.2 304.0h0M394.8 311.5h0M394.7 311.7h0M395.3 308.6h0M395.0 303.3h0M396.0 313.1h0M395.5 304.4h0M396.2 314.3h0M396.4 314.5h0M396.5 309.4h0M396.4 312.9h0M396.9 306.3h0M397.2 309.3h0M397.5 306.7h0M397.7 314.7h0M397.7 314.2h0M398.1 312.7h0M398.2 312.6h0M398.5 316.8h0M398.4 309.9h0M398.5 312.6h0M399.4 320.5h0M399.3 315.3h0M399.6 309.6h0M399.4 314.5h0M399.9 318.5h0M400.0 307.5h0M400.3 310.8h0M400.3 323.0h0M401.1 313.4h0M401.0 315.8h0M401.2 321.0h0M401.6 314.7h0M401.5 314.7h0M401.6 316.6h0M401.6 325.0h0M402.0 317.7h0M402.4 307.8h0M402.6 317.4h0M402.4 321.6h0M403.0 322.0h0M402.9 319.4h0M402.5 320.6h0M402.9 315.7h0M403.0 313.4h0M403.0 316.7h0M402.9 322.5h0M403.0 317.6h0M403.5 327.5h0M403.3 320.2h0M403.7 324.7h0M403.7 328.0h0M403.7 325.7h0M404.5 320.6h0M404.4 317.9h0M404.6 317.4h0M404.9 324.9h0M404.4 325.9h0M404.8 322.9h0M405.1 327.8h0M405.4 336.7h0M405.5 319.6h0M405.9 334.5h0M406.2 325.3h0M405.7 326.3h0M406.3 328.0h0M406.6 334.6h0M407.0 331.9h0M406.6 324.1h0M407.1 331.8h0M407.1 333.1h0M407.1 329.6h0M407.7 333.6h0M407.5 330.9h0M408.0 337.4h0M407.8 334.2h0M408.4 335.0h0M408.5 329.4h0M408.7 337.1h0M408.6 329.4h0M409.3 339.9h0M409.4 331.4h0M409.5 334.9h0M409.5 342.7h0M410.2 340.4h0M410.2 336.2h0M410.4 333.3h0M410.6 336.3h0M410.8 342.0h0M410.9 343.6h0M411.7 336.0h0M411.5 339.7h0M412.0 340.3h0M412.8 340.9h0M412.6 337.5h0M412.9 341.2h0M413.7 342.0h0M414.2 343.9h0M414.3 341.1h0M414.5 338.1h0M414.9 339.2h0M415.5 344.6h0M415.9 341.0h0M416.0 338.2h0M416.1 342.3h0M416.5 343.5h0M417.3 343.4h0M417.6 339.4h0M417.9 338.8h0M418.5 341.9h0M418.6 337.2h0M419.2 342.5h0M419.5 340.8h0M419.9 337.1h0M420.0 336.9h0M420.2 342.4h0M420.6 342.1h0M420.9 337.0h0M421.8 335.7h0M421.6 336.9h0M421.9 340.5h0M422.2 334.8h0M422.5 332.0h0M422.5 334.3h0M422.3 335.8h0M422.4 331.5h0M423.1 338.0h0M423.0 338.8h0M423.4 343.2h0M423.4 333.9h0M423.7 339.8h0M423.8 336.5h0M424.1 335.3h0M423.7 342.5h0M424.2 336.1h0M424.6 336.0h0M425.1 343.0h0M425.5 341.1h0M425.7 341.9h0M425.7 341.0h0M425.9 333.4h0M425.9 337.6h0M426.4 335.2h0M427.4 333.6h0M427.1 342.0h0M427.7 333.4h0M428.1 333.1h0M427.7 337.3h0M428.3 337.6h0M428.4 333.7h0M428.7 335.6h0M429.3 331.0h0M429.1 337.8h0M429.4 332.8h0M430.1 333.7h0M430.5 332.4h0M431.0 330.9h0M430.9 334.2h0M431.4 332.9h0M431.7 333.7h0M432.3 336.2h0M432.5 329.1h0M433.1 333.6h0M433.2 332.4h0M433.1 330.0h0M433.5 330.9h0M434.0 333.0h0M434.6 331.5h0M435.2 332.6h0M435.6 325.8h0M435.7 330.2h0M435.9 329.3h0M436.3 320.0h0M437.0 324.5h0M437.0 324.3h0M437.1 326.7h0M437.9 319.7h0M438.3 324.7h0M438.3 329.9h0M438.6 329.3h0M438.4 321.8h0M438.3 332.9h0M438.7 321.6h0M438.7 329.3h0M439.3 324.5h0M439.7 324.8h0M439.5 331.5h0M439.9 342.0h0M439.8 335.1h0M439.8 337.8h0M440.4 334.3h0M440.4 333.1h0M440.5 326.5h0M440.9 346.9h0M440.5 327.4h0M440.7 337.7h0M441.0 327.8h0M441.0 344.5h0M441.2 328.7h0M441.7 336.4h0M441.4 334.0h0M441.9 337.5h0M442.2 349.6h0M441.8 342.9h0M442.5 349.6h0M442.6 348.1h0M442.8 350.7h0M443.0 339.9h0M443.2 349.9h0M443.5 344.1h0M443.9 351.4h0M443.6 349.6h0M444.4 354.8h0M444.9 355.1h0M444.9 356.0h0M445.3 354.9h0M445.7 353.7h0M446.1 355.2h0M446.6 355.8h0M447.4 353.2h0M447.6 353.9h0M447.8 353.1h0M448.7 349.7h0M449.5 351.0h0M449.9 352.8h0M450.6 350.4h0M450.9 347.8h0M451.4 347.3h0M451.9 350.7h0M452.0 346.6h0M452.7 348.0h0M453.0 346.2h0M453.6 345.8h0M453.8 341.9h0M454.4 346.4h0M454.9 343.5h0M455.3 346.9h0M455.9 345.2h0M455.9 342.0h0M456.7 341.0h0M457.2 342.2h0M457.2 341.6h0M458.2 343.1h0M458.6 337.8h0M458.8 338.9h0M458.6 342.8h0M459.1 338.4h0M459.5 340.5h0M460.1 336.3h0M460.4 341.3h0M460.7 340.3h0M461.3 328.8h0M461.2 340.5h0M461.6 332.5h0M461.6 338.6h0M462.0 333.9h0M462.5 335.3h0M463.0 342.1h0M463.1 335.4h0M463.7 339.5h0M463.8 342.0h0M463.9 341.7h0M464.3 344.1h0M464.3 341.5h0M465.0 340.9h0M465.5 343.9h0M466.0 343.4h0M466.9 349.6h0M467.3 348.9h0M467.5 345.8h0M468.4 344.3h0M469.1 345.5h0M469.2 342.2h0M469.7 341.9h0M470.6 343.2h0M470.6 343.9h0M471.5 338.8h0M471.6 335.8h0M472.3 338.2h0M472.5 341.1h0M472.8 336.6h0M472.4 338.6h0M472.5 338.0h0M473.2 336.7h0M473.4 338.4h0M474.3 337.9h0M474.6 343.3h0M474.5 337.3h0M474.8 337.0h0M475.1 340.9h0M475.3 334.1h0M476.0 337.6h0M476.1 340.6h0M476.5 338.1h0M476.7 339.3h0M477.0 338.7h0M477.4 335.6h0M477.3 342.8h0M477.6 336.6h0M478.3 336.2h0M478.3 342.3h0M478.8 336.7h0M479.4 339.5h0M479.6 341.8h0M480.0 342.5h0M480.2 342.3h0M480.6 337.8h0M480.7 338.3h0M481.1 338.3h0M481.3 336.4h0M481.7 329.6h0M481.5 330.6h0M482.3 335.0h0M481.9 327.8h0M482.6 331.2h0M482.8 328.5h0M483.3 332.6h0M483.3 332.5h0M483.5 332.7h0M483.1 326.0h0M484.0 328.0h0M483.8 330.9h0M484.1 330.0h0M484.8 331.9h0M484.8 323.3h0M484.8 323.7h0M485.1 329.2h0M485.7 326.1h0M485.6 327.4h0M486.0 328.1h0M485.9 325.2h0M486.4 324.4h0M486.6 328.1h0M486.9 328.0h0M486.6 327.3h0M487.5 329.3h0M487.9 318.8h0M487.8 319.4h0M488.4 319.8h0M488.6 317.7h0M488.4 318.3h0M488.7 317.9h0M488.9 324.7h0M489.5 322.2h0M489.2 315.8h0M489.6 321.6h0M490.0 320.5h0M490.5 317.1h0M490.5 314.7h0M491.2 310.7h0M491.6 315.3h0M491.4 306.9h0M491.6 308.6h0M492.5 312.8h0M492.8 304.3h0M492.9 300.7h0M493.0 308.6h0M493.3 302.6h0M494.0 310.7h0M494.4 307.0h0M494.9 309.9h0M494.9 308.4h0M495.9 304.5h0M495.8 305.7h0M496.2 310.6h0M496.8 304.3h0M496.4 309.3h0M496.8 309.5h0M497.4 301.5h0M497.5 305.4h0M497.9 306.8h0M498.3 305.1h0M498.3 308.9h0M498.4 312.8h0M499.1 310.0h0M499.6 310.1h0M499.7 314.2h0M500.1 311.2h0M500.0 316.1h0M500.6 318.3h0M500.2 310.0h0M501.0 317.2h0M501.0 315.0h0M501.4 322.8h0M501.5 320.2h0M501.8 316.1h0M501.6 314.6h0M502.0 322.4h0M501.8 320.3h0M502.4 323.4h0M502.1 321.5h0M502.9 319.9h0M502.7 325.1h0M503.3 318.5h0M503.2 317.5h0M503.7 322.1h0M504.0 317.9h0M503.9 320.6h0M504.4 322.3h0M505.3 325.0h0M505.2 315.3h0M505.7 323.3h0M506.2 324.4h0M506.4 323.8h0M506.4 320.5h0M507.2 318.3h0M506.6 325.3h0M507.5 321.7h0M507.7 321.8h0M508.2 325.1h0M508.5 326.0h0M509.1 322.2h0M509.3 325.4h0M510.1 321.5h0M510.0 319.6h0M510.6 320.7h0M511.3 320.9h0M511.3 324.6h0M511.7 319.6h0M512.1 318.5h0M512.5 320.3h0M513.2 320.1h0M513.2 311.4h0M514.0 317.2h0M514.5 317.4h0M515.0 310.7h0M515.1 309.1h0M515.5 313.1h0M516.0 312.1h0M516.8 307.2h0M517.1 314.8h0M517.6 310.5h0M517.7 306.9h0M518.5 308.1h0M518.8 309.9h0M518.9 311.3h0M519.9 312.2h0M519.8 306.8h0M520.3 306.7h0M521.2 302.4h0M521.5 308.8h0M521.9 303.2h0M522.5 308.3h0M522.5 304.2h0M523.5 309.7h0M523.6 308.6h0M524.1 305.3h0M524.5 311.4h0M525.0 304.9h0M525.0 311.3h0M525.7 310.0h0M525.8 311.0h0M526.6 313.4h0M526.5 317.5h0M527.0 315.3h0M527.2 316.1h0M527.5 315.8h0M527.6 311.5h0M528.1 317.9h0M528.7 322.8h0M529.5 320.8h0M529.6 318.0h0M529.4 321.7h0M530.0 324.9h0M530.1 325.1h0M530.7 320.3h0M531.2 323.3h0M531.5 324.9h0M532.1 316.8h0M532.6 325.6h0M533.3 322.7h0M533.6 322.1h0M534.0 326.0h0M534.6 328.7h0M534.8 326.7h0M535.0 324.6h0M535.2 322.8h0M535.6 322.3h0M535.9 328.6h0M536.2 320.9h0M537.1 325.4h0M537.4 325.0h0M538.1 321.8h0M538.3 326.3h0M538.7 328.7h0M539.3 327.7h0M539.8 324.7h0M539.9 327.1h0" stroke="#1f6fec" stroke-width="2.3" stroke-linecap="round" fill="none"/>
<path d="M40.8 554.6h0M41.5 553.6h0M41.7 552.7h0M42.2 553.1h0M42.6 551.9h0M42.7 550.5h0M43.5 551.0h0M43.9 548.7h0M44.9 550.5h0M44.9 548.9h0M45.6 548.9h0M46.3 546.8h0M46.9 549.0h0M47.1 549.2h0M48.7 551.1h0M49.8 555.6h0M50.1 556.6h0M50.3 559.1h0M51.1 556.7h0M52.5 559.3h0M54.1 562.1h0M55.5 563.0h0M55.6 562.1h0M56.5 561.1h0M57.1 559.1h0M57.7 560.1h0M58.1 558.9h0M58.3 558.0h0M59.1 553.1h0M59.5 555.8h0M60.4 553.7h0M60.9 552.8h0M61.0 553.1h0M61.5 550.1h0M62.9 546.8h0M62.9 546.6h0M63.5 541.4h0M64.1 543.1h0M64.8 538.1h0M64.5 539.1h0M64.9 537.7h0M65.9 540.3h0M65.9 544.3h0M66.5 541.0h0M66.8 541.9h0M67.3 544.1h0M67.9 540.9h0M68.6 545.2h0M68.8 543.3h0M69.1 546.2h0M69.2 546.9h0M70.1 545.2h0M70.3 543.1h0M71.1 546.7h0M71.5 546.8h0M71.9 546.2h0M72.2 546.3h0M72.8 545.6h0M72.9 545.7h0M73.3 549.2h0M74.8 548.2h0M75.4 548.2h0M75.8 548.2h0M76.3 548.0h0M76.4 546.4h0M76.8 549.0h0M77.2 549.8h0M77.9 551.2h0M78.0 548.2h0M78.8 549.1h0M79.3 545.8h0M79.3 551.3h0M80.2 549.3h0M80.5 548.6h0M80.7 549.7h0M81.5 548.0h0M82.4 548.3h0M83.4 547.8h0M84.2 546.8h0M84.5 547.7h0M85.0 547.8h0M85.1 545.9h0M86.1 544.2h0M86.6 543.0h0M87.0 542.8h0M88.0 543.0h0M88.1 539.8h0M88.7 542.3h0M89.2 544.3h0M89.7 548.2h0M90.4 549.5h0M90.7 549.7h0M91.2 550.2h0M92.6 554.2h0M92.7 554.4h0M93.6 553.4h0M94.4 555.5h0M95.3 554.8h0M95.5 555.6h0M96.1 557.0h0M96.2 557.4h0M96.9 557.3h0M97.2 555.0h0M97.3 553.3h0M97.8 554.0h0M98.5 553.2h0M98.7 553.7h0M99.4 554.3h0M99.6 553.7h0M100.0 552.9h0M100.6 552.6h0M101.0 551.9h0M101.9 553.1h0M102.4 550.1h0M102.7 552.4h0M103.9 552.5h0M104.3 550.7h0M105.5 551.0h0M105.9 550.0h0M106.2 549.4h0M106.7 547.7h0M107.0 546.4h0M107.9 546.8h0M108.0 547.0h0M108.2 545.5h0M109.0 545.1h0M110.0 546.9h0M109.9 545.0h0M111.1 543.5h0M111.8 546.9h0M112.4 546.6h0M113.0 546.4h0M113.6 549.2h0M113.9 549.6h0M114.7 554.4h0M115.2 555.1h0M115.8 556.7h0M116.0 557.2h0M116.8 560.4h0M117.2 560.0h0M118.6 561.4h0M118.7 563.0h0M119.2 563.7h0M120.0 561.4h0M120.9 559.7h0M121.0 559.0h0M121.6 559.5h0M122.5 555.0h0M123.6 553.7h0M124.1 552.8h0M124.4 550.9h0M125.0 550.3h0M125.7 545.5h0M125.6 547.1h0M125.8 546.2h0M126.7 545.7h0M127.0 544.5h0M127.5 543.9h0M127.7 544.5h0M128.6 544.3h0M129.0 545.0h0M130.2 545.8h0M130.7 545.8h0M131.0 546.7h0M131.4 545.7h0M132.1 546.4h0M132.1 548.8h0M132.6 545.8h0M132.9 548.0h0M133.4 545.5h0M134.3 546.9h0M134.8 545.7h0M135.6 549.1h0M136.2 546.4h0M136.4 545.9h0M136.9 547.0h0M137.5 548.8h0M138.3 547.2h0M139.1 548.9h0M139.8 550.8h0M140.0 547.2h0M140.3 549.4h0M141.5 548.4h0M141.7 550.5h0M142.1 550.9h0M143.3 551.4h0M143.9 550.4h0M143.9 551.9h0M145.3 555.4h0M145.3 555.3h0M145.6 557.9h0M146.3 559.3h0M147.0 558.6h0M147.2 562.3h0M148.2 561.3h0M148.6 562.2h0M149.6 564.4h0M149.9 565.3h0M151.2 565.8h0M151.9 566.0h0M151.9 564.0h0M152.8 565.3h0M153.2 562.3h0M153.6 564.3h0M154.0 563.9h0M154.1 562.1h0M154.2 562.5h0M155.0 563.7h0M155.7 562.1h0M155.9 561.4h0M156.5 564.5h0M156.9 564.9h0M157.4 563.4h0M158.6 566.5h0M159.3 566.9h0M159.5 566.6h0M160.1 567.3h0M161.0 566.9h0M161.5 565.3h0M162.2 565.8h0M162.6 567.0h0M162.8 565.1h0M163.3 565.9h0M164.1 566.8h0M164.2 567.2h0M164.7 564.7h0M165.5 566.0h0M165.5 564.0h0M165.9 565.8h0M166.8 564.9h0M168.2 565.4h0M168.2 563.9h0M168.7 563.1h0M169.1 561.9h0M169.6 561.8h0M170.0 560.1h0M171.3 559.5h0M171.5 558.0h0M171.8 558.3h0M172.4 558.2h0M173.4 557.2h0M174.4 554.9h0M174.5 554.6h0M174.8 553.4h0M176.6 553.5h0M177.8 558.0h0M178.0 556.9h0M179.4 558.8h0M180.0 563.1h0M179.8 561.9h0M180.8 563.0h0M181.0 564.4h0M181.2 562.5h0M181.8 562.1h0M182.9 563.6h0M183.8 566.3h0M183.9 565.1h0M184.3 568.6h0M185.0 566.1h0M185.7 566.6h0M185.7 566.7h0M186.5 564.7h0M187.0 563.8h0M188.3 565.0h0M188.8 565.5h0M189.1 564.1h0M189.7 563.3h0M190.0 563.8h0M190.7 561.9h0M191.2 563.2h0M191.7 562.0h0M191.8 562.4h0M192.9 562.2h0M193.1 563.4h0M193.8 562.4h0M194.1 563.2h0M194.4 564.2h0M195.2 561.6h0M196.2 563.4h0M196.1 562.0h0M196.7 561.5h0M197.4 559.9h0M197.4 559.6h0M198.2 558.7h0M198.4 557.8h0M199.5 555.6h0M200.0 557.1h0M200.6 557.5h0M200.9 558.3h0M201.7 558.9h0M201.9 562.2h0M202.7 563.7h0M203.7 565.1h0M204.1 564.3h0M205.4 564.0h0M206.0 563.0h0M206.4 564.1h0M206.3 562.7h0M207.2 563.4h0M207.4 564.5h0M208.1 562.4h0M208.2 563.4h0M209.5 562.2h0M210.5 564.3h0M210.7 562.0h0M211.8 562.0h0M211.8 563.3h0M212.6 564.3h0M213.0 560.7h0M213.3 562.2h0M213.6 561.5h0M214.7 561.3h0M215.2 558.7h0M215.9 557.3h0M216.7 558.4h0M216.8 558.1h0M218.0 556.7h0M218.4 554.5h0M218.4 552.7h0M219.3 555.2h0M219.4 551.8h0M219.9 553.2h0M220.6 556.9h0M221.6 560.6h0M222.1 560.6h0M222.7 563.6h0M223.9 564.4h0M224.1 565.5h0M225.0 564.4h0M225.3 563.5h0M225.8 565.8h0M227.9 564.4h0M228.1 566.2h0M228.2 564.6h0M228.3 562.4h0M229.7 563.8h0M230.4 563.3h0M230.8 562.4h0M231.1 560.9h0M231.7 562.3h0M232.2 561.9h0M233.0 559.7h0M233.2 556.4h0M234.0 553.3h0M234.5 558.8h0M234.9 550.4h0M235.2 550.6h0M235.3 552.7h0M235.3 551.9h0M236.3 548.1h0M236.6 551.5h0M236.8 552.1h0M237.5 553.9h0M237.7 553.0h0M238.3 553.6h0M238.4 556.3h0M239.1 552.0h0M239.5 550.8h0M239.6 546.7h0M240.2 541.9h0M240.8 542.4h0M241.4 535.1h0M241.6 535.3h0M241.6 537.0h0M242.6 538.7h0M242.6 537.5h0M243.0 541.7h0M243.5 541.3h0M244.0 543.7h0M244.2 543.7h0M245.1 545.6h0M245.4 546.5h0M246.6 546.6h0M247.1 546.1h0M247.1 547.9h0M247.9 547.0h0M248.1 551.7h0M248.0 551.1h0M248.4 551.3h0M248.5 553.4h0M249.0 549.9h0M248.9 554.0h0M249.5 549.4h0M249.3 549.7h0M249.6 552.5h0M250.5 559.2h0M250.9 559.9h0M251.3 562.7h0M251.8 562.2h0M252.2 563.0h0M254.5 560.9h0M254.8 560.6h0M255.9 561.8h0" stroke="#666666" stroke-width="1.7" stroke-linecap="square" fill="none"/>
<path d="M39.9 555.9h0M39.5 555.1h0M40.2 556.5h0M40.2 558.9h0M40.8 556.6h0M40.8 559.1h0M41.2 557.1h0M41.2 555.2h0M41.6 554.5h0M42.1 555.8h0M42.8 554.9h0M43.2 552.0h0M42.8 556.2h0M43.4 557.7h0M43.7 553.8h0M44.5 551.1h0M44.6 550.0h0M45.1 550.9h0M45.9 550.7h0M46.3 552.8h0M46.7 555.8h0M46.7 549.7h0M47.4 554.7h0M47.5 554.6h0M47.9 556.1h0M47.8 555.6h0M48.5 557.9h0M48.4 556.7h0M48.8 558.5h0M49.5 558.0h0M49.8 556.1h0M50.2 561.7h0M50.1 561.7h0M50.8 563.2h0M51.0 558.0h0M51.0 565.0h0M51.5 563.5h0M51.4 561.8h0M52.0 561.8h0M52.0 566.0h0M52.0 566.4h0M52.4 565.2h0M52.8 561.8h0M53.0 566.1h0M53.8 568.4h0M53.9 565.1h0M54.1 567.1h0M53.8 565.5h0M54.5 565.2h0M54.6 563.4h0M54.7 564.1h0M55.4 565.7h0M55.4 566.1h0M56.0 564.9h0M56.6 561.7h0M56.7 563.2h0M57.4 562.1h0M57.4 562.4h0M57.9 561.7h0M58.8 561.1h0M58.8 559.2h0M59.1 557.7h0M59.9 557.2h0M60.3 558.4h0M60.9 553.7h0M61.0 555.6h0M61.5 554.9h0M62.1 550.1h0M62.4 553.9h0M62.6 553.8h0M63.0 548.1h0M63.4 547.4h0M63.3 549.9h0M63.8 546.8h0M63.8 545.3h0M64.4 547.1h0M64.7 546.9h0M64.9 544.2h0M64.6 547.3h0M65.4 544.9h0M65.7 546.4h0M66.0 544.1h0M66.1 545.7h0M66.5 545.9h0M67.1 548.8h0M67.3 548.5h0M67.8 550.9h0M67.8 547.9h0M68.5 548.5h0M68.9 550.8h0M69.1 546.2h0M69.3 549.5h0M70.2 551.3h0M70.2 549.9h0M70.3 549.8h0M70.7 551.1h0M71.3 553.2h0M71.6 551.0h0M72.1 551.9h0M72.8 551.8h0M73.1 552.7h0M73.6 553.2h0M73.7 550.9h0M74.4 550.7h0M74.9 554.2h0M75.0 552.6h0M75.4 550.6h0M75.9 549.9h0M76.6 551.2h0M77.3 551.2h0M77.5 549.5h0M77.5 553.5h0M78.1 551.9h0M78.5 550.8h0M79.0 554.3h0M79.1 553.5h0M79.9 553.4h0M79.8 552.9h0M80.8 550.6h0M80.7 553.1h0M81.4 552.7h0M82.0 552.9h0M82.8 552.1h0M83.2 552.8h0M83.3 549.8h0M84.2 549.9h0M84.6 548.3h0M85.6 547.6h0M86.0 548.1h0M86.5 547.1h0M86.7 550.5h0M87.0 546.1h0M87.4 547.0h0M88.0 545.6h0M88.3 546.9h0M88.5 547.3h0M89.1 547.2h0M89.6 554.4h0M89.8 552.2h0M90.2 552.3h0M90.7 555.1h0M90.3 555.7h0M90.8 554.6h0M90.7 555.5h0M91.7 556.2h0M91.4 560.9h0M92.2 554.2h0M92.3 560.1h0M92.2 558.4h0M92.6 555.6h0M92.9 559.2h0M92.6 561.2h0M93.6 558.7h0M93.9 562.5h0M94.5 561.8h0M94.8 560.6h0M95.1 560.8h0M95.1 561.2h0M96.0 562.6h0M95.9 562.4h0M96.6 562.4h0M97.0 557.6h0M97.6 556.9h0M97.8 558.3h0M98.2 557.4h0M98.5 558.7h0M98.8 558.8h0M99.6 557.6h0M99.7 556.8h0M100.0 555.9h0M100.8 554.9h0M100.9 553.4h0M101.7 557.0h0M102.5 554.4h0M102.8 552.7h0M103.4 553.6h0M103.6 554.2h0M104.1 552.5h0M104.7 552.9h0M105.2 551.7h0M105.8 553.8h0M106.2 554.0h0M107.0 551.5h0M107.5 550.1h0M107.4 549.2h0M108.3 551.0h0M108.0 549.8h0M108.7 548.2h0M108.2 551.1h0M108.8 546.5h0M109.4 548.3h0M109.6 549.0h0M110.2 549.3h0M110.6 550.5h0M111.1 550.7h0M111.6 553.2h0M111.8 551.1h0M112.2 549.8h0M113.1 553.0h0M113.6 553.4h0M113.9 553.3h0M114.6 555.5h0M114.9 557.3h0M115.3 558.8h0M115.8 559.7h0M116.5 562.9h0M116.5 560.2h0M117.4 560.9h0M118.1 562.9h0M118.7 562.7h0M118.9 560.8h0M119.3 562.3h0M119.7 562.4h0M120.4 560.1h0M120.5 560.4h0M121.0 562.7h0M121.5 559.9h0M121.6 561.3h0M122.3 558.3h0M123.0 555.4h0M123.4 555.3h0M123.8 553.2h0M124.0 552.6h0M124.5 552.3h0M125.1 548.9h0M125.8 553.4h0M125.3 552.5h0M125.6 548.0h0M126.3 550.2h0M126.3 547.7h0M126.3 547.6h0M127.3 546.5h0M127.7 551.6h0M127.7 549.8h0M127.7 547.9h0M128.4 548.4h0M128.8 551.1h0M129.2 547.4h0M129.5 551.3h0M129.5 547.7h0M129.8 548.5h0M130.7 546.7h0M130.9 548.8h0M131.5 549.5h0M131.9 549.1h0M132.1 553.6h0M132.5 549.6h0M133.2 552.6h0M133.3 550.3h0M133.6 553.3h0M134.0 553.6h0M134.5 549.4h0M135.3 548.5h0M135.3 548.7h0M136.1 552.8h0M136.3 548.5h0M136.7 552.6h0M137.0 550.4h0M138.3 551.9h0M138.8 552.9h0M139.1 550.8h0M139.6 551.6h0M140.1 551.0h0M140.4 553.9h0M140.8 552.0h0M141.3 551.7h0M141.8 551.7h0M142.1 554.9h0M142.5 552.2h0M142.9 553.7h0M143.0 555.0h0M143.4 556.3h0M144.0 554.4h0M144.4 558.2h0M145.0 555.8h0M145.4 557.4h0M146.1 561.3h0M146.0 558.5h0M146.1 563.1h0M147.0 563.7h0M147.6 563.4h0M147.9 562.0h0M148.5 565.0h0M149.3 565.1h0M149.8 564.0h0M149.8 566.5h0M150.7 567.2h0M151.1 566.5h0M151.6 566.6h0M152.2 564.4h0M152.7 565.9h0M152.7 566.0h0M153.2 563.4h0M154.1 564.5h0M154.4 562.5h0M154.2 565.4h0M155.1 567.3h0M155.1 566.2h0M155.6 565.9h0M156.2 564.6h0M157.2 563.5h0M157.4 567.2h0M157.7 565.8h0M158.6 568.3h0M158.8 570.3h0M159.4 567.6h0M159.9 568.1h0M159.9 569.0h0M160.2 568.4h0M160.5 569.1h0M162.3 567.3h0M162.6 568.8h0M162.8 569.5h0M163.1 566.4h0M164.0 568.1h0M164.3 569.3h0M165.0 566.2h0M165.5 566.5h0M166.2 567.5h0M166.6 568.8h0M167.3 567.1h0M167.7 563.6h0M168.3 567.0h0M169.1 562.8h0M169.2 564.4h0M169.7 561.3h0M170.5 563.2h0M170.9 561.5h0M170.6 564.2h0M171.2 560.1h0M171.5 560.0h0M172.0 560.8h0M172.2 561.9h0M172.3 557.6h0M172.4 564.7h0M172.8 561.0h0M172.6 562.5h0M173.6 564.9h0M174.0 559.7h0M173.5 562.9h0M174.3 559.6h0M174.2 559.5h0M174.9 561.1h0M174.4 557.2h0M175.0 563.8h0M174.9 564.7h0M175.5 561.4h0M175.7 562.3h0M175.7 561.8h0M176.2 560.2h0M176.0 561.5h0M176.2 559.3h0M176.3 556.5h0M176.6 563.4h0M176.9 560.3h0M177.3 564.1h0M177.2 559.3h0M177.7 561.1h0M177.8 561.6h0M177.8 560.7h0M178.5 560.9h0M179.1 560.6h0M179.4 564.2h0M179.8 562.9h0M180.0 562.8h0M180.6 566.3h0M182.1 565.8h0M182.3 566.3h0M182.5 568.2h0M183.5 567.3h0M183.6 566.1h0M183.9 567.7h0M184.6 568.3h0M185.2 568.6h0M185.3 567.1h0M186.1 567.4h0M186.4 567.1h0M186.8 569.3h0M187.0 568.0h0M187.5 564.2h0M188.2 564.8h0M189.1 567.7h0M189.2 567.0h0M189.8 563.5h0M190.5 566.6h0M191.1 565.3h0M191.0 567.0h0M191.4 565.3h0M192.2 564.1h0M192.6 564.1h0M192.8 565.1h0M193.4 566.1h0M193.5 562.2h0M194.0 566.2h0M194.6 566.0h0M195.1 566.2h0M195.3 564.7h0M196.2 564.5h0M196.6 561.3h0M196.7 564.3h0M197.4 562.1h0M198.0 561.9h0M198.2 561.9h0M198.9 560.8h0M199.3 561.3h0M199.5 558.8h0M199.6 562.6h0M200.0 561.4h0M200.2 561.9h0M200.9 560.0h0M200.8 563.4h0M201.6 562.9h0M202.3 561.5h0M202.7 563.8h0M203.0 564.1h0M203.5 567.2h0M204.3 564.8h0M205.0 564.6h0M205.2 566.8h0M205.7 566.6h0M205.9 564.2h0M206.3 565.6h0M207.2 565.5h0M207.2 564.4h0M208.1 566.9h0M208.4 565.9h0M208.9 563.1h0M209.5 565.6h0M209.6 565.3h0M210.3 567.6h0M210.5 563.6h0M211.4 563.0h0M211.3 564.8h0M212.3 562.2h0M212.7 567.9h0M213.1 565.8h0M213.5 563.7h0M213.9 566.8h0M214.4 566.5h0M214.4 563.8h0M215.0 565.9h0M215.6 560.6h0M215.9 563.3h0M216.1 563.8h0M217.1 561.8h0M216.6 562.0h0M217.4 559.9h0M217.4 561.4h0M217.8 562.9h0M217.9 561.3h0M218.4 562.8h0M219.0 555.4h0M218.8 557.9h0M218.9 558.0h0M219.2 556.3h0M219.2 560.1h0M219.8 559.2h0M220.1 557.2h0M220.1 558.2h0M220.9 561.7h0M221.0 560.0h0M221.5 564.4h0M222.2 564.1h0M222.2 565.8h0M222.9 568.3h0M223.1 565.9h0M223.5 564.2h0M223.7 565.4h0M224.6 566.6h0M225.1 568.6h0M225.2 568.3h0M226.0 567.9h0M226.4 569.2h0M226.7 564.6h0M226.9 568.0h0M227.6 568.5h0M228.3 565.7h0M228.6 567.0h0M229.0 566.8h0M229.5 565.9h0M229.6 566.1h0M230.0 564.5h0M230.7 564.3h0M231.2 562.4h0M231.9 562.0h0M232.2 562.0h0M232.7 561.1h0M233.1 564.4h0M233.4 558.4h0M233.9 557.2h0M233.5 557.1h0M234.1 561.5h0M234.9 563.4h0M234.5 552.4h0M235.2 556.4h0M235.2 552.1h0M235.6 556.1h0M235.5 556.9h0M236.1 552.8h0M235.9 554.3h0M235.8 554.1h0M236.6 555.7h0M236.7 554.1h0M236.6 554.6h0M237.1 555.1h0M237.5 558.8h0M237.2 552.8h0M237.8 557.0h0M238.0 556.5h0M239.0 554.5h0M238.9 559.5h0M239.5 551.3h0M239.5 553.7h0M240.5 550.3h0M240.4 547.0h0M241.0 546.0h0M241.0 543.9h0M241.3 541.2h0M241.5 540.2h0M241.6 542.1h0M242.4 543.8h0M242.4 542.5h0M242.5 549.2h0M243.0 550.2h0M243.3 545.0h0M244.0 551.7h0M243.7 551.2h0M243.6 554.1h0M243.9 549.2h0M243.7 546.4h0M244.2 546.7h0M244.6 550.4h0M244.8 548.9h0M244.8 553.3h0M245.4 551.6h0M245.3 546.4h0M245.7 554.5h0M245.5 549.3h0M246.3 556.7h0M246.2 549.1h0M246.7 554.0h0M246.8 554.1h0M246.7 553.6h0M247.2 549.1h0M247.6 551.5h0M247.7 552.4h0M248.2 550.6h0M247.9 555.0h0M248.8 552.6h0M248.5 552.4h0M248.9 552.1h0M249.1 558.3h0M249.5 556.2h0M249.1 558.4h0M250.1 557.1h0M249.9 556.6h0M250.5 563.1h0M250.8 564.5h0M251.0 566.1h0M251.3 561.5h0M251.5 565.4h0M251.8 564.5h0M252.1 567.2h0M252.9 566.9h0M253.4 564.9h0M253.8 565.7h0M253.9 566.1h0M254.8 561.8h0M255.1 562.3h0M255.7 560.9h0M256.0 564.4h0" stroke="#f53535" stroke-width="2.0" stroke-linecap="round" fill="none"/>
<path d="M39.4 560.2h0M39.9 562.4h0M40.8 558.9h0M40.7 562.4h0M41.7 559.4h0M41.3 559.8h0M42.0 562.8h0M42.1 562.8h0M42.7 558.7h0M42.7 559.9h0M43.2 558.6h0M43.3 561.2h0M44.0 560.3h0M44.2 560.3h0M44.6 559.0h0M44.8 557.0h0M44.9 561.0h0M45.5 556.5h0M46.1 557.4h0M46.6 560.7h0M46.7 557.5h0M47.5 559.4h0M47.5 559.5h0M48.0 558.7h0M48.4 564.7h0M48.9 561.7h0M49.3 560.7h0M49.9 562.1h0M49.8 562.5h0M50.4 566.2h0M50.7 566.5h0M50.8 563.9h0M51.3 563.1h0M51.4 566.2h0M51.7 565.1h0M52.4 567.6h0M52.4 568.0h0M52.8 568.4h0M53.1 568.6h0M53.3 569.0h0M53.6 572.0h0M54.0 571.3h0M54.3 569.2h0M54.4 567.9h0M55.0 569.5h0M55.0 568.3h0M55.4 568.5h0M56.1 563.4h0M56.7 563.3h0M57.2 563.7h0M57.1 563.4h0M57.8 564.7h0M57.8 560.6h0M58.8 560.7h0M59.1 562.1h0M59.1 564.3h0M59.8 557.7h0M60.5 558.9h0M60.7 561.6h0M61.2 557.0h0M61.1 558.6h0M61.3 555.6h0M61.8 556.5h0M61.8 556.1h0M62.4 555.8h0M62.8 553.1h0M63.3 552.6h0M63.7 554.6h0M64.0 549.8h0M64.5 550.8h0M64.6 547.9h0M66.3 550.7h0M66.5 552.0h0M67.0 550.6h0M67.4 549.6h0M67.7 552.7h0M68.3 552.5h0M68.9 552.0h0M68.9 553.6h0M69.3 553.6h0M69.9 555.8h0M70.3 551.6h0M71.1 554.8h0M71.2 556.7h0M71.6 552.3h0M72.2 556.5h0M72.4 556.8h0M73.0 557.2h0M73.5 553.3h0M74.1 557.7h0M74.1 557.4h0M74.2 557.3h0M74.6 554.8h0M75.1 555.9h0M75.5 558.6h0M76.1 556.1h0M76.1 561.5h0M76.7 559.0h0M76.7 556.5h0M77.1 560.1h0M77.0 557.7h0M77.5 559.2h0M77.7 560.4h0M78.5 559.6h0M78.2 560.1h0M78.5 556.3h0M79.4 560.3h0M78.9 560.1h0M79.9 560.2h0M80.2 557.4h0M80.2 556.7h0M80.7 555.7h0M80.8 557.3h0M81.1 558.3h0M81.5 556.9h0M81.8 557.1h0M82.1 557.5h0M82.9 555.8h0M83.4 553.5h0M83.4 555.1h0M84.0 553.8h0M84.7 552.6h0M84.6 553.4h0M85.1 553.6h0M85.5 553.7h0M85.6 554.8h0M86.2 552.4h0M86.6 552.1h0M87.0 552.9h0M87.7 553.5h0M88.0 552.2h0M88.0 551.2h0M88.6 554.5h0M89.0 555.8h0M89.7 555.1h0M89.9 559.8h0M90.5 555.8h0M91.2 563.0h0M91.5 559.3h0M91.4 564.1h0M91.5 562.6h0M91.5 565.7h0M92.2 565.9h0M92.2 563.5h0M92.3 563.3h0M92.9 561.3h0M92.9 561.7h0M93.2 565.0h0M93.6 565.0h0M94.5 567.5h0M94.7 561.5h0M95.0 566.1h0M95.6 564.7h0M95.6 565.6h0M96.0 567.2h0M96.2 563.9h0M96.9 565.4h0M97.0 562.4h0M97.7 561.3h0M98.1 559.6h0M98.4 563.0h0M98.3 559.4h0M99.0 563.0h0M99.3 562.1h0M99.5 560.5h0M100.4 557.7h0M100.3 556.6h0M101.3 560.5h0M101.4 560.9h0M101.8 556.5h0M102.5 556.4h0M102.9 557.3h0M103.4 558.1h0M103.6 559.0h0M104.4 558.7h0M104.8 558.4h0M104.7 556.5h0M105.1 557.4h0M106.0 557.6h0M106.1 553.8h0M106.8 553.0h0M107.2 557.0h0M107.5 552.3h0M107.7 555.8h0M107.8 555.5h0M108.8 553.0h0M108.9 552.3h0M109.4 554.6h0M109.6 555.4h0M110.1 551.8h0M110.0 553.8h0M110.8 554.0h0M111.0 552.4h0M111.3 554.5h0M112.3 554.8h0M112.5 553.6h0M112.4 556.4h0M112.9 559.4h0M113.3 555.7h0M113.5 555.0h0M113.3 555.8h0M114.0 557.6h0M114.6 561.0h0M114.4 561.8h0M114.9 562.8h0M115.3 563.6h0M116.1 563.6h0M116.0 563.6h0M116.6 564.5h0M117.1 564.0h0M117.6 565.4h0M118.2 564.6h0M118.6 567.6h0M118.9 566.0h0M119.1 563.3h0M120.0 565.0h0M120.4 563.2h0M120.7 565.8h0M121.3 561.9h0M121.7 566.2h0M121.7 561.6h0M122.8 559.3h0M123.5 562.6h0M123.4 560.0h0M124.0 557.9h0M124.7 560.0h0M124.4 555.3h0M124.8 558.0h0M125.3 554.9h0M125.7 556.2h0M125.7 555.7h0M126.3 558.7h0M126.0 554.1h0M126.9 553.2h0M126.4 556.1h0M126.9 557.3h0M127.4 557.2h0M128.0 555.1h0M128.6 558.0h0M128.2 554.5h0M129.0 558.3h0M129.2 558.8h0M129.4 557.6h0M129.6 555.5h0M129.9 553.7h0M130.6 555.1h0M130.9 554.2h0M131.1 552.8h0M131.3 553.3h0M131.8 557.4h0M132.3 551.1h0M132.7 552.9h0M133.1 558.3h0M133.5 552.7h0M133.6 553.6h0M133.9 554.2h0M134.3 554.0h0M134.5 556.0h0M135.2 553.9h0M135.6 551.7h0M136.1 556.0h0M135.8 552.4h0M136.4 553.1h0M136.8 556.3h0M137.4 554.7h0M137.6 556.6h0M138.0 552.4h0M138.5 557.1h0M138.8 556.5h0M138.9 557.3h0M139.2 556.0h0M139.8 557.9h0M140.2 555.6h0M140.6 555.4h0M141.0 558.1h0M141.5 556.4h0M142.2 555.2h0M142.7 559.7h0M143.3 556.4h0M143.3 557.0h0M143.1 555.2h0M143.6 556.8h0M144.1 560.3h0M144.4 559.9h0M144.4 563.7h0M144.8 563.1h0M145.5 564.8h0M146.1 561.3h0M146.1 560.1h0M146.4 563.3h0M146.8 565.3h0M147.6 564.7h0M148.0 565.6h0M148.4 563.3h0M148.6 567.0h0M148.9 566.6h0M149.3 564.6h0M150.1 565.8h0M150.3 569.4h0M150.5 567.3h0M151.6 568.0h0M152.2 566.5h0M152.4 568.6h0M152.9 567.8h0M153.6 569.4h0M154.0 567.8h0M154.4 570.2h0M154.1 568.1h0M154.8 565.5h0M155.2 569.5h0M156.0 567.1h0M156.4 569.2h0M156.5 569.3h0M157.3 569.0h0M157.3 571.1h0M158.3 569.1h0M158.3 569.3h0M159.1 571.3h0M159.2 571.7h0M159.6 573.0h0M159.6 570.3h0M160.6 572.4h0M161.0 570.6h0M160.9 571.0h0M161.4 570.7h0M162.0 570.9h0M162.4 571.7h0M162.8 568.2h0M163.3 571.6h0M163.8 570.8h0M164.5 570.6h0M164.9 567.4h0M165.1 568.9h0M165.9 570.7h0M166.3 568.6h0M166.5 567.8h0M167.3 566.0h0M167.6 569.8h0M167.3 567.5h0M168.1 568.6h0M168.3 569.2h0M169.0 567.9h0M169.6 569.0h0M169.5 565.3h0M170.5 569.2h0M170.6 563.5h0M171.0 567.7h0M171.6 564.4h0M171.8 565.3h0M172.4 565.0h0M172.8 567.4h0M173.3 564.6h0M173.8 566.1h0M174.1 563.1h0M174.8 566.6h0M175.0 567.4h0M175.6 566.7h0M175.9 563.8h0M176.5 562.3h0M176.5 563.2h0M176.5 566.1h0M176.5 563.5h0M177.1 565.7h0M177.4 566.9h0M177.9 565.4h0M178.4 566.9h0M178.7 564.4h0M179.4 569.2h0M180.0 566.9h0M180.1 565.6h0M180.7 565.5h0M180.9 567.1h0M181.7 568.1h0M182.3 566.8h0M182.7 570.2h0M183.7 569.5h0M184.1 571.4h0M184.7 570.0h0M185.0 570.5h0M185.4 571.8h0M186.9 572.0h0M187.5 570.8h0M188.0 567.0h0M188.8 569.7h0M189.1 567.2h0M189.2 567.3h0M189.7 568.2h0M190.1 567.9h0M191.0 566.5h0M191.2 565.6h0M191.5 568.7h0M191.7 566.0h0M192.4 569.5h0M192.7 566.9h0M193.3 568.3h0M193.6 569.8h0M194.0 566.3h0M194.9 569.7h0M194.9 568.5h0M195.2 567.6h0M196.0 567.2h0M196.1 565.9h0M196.8 568.0h0M197.0 566.6h0M198.0 564.9h0M198.2 566.7h0M198.4 563.6h0M199.3 566.4h0M198.9 567.9h0M199.7 565.6h0M199.5 564.0h0M200.0 568.1h0M200.5 568.3h0M200.9 567.4h0M201.6 564.3h0M202.1 567.0h0M202.7 565.8h0M203.1 566.0h0M203.0 568.0h0M203.3 565.7h0M203.7 570.9h0M204.4 569.1h0M204.7 567.9h0M205.4 570.0h0M205.7 567.6h0M206.0 567.8h0M206.4 570.7h0M206.7 572.0h0M206.8 568.0h0M207.5 568.3h0M207.4 572.4h0M207.8 566.4h0M208.2 570.3h0M208.5 568.5h0M209.1 570.1h0M209.4 567.5h0M209.8 571.2h0M210.2 567.5h0M210.4 570.3h0M210.9 569.2h0M211.0 570.2h0M211.6 568.7h0M212.0 571.7h0M212.5 568.0h0M212.9 570.4h0M213.6 570.9h0M213.9 568.0h0M214.3 565.5h0M214.9 566.9h0M215.3 566.3h0M214.8 570.4h0M215.4 570.4h0M215.7 566.1h0M216.6 564.8h0M216.7 563.1h0M217.0 566.5h0M217.4 565.0h0M218.1 568.8h0M218.5 564.2h0M218.6 568.1h0M219.0 563.4h0M218.9 566.1h0M219.4 563.1h0M219.8 565.5h0M220.1 566.6h0M220.8 567.9h0M220.9 565.8h0M221.7 569.7h0M222.1 569.4h0M222.8 570.5h0M222.9 569.7h0M223.8 570.3h0M223.9 570.8h0M224.7 569.7h0M224.7 570.8h0M225.5 569.9h0M225.7 569.3h0M225.9 570.6h0M226.5 567.7h0M227.3 570.8h0M227.9 570.0h0M228.1 568.9h0M228.6 570.5h0M229.1 568.8h0M229.3 571.2h0M229.9 567.1h0M230.6 569.3h0M230.8 568.8h0M231.4 570.2h0M231.5 565.7h0M232.1 566.6h0M232.2 568.3h0M232.7 567.7h0M233.6 567.6h0M233.6 565.2h0M234.3 567.3h0M234.2 564.9h0M234.8 564.0h0M235.2 566.6h0M235.7 563.7h0M236.1 562.1h0M236.4 562.9h0M236.9 561.7h0M237.4 559.4h0M238.1 563.4h0M237.5 563.6h0M238.2 562.4h0M238.6 561.1h0M238.6 562.7h0M239.6 561.8h0M240.1 555.7h0M240.4 560.0h0M241.0 557.1h0M241.4 556.8h0M241.6 556.2h0M242.0 557.8h0M242.3 557.6h0M242.5 555.8h0M243.4 558.5h0M243.9 559.2h0M243.5 554.8h0M243.8 557.0h0M244.0 561.2h0M244.3 557.9h0M244.9 560.1h0M245.4 559.3h0M245.5 560.8h0M246.1 564.2h0M246.3 564.2h0M246.8 567.2h0M247.3 563.8h0M247.9 563.1h0M248.4 564.4h0M248.6 565.4h0M248.8 569.6h0M249.3 570.6h0M249.6 569.6h0M250.5 570.4h0M251.0 569.5h0M251.3 569.1h0M251.4 571.1h0M251.8 566.3h0M252.0 566.6h0M252.9 568.2h0M253.3 565.6h0M253.6 564.8h0M253.6 565.6h0M254.3 570.8h0M254.8 564.8h0M254.2 567.3h0M254.9 569.1h0M255.5 569.5h0M256.1 565.7h0M256.1 571.0h0" stroke="#1f6fec" stroke-width="2.3" stroke-linecap="round" fill="none"/>
<path d="M310.0 527.3h0M310.5 525.2h0M310.7 528.8h0M311.5 524.5h0M311.9 521.7h0M312.9 519.9h0M313.3 519.3h0M313.8 520.0h0M314.2 517.8h0M315.1 519.5h0M315.8 525.7h0M316.4 524.6h0M316.8 523.7h0M317.1 527.1h0M317.5 527.3h0M317.7 532.6h0M318.4 534.9h0M319.5 536.0h0M319.6 535.9h0M320.1 540.7h0M320.6 541.1h0M321.1 544.0h0M321.6 547.3h0M322.1 549.0h0M323.0 550.2h0M324.2 549.6h0M325.0 549.0h0M325.4 542.3h0M326.2 541.5h0M326.5 540.4h0M327.0 531.9h0M327.5 536.0h0M328.0 528.4h0M328.2 532.5h0M328.1 531.6h0M328.6 532.2h0M328.9 524.3h0M329.9 527.3h0M330.4 520.8h0M330.3 517.9h0M331.1 512.0h0M331.2 519.0h0M332.0 512.2h0M332.3 508.6h0M332.7 507.6h0M333.2 504.9h0M333.5 503.8h0M333.8 504.7h0M334.4 492.4h0M335.1 496.2h0M335.4 486.5h0M335.5 491.5h0M336.2 484.0h0M336.5 484.8h0M337.3 481.5h0M337.6 483.5h0M338.3 476.7h0M337.9 482.5h0M338.6 482.1h0M339.0 482.9h0M339.1 478.1h0M339.6 484.0h0M340.1 489.5h0M340.1 490.4h0M341.0 498.6h0M341.4 500.8h0M341.1 505.7h0M341.7 503.6h0M342.4 508.5h0M342.7 508.7h0M343.2 509.1h0M343.8 512.7h0M344.1 510.3h0M344.6 508.1h0M345.0 512.8h0M345.2 510.6h0M345.8 512.6h0M346.3 514.1h0M346.4 514.7h0M346.5 519.2h0M347.0 514.8h0M347.7 523.4h0M348.3 519.9h0M348.7 525.7h0M349.0 524.5h0M349.2 522.9h0M349.7 533.6h0M349.9 526.3h0M350.7 525.8h0M350.9 524.9h0M351.5 521.3h0M352.2 522.7h0M352.3 519.4h0M352.8 516.7h0M353.2 516.4h0M353.4 519.1h0M354.1 512.5h0M354.3 513.8h0M355.0 509.9h0M355.4 504.1h0M355.7 502.6h0M356.4 503.3h0M356.4 500.0h0M356.6 506.7h0M356.8 496.2h0M357.1 496.2h0M357.5 488.9h0M357.4 496.1h0M357.7 492.8h0M358.4 496.4h0M358.7 493.2h0M358.6 487.6h0M358.9 487.0h0M359.3 488.5h0M359.0 489.7h0M360.0 502.8h0M360.5 499.6h0M360.8 507.9h0M361.0 509.7h0M361.5 514.8h0M362.1 519.1h0M362.2 524.4h0M362.4 522.7h0M363.1 526.6h0M363.8 533.9h0M364.5 535.7h0M365.8 541.3h0M366.7 538.0h0M366.7 533.3h0M367.6 534.3h0M367.8 527.4h0M368.1 530.3h0M368.5 519.2h0M369.3 519.4h0M369.4 518.3h0M369.5 523.8h0M370.0 518.8h0M370.3 510.9h0M370.6 514.8h0M371.0 513.9h0M371.5 517.8h0M371.4 515.0h0M371.7 515.0h0M372.1 521.0h0M372.7 517.4h0M372.9 516.9h0M373.5 516.7h0M373.6 520.1h0M374.4 514.1h0M374.5 523.7h0M375.1 516.0h0M375.3 521.1h0M375.8 523.1h0M375.7 515.0h0M376.2 515.7h0M376.6 522.1h0M377.6 521.7h0M377.7 521.2h0M378.3 520.2h0M378.7 517.2h0M378.9 515.7h0M379.6 521.2h0M380.0 524.4h0M380.7 521.9h0M381.1 517.9h0M381.5 519.3h0M381.6 526.3h0M382.1 522.8h0M382.9 529.7h0M383.4 530.0h0M383.4 526.9h0M383.9 529.9h0M384.4 538.7h0M385.0 539.9h0M385.6 535.6h0M385.9 536.9h0M386.2 540.8h0M386.5 542.1h0M387.0 543.9h0M387.4 540.0h0M388.7 546.2h0M389.2 544.9h0M389.5 547.8h0M389.9 547.2h0M392.0 543.2h0M392.6 541.0h0M393.0 540.1h0M393.9 537.4h0M394.8 535.3h0M394.8 541.1h0M395.4 536.5h0M395.9 529.1h0M396.3 532.3h0M396.7 530.1h0M397.4 526.1h0M397.8 522.9h0M398.2 523.7h0M398.7 524.8h0M399.0 518.1h0M399.7 515.0h0M399.8 518.1h0M400.4 516.3h0M400.7 515.4h0M400.5 518.4h0M401.0 505.8h0M401.9 511.1h0M402.3 509.1h0M402.7 514.2h0M402.4 509.9h0M403.1 513.8h0M403.3 513.5h0M404.2 507.1h0M404.3 505.6h0M404.6 508.5h0M404.8 510.6h0M405.1 509.7h0M405.8 511.5h0M406.0 511.5h0M406.5 502.6h0M407.3 508.6h0M407.6 507.6h0M407.8 507.7h0M408.0 507.7h0M408.7 510.9h0M409.0 508.5h0M409.6 503.2h0M410.2 506.8h0M410.7 509.1h0M410.4 508.1h0M411.2 500.7h0M411.0 500.5h0M410.8 502.7h0M411.7 498.8h0M412.1 505.5h0M412.5 501.0h0M412.3 501.6h0M412.8 504.7h0M413.6 504.5h0M413.5 513.0h0M414.4 514.4h0M414.9 519.1h0M415.2 520.6h0M415.5 521.8h0M416.1 523.4h0M416.1 525.9h0M416.3 523.0h0M417.1 526.7h0M417.5 523.5h0M418.3 530.0h0M418.6 533.8h0M419.4 535.6h0M419.6 537.5h0M420.3 540.2h0M421.1 542.7h0M421.5 545.9h0M421.9 541.9h0M422.3 548.0h0M422.6 547.4h0M423.6 547.7h0M424.1 548.3h0M424.4 551.6h0M425.0 551.9h0M425.2 549.8h0M425.7 555.9h0M426.0 547.4h0M426.8 550.7h0M427.7 554.4h0M427.8 552.8h0M428.1 553.1h0M428.5 554.9h0M429.3 553.2h0M430.3 553.2h0M430.6 554.4h0M431.0 554.7h0M431.3 554.8h0M431.9 552.0h0M432.5 555.4h0M432.6 552.8h0M433.0 551.8h0M433.4 549.8h0M433.9 552.1h0M435.2 554.2h0M435.3 554.1h0M435.8 551.2h0M436.7 554.4h0M436.8 553.5h0M438.2 550.9h0M438.3 552.7h0M439.0 548.9h0M439.3 551.9h0M439.7 551.3h0M440.1 548.9h0M440.3 547.9h0M441.1 551.0h0M441.8 545.8h0M442.2 546.4h0M442.6 539.5h0M442.9 541.2h0M443.4 542.6h0M443.9 540.6h0M444.0 543.5h0M444.7 539.2h0M445.0 540.9h0M445.6 531.1h0M446.0 542.5h0M446.2 531.0h0M446.3 535.4h0M446.7 528.6h0M447.2 536.9h0M446.9 531.7h0M447.8 538.3h0M447.3 530.1h0M447.7 536.7h0M448.6 529.5h0M448.6 530.4h0M448.8 532.8h0M449.6 532.2h0M449.9 533.4h0M450.5 534.9h0M450.9 535.8h0M451.9 541.0h0M452.4 541.0h0M452.4 544.3h0M452.9 547.2h0M453.1 541.7h0M453.6 547.5h0M454.5 549.9h0M455.4 551.3h0M455.8 552.8h0M455.9 551.8h0M456.2 552.2h0M456.9 553.1h0M457.2 555.5h0M457.8 556.1h0M458.9 552.7h0M459.3 555.3h0M459.8 555.5h0M460.2 551.4h0M461.4 550.0h0M462.2 553.2h0M462.4 553.3h0M463.0 547.9h0M463.5 546.1h0M463.8 544.1h0M464.1 544.0h0M466.5 535.9h0M466.5 539.6h0M467.0 541.1h0M467.7 542.1h0M467.9 542.4h0M468.8 545.3h0M468.9 547.0h0M469.2 548.1h0M469.8 544.2h0M470.9 544.7h0M470.9 545.0h0M471.9 542.8h0M472.0 538.3h0M472.2 542.8h0M473.1 541.1h0M473.1 539.1h0M474.1 538.9h0M474.7 542.3h0M475.0 546.2h0M475.5 544.2h0M475.8 541.8h0M477.5 544.5h0M477.5 548.7h0M478.6 549.3h0M479.5 551.7h0M480.2 553.3h0M480.9 550.6h0M480.9 550.3h0M481.5 551.9h0M482.0 553.8h0M482.7 551.1h0M483.1 553.2h0M483.6 553.3h0M483.5 550.2h0M484.1 554.5h0M484.6 551.7h0M486.4 554.4h0M486.9 551.2h0M487.5 552.3h0M488.1 555.8h0M488.5 553.0h0M488.7 551.6h0M489.2 550.6h0M489.8 554.2h0M490.1 554.9h0M491.2 556.4h0M491.3 552.7h0M492.0 554.3h0M493.1 553.6h0M493.9 554.9h0M494.8 552.7h0M495.8 552.9h0M496.1 553.3h0M496.5 552.9h0M496.9 552.5h0M497.5 556.3h0M497.9 554.6h0M498.2 557.1h0M498.7 555.6h0M499.0 554.8h0M499.8 551.9h0M500.1 549.9h0M500.6 549.1h0M500.9 550.2h0M501.2 548.2h0M501.8 546.0h0M502.6 545.1h0M502.6 542.0h0M503.2 538.3h0M503.7 540.1h0M504.2 541.4h0M504.8 534.9h0M505.1 537.6h0M505.5 532.8h0M505.8 527.8h0M506.2 524.9h0M506.4 533.3h0M506.5 527.7h0M506.9 524.0h0M507.3 526.0h0M507.2 528.1h0M507.3 527.9h0M507.7 529.0h0M507.7 525.0h0M508.0 521.2h0M508.6 524.4h0M508.5 529.0h0M509.3 520.9h0M509.4 524.6h0M510.2 522.7h0M510.2 523.9h0M510.6 520.2h0M511.3 527.1h0M511.9 525.6h0M512.3 521.7h0M512.2 523.5h0M512.4 526.6h0M512.9 520.3h0M513.2 518.5h0M513.8 524.7h0M514.1 515.8h0M514.5 516.0h0M514.8 520.2h0M514.9 513.9h0M515.7 518.0h0M515.9 519.5h0M516.2 520.0h0M516.3 522.3h0M516.9 522.1h0M517.6 520.8h0M517.7 529.4h0M518.6 533.4h0M519.1 531.6h0M519.5 536.3h0M519.5 536.4h0M520.0 537.5h0M520.6 542.5h0M521.0 542.4h0M521.7 547.1h0M522.5 547.4h0M522.8 549.4h0M523.6 550.3h0M524.1 551.6h0M524.7 553.5h0M524.5 554.3h0M525.1 550.2h0M525.5 553.1h0M526.5 551.5h0M526.7 548.2h0M528.1 548.3h0M528.4 544.2h0M529.0 546.8h0M529.0 544.1h0" stroke="#666666" stroke-width="1.7" stroke-linecap="square" fill="none"/>
<path d="M310.2 531.9h0M310.4 529.4h0M311.1 537.2h0M311.2 536.1h0M311.5 534.5h0M311.9 529.7h0M312.3 530.6h0M312.5 531.8h0M313.2 527.8h0M313.0 535.0h0M313.6 525.8h0M313.8 532.9h0M314.2 523.6h0M315.1 527.2h0M314.9 530.5h0M315.5 534.2h0M315.7 531.6h0M315.9 528.9h0M316.4 530.4h0M316.4 533.3h0M316.8 531.2h0M316.5 535.6h0M316.9 536.3h0M317.1 537.2h0M317.2 537.7h0M317.2 541.3h0M317.7 540.4h0M317.8 534.1h0M318.2 542.1h0M318.1 537.0h0M318.7 545.5h0M319.1 541.8h0M319.4 544.8h0M319.9 546.8h0M319.4 541.9h0M319.8 545.7h0M320.8 550.6h0M320.3 543.0h0M320.9 553.1h0M320.8 544.2h0M321.6 545.0h0M321.7 549.0h0M321.6 554.5h0M322.0 556.4h0M322.1 553.7h0M322.7 553.8h0M323.0 553.7h0M323.1 553.6h0M323.5 558.1h0M323.5 559.5h0M323.7 558.9h0M324.0 558.8h0M324.4 560.8h0M324.4 552.8h0M325.1 557.4h0M325.0 555.7h0M325.0 554.9h0M325.9 556.0h0M325.7 552.8h0M326.0 551.3h0M326.4 553.7h0M326.7 543.0h0M326.9 545.8h0M326.9 543.3h0M327.2 545.3h0M327.5 541.8h0M328.2 547.3h0M328.1 543.3h0M328.2 538.6h0M328.2 533.8h0M328.6 543.1h0M328.5 533.6h0M329.2 542.9h0M329.2 531.1h0M329.8 533.9h0M329.7 531.1h0M329.9 536.5h0M330.0 525.7h0M330.8 532.8h0M330.8 527.1h0M331.0 523.8h0M331.2 524.6h0M331.4 520.8h0M331.3 526.1h0M332.1 520.3h0M331.7 524.0h0M332.0 515.8h0M332.3 517.7h0M332.4 514.9h0M333.1 519.1h0M333.1 517.4h0M333.8 516.9h0M333.5 509.9h0M334.2 511.5h0M334.1 513.8h0M334.7 516.7h0M334.4 510.4h0M335.0 512.0h0M335.2 502.9h0M335.4 511.3h0M335.3 508.0h0M336.0 509.7h0M336.4 503.0h0M336.5 501.5h0M336.7 505.2h0M336.8 502.2h0M336.8 505.4h0M337.5 501.1h0M337.8 497.4h0M338.1 502.6h0M337.9 503.2h0M338.7 509.7h0M338.6 506.0h0M338.9 502.6h0M339.2 509.6h0M339.3 509.4h0M339.5 511.4h0M339.8 509.9h0M339.8 510.9h0M340.0 514.1h0M340.2 513.7h0M340.6 504.1h0M340.9 510.2h0M341.2 517.8h0M341.1 515.2h0M341.1 511.1h0M341.3 512.4h0M341.7 516.4h0M341.7 516.9h0M341.9 513.7h0M342.3 519.1h0M342.3 517.3h0M342.6 510.2h0M342.9 522.0h0M343.1 512.7h0M343.7 520.8h0M343.8 515.9h0M344.1 523.1h0M344.3 517.1h0M344.5 523.5h0M344.3 521.4h0M344.9 514.0h0M345.0 519.7h0M345.4 521.6h0M345.3 523.6h0M346.1 525.4h0M345.6 527.1h0M346.4 519.4h0M346.3 517.5h0M346.0 523.8h0M346.6 521.7h0M346.8 520.5h0M347.2 521.9h0M347.1 528.5h0M347.8 526.8h0M347.7 525.7h0M348.1 530.2h0M347.8 526.5h0M348.5 531.8h0M349.0 536.6h0M349.2 534.6h0M349.4 536.8h0M349.9 537.0h0M350.2 540.2h0M350.5 535.1h0M351.2 531.7h0M351.0 535.8h0M351.4 528.1h0M351.8 531.9h0M351.9 527.7h0M352.6 529.6h0M352.9 527.0h0M353.4 520.3h0M353.5 516.8h0M353.9 521.6h0M354.3 520.9h0M354.7 516.6h0M354.9 523.3h0M355.0 521.3h0M355.5 517.0h0M356.1 518.4h0M356.3 516.9h0M356.3 519.4h0M356.8 512.9h0M356.9 512.9h0M357.2 512.0h0M357.8 508.7h0M357.9 507.5h0M358.2 509.1h0M358.3 514.8h0M358.3 512.6h0M358.7 514.2h0M359.1 514.8h0M359.4 517.7h0M359.8 520.1h0M359.9 520.0h0M360.4 521.7h0M360.1 524.4h0M360.4 525.1h0M360.7 527.3h0M361.1 526.3h0M361.0 525.9h0M361.3 523.5h0M361.3 526.4h0M362.2 533.4h0M362.2 525.9h0M361.9 531.7h0M362.8 530.7h0M362.8 534.5h0M363.3 532.7h0M363.0 534.8h0M363.8 536.6h0M363.8 534.1h0M364.4 534.5h0M365.2 538.4h0M365.4 542.9h0M365.5 543.1h0M366.2 550.4h0M366.7 544.7h0M367.1 540.0h0M367.5 541.2h0M368.0 535.1h0M368.0 536.9h0M368.6 536.5h0M369.2 530.9h0M369.8 532.2h0M369.7 527.2h0M369.8 532.1h0M370.2 527.6h0M370.9 528.3h0M370.5 531.3h0M370.9 526.5h0M371.6 529.7h0M372.2 530.3h0M372.7 533.0h0M372.9 526.4h0M373.6 529.9h0M373.9 533.4h0M374.0 527.2h0M374.3 531.2h0M374.7 528.4h0M374.9 534.4h0M375.1 525.9h0M375.4 532.2h0M375.8 525.3h0M376.1 527.7h0M376.4 532.7h0M377.0 530.2h0M377.1 529.3h0M377.6 527.4h0M377.1 528.1h0M377.5 528.1h0M378.3 531.8h0M378.4 529.0h0M378.7 529.6h0M379.2 524.4h0M379.4 533.6h0M380.3 527.0h0M380.1 528.8h0M380.6 526.2h0M380.6 524.8h0M381.1 528.8h0M381.1 536.3h0M381.4 535.0h0M381.8 529.5h0M382.2 536.8h0M382.1 536.0h0M382.8 535.8h0M382.7 539.2h0M383.0 535.4h0M383.5 536.4h0M383.5 536.2h0M384.2 535.3h0M383.9 542.9h0M384.4 537.9h0M385.0 537.8h0M385.2 542.2h0M385.4 539.7h0M385.8 547.0h0M385.5 543.9h0M386.1 543.3h0M386.5 547.6h0M386.8 544.9h0M387.0 545.3h0M387.4 546.2h0M388.3 551.8h0M388.2 550.4h0M388.3 550.9h0M388.7 550.5h0M389.0 551.2h0M389.7 547.6h0M390.1 553.6h0M390.0 549.9h0M390.9 551.0h0M390.3 551.6h0M391.2 549.6h0M391.5 553.4h0M392.0 547.3h0M392.3 542.1h0M393.0 546.4h0M393.3 550.5h0M394.0 543.2h0M393.8 541.4h0M394.4 545.8h0M394.6 541.5h0M395.4 538.0h0M395.2 541.8h0M395.9 537.1h0M396.6 538.6h0M396.8 541.1h0M396.7 534.4h0M397.2 532.9h0M397.4 536.4h0M397.5 531.8h0M398.2 530.9h0M398.0 527.4h0M398.9 527.9h0M398.8 526.8h0M399.5 522.4h0M399.9 519.1h0M400.3 528.0h0M400.2 524.0h0M401.1 519.4h0M401.0 521.0h0M401.2 518.4h0M401.9 522.0h0M402.1 522.5h0M402.3 521.8h0M402.4 519.5h0M402.5 520.9h0M402.9 522.2h0M403.3 523.5h0M403.3 517.8h0M403.8 527.2h0M403.7 521.6h0M404.3 517.6h0M404.6 523.2h0M404.7 519.7h0M405.1 521.6h0M405.1 523.5h0M405.7 521.3h0M405.6 519.3h0M406.0 516.5h0M406.6 519.4h0M407.3 520.2h0M407.2 517.1h0M407.2 517.2h0M407.9 523.0h0M407.8 514.1h0M408.3 518.0h0M409.0 516.2h0M408.7 514.8h0M409.3 512.0h0M409.5 516.6h0M410.0 514.5h0M410.0 515.7h0M410.1 514.2h0M410.4 511.3h0M410.6 514.0h0M411.1 517.0h0M411.0 516.2h0M410.9 518.9h0M411.7 513.7h0M412.1 515.1h0M411.7 520.1h0M412.2 516.6h0M412.4 523.7h0M412.7 518.9h0M413.0 521.2h0M413.3 515.5h0M413.9 521.1h0M414.1 521.0h0M414.7 528.3h0M414.8 524.8h0M415.0 528.3h0M415.1 526.7h0M415.6 531.1h0M415.7 527.4h0M416.0 529.9h0M415.7 524.6h0M416.0 534.9h0M416.9 531.3h0M416.8 534.7h0M417.5 529.7h0M417.4 532.6h0M417.4 537.6h0M417.9 535.7h0M418.5 540.7h0M418.5 543.3h0M419.2 537.0h0M419.4 546.0h0M419.8 543.1h0M420.6 549.7h0M421.1 550.0h0M421.3 552.3h0M421.0 551.0h0M421.7 547.0h0M422.0 548.0h0M422.3 554.1h0M422.6 554.8h0M422.7 557.0h0M423.3 555.3h0M423.5 555.0h0M424.0 557.3h0M424.6 557.5h0M425.4 556.8h0M425.6 556.3h0M425.8 558.2h0M426.6 556.0h0M427.1 558.9h0M427.4 555.4h0M428.1 558.9h0M428.2 558.9h0M428.8 559.5h0M429.5 559.5h0M429.9 554.9h0M430.3 557.2h0M430.3 560.4h0M430.7 561.2h0M431.6 554.6h0M431.7 558.1h0M432.3 559.5h0M433.0 559.3h0M433.4 553.9h0M433.5 559.2h0M433.8 554.4h0M434.3 559.5h0M434.8 557.9h0M435.0 560.6h0M435.7 553.6h0M436.1 556.3h0M436.4 559.9h0M437.0 560.2h0M437.5 556.0h0M437.0 558.7h0M437.5 558.9h0M437.9 557.3h0M438.6 559.6h0M438.8 556.1h0M438.7 550.8h0M439.2 554.9h0M440.0 552.8h0M439.9 555.9h0M440.5 551.3h0M440.4 549.2h0M440.5 551.0h0M440.8 549.4h0M441.3 555.5h0M441.8 553.1h0M441.8 546.4h0M442.3 545.7h0M442.4 547.0h0M443.1 548.6h0M442.7 543.9h0M443.4 540.4h0M443.2 548.4h0M443.5 539.7h0M443.7 542.5h0M444.2 544.4h0M444.5 549.3h0M444.7 545.3h0M444.6 542.5h0M445.0 544.4h0M445.2 543.7h0M445.2 546.6h0M445.4 538.4h0M445.9 545.3h0M446.3 541.9h0M446.2 541.8h0M446.5 535.5h0M446.3 542.6h0M446.6 544.6h0M447.2 536.9h0M446.7 530.5h0M447.1 540.4h0M447.1 544.3h0M447.3 534.4h0M447.5 533.9h0M447.4 533.5h0M447.9 544.3h0M447.8 547.1h0M448.5 540.1h0M448.7 534.4h0M449.1 543.7h0M448.9 547.8h0M449.6 544.0h0M449.2 548.4h0M449.5 544.6h0M449.6 537.6h0M450.2 545.5h0M450.1 542.7h0M450.7 548.5h0M450.9 547.1h0M451.5 550.2h0M451.8 544.5h0M451.8 546.1h0M452.5 552.7h0M452.6 552.3h0M453.5 547.8h0M453.8 548.0h0M453.9 551.9h0M454.4 553.5h0M454.6 550.3h0M455.2 554.1h0M455.8 554.9h0M455.6 552.9h0M455.8 553.3h0M456.3 555.2h0M456.7 559.5h0M457.4 558.3h0M457.6 558.8h0M458.0 561.6h0M458.6 557.4h0M458.8 553.5h0M459.3 553.2h0M460.1 556.3h0M460.3 557.1h0M461.0 556.8h0M461.4 552.8h0M461.8 556.4h0M462.1 556.0h0M462.3 556.6h0M463.1 553.4h0M463.7 550.6h0M463.9 546.6h0M464.5 546.9h0M465.0 547.3h0M465.5 538.8h0M465.6 543.7h0M466.0 540.1h0M466.4 546.1h0M466.2 538.0h0M466.6 546.8h0M466.5 541.8h0M467.5 542.6h0M467.9 547.7h0M468.0 551.5h0M468.4 549.1h0M469.1 553.0h0M469.7 550.9h0M470.4 549.7h0M470.9 550.3h0M471.3 546.8h0M471.6 547.6h0M472.6 544.1h0M473.1 544.8h0M473.0 546.7h0M473.4 544.8h0M474.1 542.6h0M474.5 544.0h0M475.1 546.0h0M475.2 551.5h0M475.7 551.0h0M476.5 550.9h0M476.6 552.3h0M477.0 550.4h0M477.5 555.2h0M478.2 551.6h0M478.1 551.6h0M479.0 550.9h0M479.3 556.3h0M479.6 554.9h0M479.8 556.9h0M479.7 553.2h0M480.2 554.6h0M480.6 558.2h0M481.4 551.1h0M481.0 554.8h0M481.8 556.1h0M481.9 558.0h0M482.2 553.0h0M482.6 560.3h0M482.8 558.4h0M483.6 558.2h0M483.5 555.6h0M483.9 552.8h0M483.7 556.3h0M484.3 552.8h0M484.7 558.7h0M484.9 558.6h0M485.3 559.2h0M486.1 559.5h0M486.6 553.3h0M486.7 555.0h0M487.4 556.5h0M488.0 557.0h0M488.3 562.0h0M488.8 558.4h0M489.1 558.4h0M489.4 559.3h0M489.9 557.3h0M490.3 560.9h0M491.1 559.6h0M491.7 560.6h0M491.8 558.1h0M492.1 563.7h0M492.6 560.7h0M493.2 563.3h0M493.5 559.0h0M494.5 557.0h0M495.0 562.1h0M495.6 562.4h0M495.6 557.8h0M496.4 561.5h0M496.8 559.7h0M497.5 559.6h0M497.7 561.4h0M497.9 559.2h0M498.4 558.4h0M498.8 560.7h0M499.1 557.6h0M499.6 552.7h0M499.9 549.6h0M500.8 543.5h0M500.7 540.2h0M501.2 540.1h0M502.1 540.7h0M502.1 540.4h0M502.5 535.9h0M503.0 540.1h0M503.4 540.1h0M504.3 535.9h0M504.0 536.2h0M504.4 540.8h0M504.6 542.1h0M505.0 542.5h0M505.3 539.1h0M505.3 538.4h0M505.9 536.9h0M506.2 536.6h0M506.5 535.8h0M506.9 537.9h0M506.8 535.7h0M507.4 534.6h0M507.4 529.6h0M507.2 531.3h0M507.3 540.5h0M507.5 539.8h0M508.0 536.5h0M507.6 541.5h0M508.2 539.8h0M508.4 534.5h0M508.9 535.4h0M508.4 533.6h0M509.1 531.6h0M509.3 536.5h0M509.5 532.2h0M509.3 533.3h0M510.2 538.5h0M510.1 542.7h0M510.4 535.5h0M510.5 538.3h0M511.2 539.0h0M511.2 537.6h0M511.6 530.2h0M511.6 531.5h0M512.0 536.9h0M511.9 531.2h0M512.5 537.4h0M512.3 540.2h0M512.4 528.7h0M512.6 532.1h0M512.7 531.8h0M512.5 536.3h0M513.5 533.1h0M513.3 526.9h0M514.0 528.8h0M513.4 536.9h0M514.4 533.7h0M514.3 528.9h0M514.3 534.7h0M514.5 522.5h0M514.7 523.1h0M515.2 524.0h0M514.8 530.2h0M515.6 532.1h0M515.6 531.0h0M515.5 524.3h0M515.4 526.0h0M516.3 525.5h0M516.1 521.1h0M516.4 528.7h0M516.5 528.7h0M516.8 531.9h0M516.7 530.3h0M517.4 528.8h0M517.6 534.7h0M517.7 532.4h0M517.7 532.2h0M518.2 539.7h0M518.5 534.0h0M519.0 542.9h0M519.1 537.8h0M519.7 542.9h0M520.1 548.6h0M520.0 543.0h0M520.8 547.9h0M520.8 546.1h0M521.3 548.4h0M521.6 548.3h0M522.1 555.6h0M522.9 552.5h0M523.5 552.2h0M523.9 551.0h0M524.1 552.6h0M524.7 554.0h0M525.0 555.1h0M525.1 556.6h0M525.4 553.1h0M525.8 554.4h0M526.4 550.0h0M526.9 551.1h0M527.3 553.3h0M527.6 555.7h0M528.4 549.0h0M528.5 547.4h0M529.0 551.3h0M529.7 550.2h0" stroke="#f53535" stroke-width="2.0" stroke-linecap="round" fill="none"/>
<path d="M309.8 544.7h0M310.0 544.8h0M310.6 546.4h0M310.3 540.5h0M310.8 553.2h0M310.6 547.4h0M311.4 543.8h0M311.1 545.5h0M311.7 544.2h0M311.8 542.2h0M312.4 543.4h0M312.2 550.7h0M312.7 543.1h0M312.9 543.7h0M313.1 543.8h0M312.8 540.2h0M313.4 543.1h0M313.3 542.3h0M313.9 549.7h0M313.8 545.8h0M314.2 543.7h0M314.6 540.5h0M314.8 541.6h0M314.9 546.0h0M315.1 547.5h0M315.1 545.8h0M315.5 547.2h0M315.7 549.0h0M315.9 548.1h0M316.7 545.4h0M316.4 546.6h0M317.3 553.1h0M317.3 547.4h0M317.2 547.1h0M317.6 551.0h0M317.8 547.1h0M318.1 544.3h0M319.0 547.6h0M319.3 547.1h0M319.6 546.0h0M319.4 548.4h0M319.8 549.1h0M320.7 555.7h0M320.7 553.4h0M320.9 552.1h0M321.4 554.9h0M321.6 552.3h0M322.6 557.7h0M322.2 554.1h0M323.0 562.0h0M323.2 559.8h0M323.5 560.1h0M323.9 562.5h0M323.9 559.1h0M324.1 560.4h0M324.3 564.5h0M324.8 555.6h0M325.0 560.2h0M325.6 549.1h0M325.7 555.0h0M326.0 552.7h0M326.0 555.8h0M326.7 546.1h0M326.7 548.6h0M326.4 556.4h0M327.2 553.3h0M326.9 555.1h0M327.6 545.5h0M327.6 548.2h0M328.1 546.2h0M327.8 551.0h0M327.6 552.3h0M328.0 538.1h0M328.1 547.5h0M329.0 534.4h0M328.5 538.8h0M328.9 541.0h0M329.1 539.7h0M329.3 539.6h0M329.5 543.5h0M329.7 539.6h0M330.1 533.4h0M330.2 540.5h0M330.3 538.5h0M330.7 537.2h0M330.8 536.1h0M331.3 535.5h0M331.0 528.4h0M331.3 522.3h0M331.6 532.7h0M331.7 528.7h0M331.6 532.6h0M332.3 525.5h0M331.9 529.7h0M332.6 530.3h0M332.7 527.4h0M333.3 521.0h0M333.1 525.7h0M333.4 526.8h0M333.4 522.0h0M334.1 525.5h0M333.8 521.9h0M334.1 517.8h0M334.7 526.7h0M335.0 527.1h0M335.0 519.5h0M335.3 514.3h0M335.0 519.8h0M335.8 520.1h0M335.7 526.6h0M336.2 523.5h0M336.4 520.3h0M336.9 522.0h0M336.9 517.0h0M336.9 521.7h0M336.9 512.4h0M337.2 512.9h0M337.4 515.5h0M337.8 511.3h0M337.7 522.5h0M337.9 518.2h0M338.5 524.8h0M338.2 519.6h0M338.9 515.1h0M339.0 517.4h0M339.1 517.8h0M339.5 518.4h0M339.8 520.5h0M339.6 525.5h0M340.3 519.0h0M340.3 520.9h0M340.9 517.4h0M340.9 516.8h0M341.4 524.6h0M341.1 522.2h0M341.0 522.3h0M341.4 521.5h0M341.7 527.7h0M341.6 530.3h0M342.0 520.9h0M342.2 530.0h0M342.9 522.7h0M342.8 525.1h0M343.0 523.0h0M343.4 532.7h0M343.4 528.6h0M344.0 526.7h0M344.2 526.2h0M344.6 532.9h0M345.2 535.4h0M344.6 529.1h0M345.4 536.4h0M345.8 536.9h0M346.0 530.7h0M346.2 529.6h0M346.2 537.6h0M346.3 537.9h0M346.8 530.4h0M346.9 540.1h0M347.3 534.0h0M347.6 536.4h0M347.9 542.2h0M347.9 542.5h0M347.9 543.8h0M348.6 548.4h0M349.0 546.5h0M348.8 546.9h0M349.7 542.8h0M349.3 541.0h0M349.8 540.6h0M350.1 551.4h0M350.4 544.9h0M350.2 550.1h0M350.5 540.1h0M350.4 545.1h0M351.4 543.0h0M351.1 538.6h0M351.6 536.6h0M351.4 544.4h0M352.2 541.8h0M352.3 537.5h0M352.2 533.1h0M352.9 528.7h0M353.6 530.4h0M353.5 534.2h0M353.9 523.0h0M354.5 524.2h0M355.0 531.5h0M355.3 525.4h0M355.4 532.4h0M355.5 527.4h0M356.5 530.7h0M356.5 529.3h0M356.5 526.2h0M357.2 533.9h0M357.3 525.4h0M357.3 524.0h0M358.2 529.0h0M358.6 525.8h0M358.5 530.1h0M359.1 527.6h0M359.3 531.1h0M359.8 525.8h0M360.5 530.3h0M360.9 534.5h0M361.1 533.9h0M361.6 531.3h0M361.8 541.1h0M362.5 541.8h0M362.3 534.8h0M362.5 537.2h0M362.9 538.8h0M363.6 546.8h0M364.2 545.9h0M363.8 545.0h0M364.5 546.3h0M364.7 545.2h0M364.8 546.2h0M364.7 545.9h0M365.2 545.4h0M366.0 551.8h0M365.9 550.9h0M366.4 550.6h0M367.0 549.2h0M367.1 546.3h0M367.4 547.6h0M367.7 544.1h0M367.9 543.1h0M368.4 547.6h0M368.7 544.6h0M369.3 537.3h0M369.3 538.9h0M369.7 541.1h0M370.0 541.5h0M370.0 543.2h0M370.6 539.6h0M370.6 536.3h0M371.3 539.6h0M371.9 540.8h0M372.2 539.1h0M372.3 541.4h0M372.8 541.5h0M372.8 537.4h0M373.6 538.5h0M373.8 541.8h0M374.3 542.9h0M374.7 539.8h0M375.0 542.4h0M375.7 541.1h0M376.2 538.2h0M376.7 537.1h0M376.9 543.0h0M376.9 543.6h0M377.1 543.5h0M378.1 543.1h0M378.1 536.3h0M378.9 539.4h0M379.4 541.1h0M379.4 539.4h0M380.3 545.5h0M380.7 540.1h0M380.3 539.1h0M381.1 539.5h0M381.6 539.6h0M381.8 543.9h0M381.6 545.7h0M382.2 543.9h0M382.9 544.5h0M383.3 546.2h0M383.8 544.2h0M384.1 547.1h0M384.0 543.9h0M384.3 550.0h0M384.9 546.0h0M385.2 543.7h0M385.3 548.9h0M385.6 547.6h0M385.6 548.3h0M386.2 552.1h0M386.5 552.1h0M386.5 550.0h0M386.9 546.5h0M387.2 547.1h0M387.2 550.3h0M387.5 549.3h0M387.8 554.5h0M387.7 555.0h0M388.4 550.3h0M388.7 554.6h0M389.2 556.5h0M389.1 554.1h0M389.7 552.3h0M390.4 554.7h0M390.4 555.3h0M390.3 558.5h0M391.2 559.6h0M391.4 550.6h0M391.7 553.8h0M391.6 554.8h0M391.7 550.8h0M392.5 549.7h0M392.2 552.5h0M392.6 554.3h0M392.8 549.5h0M393.4 558.3h0M393.2 551.0h0M394.0 551.7h0M393.6 549.5h0M394.4 551.5h0M394.2 554.9h0M394.8 557.2h0M394.4 552.0h0M395.1 548.0h0M395.3 546.0h0M395.8 546.8h0M395.8 557.6h0M396.0 554.2h0M395.7 547.3h0M396.4 546.6h0M396.4 543.3h0M396.8 553.4h0M397.0 541.8h0M397.4 540.3h0M397.0 549.1h0M397.4 549.5h0M397.6 548.3h0M398.3 543.0h0M398.0 545.0h0M398.7 535.4h0M399.3 542.0h0M399.7 538.7h0M399.8 540.6h0M400.1 530.4h0M399.8 533.4h0M400.5 537.2h0M400.5 532.8h0M401.1 532.1h0M401.4 529.7h0M401.1 535.5h0M401.9 529.6h0M401.6 537.9h0M402.3 531.0h0M401.8 530.8h0M402.4 529.0h0M402.8 527.6h0M403.5 530.7h0M403.8 537.1h0M404.0 536.4h0M404.1 531.5h0M404.3 530.4h0M404.7 529.3h0M404.6 529.5h0M405.3 527.5h0M405.9 533.0h0M405.7 532.3h0M406.3 532.4h0M406.1 526.9h0M406.8 530.7h0M406.9 528.9h0M407.2 533.8h0M407.7 524.1h0M407.7 532.5h0M407.8 527.5h0M408.1 524.3h0M408.3 525.1h0M408.5 528.5h0M409.2 532.1h0M409.3 527.1h0M409.8 530.7h0M410.4 530.7h0M410.6 520.7h0M410.7 531.7h0M411.2 522.3h0M411.0 526.2h0M411.7 526.4h0M412.0 528.0h0M412.1 525.7h0M412.3 532.3h0M412.6 531.4h0M412.8 526.2h0M412.6 534.9h0M413.1 531.7h0M413.4 533.3h0M413.5 536.9h0M413.6 528.1h0M414.0 532.0h0M414.5 537.6h0M414.8 535.2h0M415.0 529.7h0M415.3 537.9h0M415.4 531.3h0M415.6 534.1h0M416.1 534.3h0M416.5 539.1h0M416.0 541.0h0M416.6 540.3h0M417.0 541.0h0M417.3 542.9h0M416.9 545.6h0M417.4 547.1h0M418.1 542.6h0M417.9 547.6h0M418.6 541.9h0M419.1 548.7h0M419.5 550.4h0M419.5 546.4h0M420.1 547.5h0M420.1 552.5h0M420.4 555.4h0M420.8 549.7h0M420.5 550.8h0M421.0 557.9h0M421.0 556.5h0M421.8 554.1h0M421.8 561.6h0M422.2 556.6h0M422.3 560.9h0M422.9 558.9h0M422.7 557.2h0M422.8 559.4h0M423.4 555.4h0M423.6 561.0h0M424.5 557.2h0M425.0 557.2h0M424.9 557.2h0M425.4 562.2h0M426.3 561.9h0M426.6 560.9h0M427.1 561.1h0M427.6 560.1h0M427.9 561.4h0M428.3 558.2h0M428.5 564.2h0M429.0 564.7h0M429.4 565.2h0M430.2 562.6h0M430.7 559.5h0M430.9 564.7h0M431.1 562.2h0M431.9 563.2h0M432.3 563.1h0M432.9 565.6h0M433.1 560.0h0M433.7 561.1h0M433.9 561.7h0M434.6 559.5h0M435.0 563.9h0M435.3 562.9h0M435.7 559.3h0M436.0 563.0h0M436.6 558.1h0M437.0 562.0h0M437.4 560.6h0M437.4 563.9h0M438.3 559.5h0M438.2 562.4h0M438.8 559.0h0M439.2 560.0h0M439.5 563.5h0M439.8 561.1h0M439.9 557.1h0M440.5 562.2h0M440.8 558.0h0M441.7 554.9h0M441.8 561.5h0M442.5 554.0h0M442.9 557.6h0M443.0 553.9h0M443.3 560.4h0M443.9 558.0h0M444.5 556.1h0M444.8 559.0h0M445.0 557.9h0M445.4 552.0h0M446.1 554.8h0M446.7 553.8h0M446.6 548.6h0M446.6 556.0h0M446.7 550.9h0M447.1 551.6h0M447.3 550.2h0M448.2 553.3h0M448.5 550.6h0M448.8 552.4h0M449.6 550.8h0M449.4 555.0h0M449.8 552.1h0M450.4 553.4h0M450.0 557.4h0M450.7 556.8h0M450.7 556.5h0M451.3 550.9h0M451.7 554.6h0M451.8 555.7h0M452.3 552.1h0M452.8 555.6h0M452.8 558.6h0M453.3 556.3h0M453.5 554.7h0M454.2 558.8h0M454.9 553.8h0M455.3 560.1h0M455.9 556.8h0M455.8 559.0h0M456.2 561.4h0M456.8 563.7h0M457.7 563.0h0M457.6 561.5h0M457.9 562.8h0M458.1 560.8h0M458.4 560.6h0M459.0 557.4h0M459.4 559.0h0M460.2 562.0h0M460.6 557.3h0M460.8 557.8h0M461.3 560.5h0M461.7 559.6h0M462.4 558.0h0M462.7 559.3h0M462.9 556.6h0M463.7 555.0h0M464.2 556.3h0M464.3 554.9h0M465.0 552.3h0M465.5 548.8h0M465.5 550.5h0M465.5 548.0h0M466.1 549.0h0M466.3 553.5h0M467.0 549.8h0M466.7 552.5h0M467.2 551.9h0M467.6 551.8h0M467.4 549.9h0M468.2 550.2h0M468.7 554.3h0M469.1 559.7h0M469.6 555.8h0M469.8 555.3h0M470.4 552.5h0M470.9 556.4h0M471.3 552.0h0M471.6 556.3h0M472.1 554.9h0M472.4 552.2h0M473.0 552.3h0M472.7 557.0h0M473.2 556.9h0M473.8 549.6h0M473.8 556.6h0M474.0 554.1h0M474.8 552.9h0M474.6 555.6h0M475.1 550.3h0M475.7 563.9h0M475.6 557.3h0M475.9 554.7h0M476.0 561.0h0M476.1 553.0h0M477.1 555.0h0M476.8 562.8h0M477.4 557.4h0M477.5 566.2h0M477.9 556.0h0M477.6 553.9h0M477.7 561.5h0M478.1 562.6h0M478.5 564.4h0M479.0 557.9h0M479.3 560.7h0M479.1 562.0h0M479.7 558.4h0M480.0 558.7h0M479.9 563.5h0M480.7 560.9h0M480.9 562.3h0M481.2 563.2h0M481.8 563.0h0M482.0 561.9h0M482.5 559.7h0M483.0 562.1h0M483.2 559.8h0M483.5 559.0h0M483.2 558.6h0M484.0 559.5h0M484.2 557.8h0M484.9 562.4h0M484.6 561.0h0M485.4 562.8h0M485.9 560.1h0M485.6 561.9h0M485.8 564.3h0M486.5 560.4h0M486.8 558.9h0M487.1 563.9h0M487.6 564.4h0M488.5 565.2h0M488.9 559.8h0M489.1 563.4h0M489.4 561.9h0M490.1 564.1h0M490.5 559.9h0M490.8 562.7h0M491.6 564.0h0M491.9 564.6h0M492.3 563.0h0M492.7 561.3h0M493.1 563.6h0M493.7 564.0h0M494.1 564.0h0M494.7 566.2h0M494.9 560.5h0M495.4 563.7h0M496.0 565.1h0M496.6 562.6h0M497.4 566.4h0M497.7 563.2h0M498.0 566.1h0M498.7 564.2h0M499.2 564.2h0M499.2 562.6h0M499.7 563.5h0M500.3 560.7h0M500.6 560.1h0M501.2 563.1h0M501.6 556.3h0M502.0 554.9h0M502.2 560.3h0M502.7 557.8h0M503.5 553.3h0M503.5 552.9h0M504.0 555.0h0M504.7 553.0h0M504.3 552.9h0M505.0 551.4h0M505.6 551.7h0M505.6 555.4h0M505.9 554.3h0M506.4 556.7h0M506.6 555.0h0M507.5 551.0h0M507.6 546.3h0M507.9 553.0h0M508.0 549.2h0M508.2 552.1h0M508.4 553.1h0M509.1 547.3h0M509.6 550.2h0M510.2 547.6h0M510.8 547.4h0M510.2 551.1h0M510.8 553.8h0M511.4 554.9h0M511.7 545.2h0M512.1 545.1h0M512.2 546.5h0M512.6 546.8h0M513.2 549.7h0M513.6 552.5h0M514.0 549.8h0M514.0 551.6h0M514.9 553.3h0M514.7 547.7h0M515.1 548.2h0M515.6 541.8h0M515.3 547.4h0M515.4 546.3h0M516.1 545.3h0M516.3 546.9h0M516.6 548.2h0M516.7 545.3h0M517.5 543.8h0M517.2 549.6h0M518.1 547.5h0M518.2 545.4h0M519.0 548.3h0M519.3 550.0h0M519.6 548.5h0M520.3 550.6h0M520.3 550.5h0M520.5 551.5h0M521.0 552.4h0M521.6 548.7h0M522.0 552.4h0M522.2 557.4h0M522.2 555.9h0M522.2 553.4h0M523.1 558.8h0M523.2 559.6h0M523.4 563.0h0M524.2 557.9h0M524.7 557.9h0M524.8 558.6h0M524.8 560.2h0M525.1 557.9h0M525.5 557.9h0M526.3 562.9h0M526.6 556.6h0M526.8 553.5h0M527.3 556.9h0M527.9 556.1h0M528.2 552.2h0M528.4 560.1h0M529.0 555.8h0M528.9 558.9h0M529.4 552.8h0M529.2 554.8h0M529.6 554.9h0" stroke="#1f6fec" stroke-width="2.3" stroke-linecap="round" fill="none"/>
<text x="31.10" y="155.82" text-anchor="end" class="tk">0</text>
<text x="31.10" y="122.75" text-anchor="end" class="tk">100</text>
<text x="31.10" y="89.68" text-anchor="end" class="tk">200</text>
<text x="31.10" y="56.61" text-anchor="end" class="tk">300</text>
<text x="31.10" y="23.54" text-anchor="end" class="tk">400</text>
<text x="37.20" y="177.70" text-anchor="middle" class="tk">9-10</text>
<text x="82.26" y="177.70" text-anchor="middle" class="tk">9-12</text>
<text x="127.32" y="177.70" text-anchor="middle" class="tk">9-14</text>
<text x="172.38" y="177.70" text-anchor="middle" class="tk">9-16</text>
<text x="217.44" y="177.70" text-anchor="middle" class="tk">9-18</text>
<text x="262.50" y="177.70" text-anchor="middle" class="tk">9-20</text>
<path d="M37.20 153.22h-3.2 M262.50 153.22h-3.2 M37.20 136.69h-1.8 M262.50 136.69h-1.8 M37.20 120.15h-3.2 M262.50 120.15h-3.2 M37.20 103.62h-1.8 M262.50 103.62h-1.8 M37.20 87.08h-3.2 M262.50 87.08h-3.2 M37.20 70.54h-1.8 M262.50 70.54h-1.8 M37.20 54.01h-3.2 M262.50 54.01h-3.2 M37.20 37.47h-1.8 M262.50 37.47h-1.8 M37.20 20.94h-3.2 M262.50 20.94h-3.2 M37.20 4.40h-1.8 M262.50 4.40h-1.8 M37.20 164.80v3.2 M37.20 4.40v1.8 M59.73 164.80v1.8 M59.73 4.40v1.8 M82.26 164.80v3.2 M82.26 4.40v1.8 M104.79 164.80v1.8 M104.79 4.40v1.8 M127.32 164.80v3.2 M127.32 4.40v1.8 M149.85 164.80v1.8 M149.85 4.40v1.8 M172.38 164.80v3.2 M172.38 4.40v1.8 M194.91 164.80v1.8 M194.91 4.40v1.8 M217.44 164.80v3.2 M217.44 4.40v1.8 M239.97 164.80v1.8 M239.97 4.40v1.8 M262.50 164.80v3.2 M262.50 4.40v1.8" stroke="#3a3a3a" stroke-width="1" fill="none"/>
<rect x="37.20" y="4.40" width="225.30" height="160.40" fill="none" stroke="#3a3a3a" stroke-width="1.2"/>
<text x="149.85" y="195.00" text-anchor="middle" class="ttl">Time (d)</text>
<text transform="translate(14.20 84.25) rotate(-90)" text-anchor="middle" textLength="121.5" lengthAdjust="spacingAndGlyphs" class="ytl">Dust concentration (μ/m³)</text>
<rect x="195.5" y="13.4" width="59.3" height="42.2" fill="#fff" stroke="#8a8a8a" stroke-width="0.9"/>
<rect x="208.1" y="19.9" width="1.8" height="1.8" fill="#666666"/>
<text x="224.5" y="24.6" style="font-size:11.0px">TSP</text>
<circle cx="209.0" cy="34.4" r="1.1" fill="#f53535"/>
<text x="224.5" y="38.2" style="font-size:11.0px">PM10</text>
<path d="M207.7 48.8L209.0 46.5L210.3 48.8Z" fill="#1f6fec"/>
<text x="224.5" y="51.6" style="font-size:11.0px">PM2.5</text>
<text x="303.40" y="151.54" text-anchor="end" class="tk">0</text>
<text x="303.40" y="119.42" text-anchor="end" class="tk">100</text>
<text x="303.40" y="87.30" text-anchor="end" class="tk">200</text>
<text x="303.40" y="55.18" text-anchor="end" class="tk">300</text>
<text x="303.40" y="23.06" text-anchor="end" class="tk">400</text>
<text x="309.50" y="177.90" text-anchor="middle" class="tk">9-10</text>
<text x="354.50" y="177.90" text-anchor="middle" class="tk">9-12</text>
<text x="399.50" y="177.90" text-anchor="middle" class="tk">9-14</text>
<text x="444.50" y="177.90" text-anchor="middle" class="tk">9-16</text>
<text x="489.50" y="177.90" text-anchor="middle" class="tk">9-18</text>
<text x="534.50" y="177.90" text-anchor="middle" class="tk">9-20</text>
<path d="M309.50 165.00h-1.8 M534.50 165.00h-1.8 M309.50 148.94h-3.2 M534.50 148.94h-3.2 M309.50 132.88h-1.8 M534.50 132.88h-1.8 M309.50 116.82h-3.2 M534.50 116.82h-3.2 M309.50 100.76h-1.8 M534.50 100.76h-1.8 M309.50 84.70h-3.2 M534.50 84.70h-3.2 M309.50 68.64h-1.8 M534.50 68.64h-1.8 M309.50 52.58h-3.2 M534.50 52.58h-3.2 M309.50 36.52h-1.8 M534.50 36.52h-1.8 M309.50 20.46h-3.2 M534.50 20.46h-3.2 M309.50 4.40h-1.8 M534.50 4.40h-1.8 M309.50 165.00v3.2 M309.50 4.40v1.8 M332.00 165.00v1.8 M332.00 4.40v1.8 M354.50 165.00v3.2 M354.50 4.40v1.8 M377.00 165.00v1.8 M377.00 4.40v1.8 M399.50 165.00v3.2 M399.50 4.40v1.8 M422.00 165.00v1.8 M422.00 4.40v1.8 M444.50 165.00v3.2 M444.50 4.40v1.8 M467.00 165.00v1.8 M467.00 4.40v1.8 M489.50 165.00v3.2 M489.50 4.40v1.8 M512.00 165.00v1.8 M512.00 4.40v1.8 M534.50 165.00v3.2 M534.50 4.40v1.8" stroke="#3a3a3a" stroke-width="1" fill="none"/>
<rect x="309.50" y="4.40" width="225.00" height="160.60" fill="none" stroke="#3a3a3a" stroke-width="1.2"/>
<text x="422.00" y="194.70" text-anchor="middle" class="ttl">Time (d)</text>
<text transform="translate(285.90 84.35) rotate(-90)" text-anchor="middle" textLength="119.7" lengthAdjust="spacingAndGlyphs" class="ytl">Dust concentration (μ/m³)</text>
<rect x="468.2" y="9.1" width="59.1" height="42.2" fill="#fff" stroke="#8a8a8a" stroke-width="0.9"/>
<rect x="480.9" y="16.4" width="1.8" height="1.8" fill="#666666"/>
<text x="497.6" y="21.1" style="font-size:10.5px">TSP</text>
<circle cx="481.8" cy="30.4" r="1.1" fill="#f53535"/>
<text x="497.6" y="34.2" style="font-size:10.5px">PM10</text>
<path d="M480.5 44.6L481.8 42.3L483.1 44.6Z" fill="#1f6fec"/>
<text x="497.6" y="47.4" style="font-size:10.5px">PM2.5</text>
<text x="31.10" y="358.00" text-anchor="end" class="tk">0</text>
<text x="31.10" y="326.20" text-anchor="end" class="tk">100</text>
<text x="31.10" y="294.40" text-anchor="end" class="tk">200</text>
<text x="31.10" y="262.60" text-anchor="end" class="tk">300</text>
<text x="31.10" y="230.80" text-anchor="end" class="tk">400</text>
<text x="37.20" y="384.20" text-anchor="middle" class="tk">10-10</text>
<text x="81.84" y="384.20" text-anchor="middle" class="tk">10-12</text>
<text x="126.48" y="384.20" text-anchor="middle" class="tk">10-14</text>
<text x="171.12" y="384.20" text-anchor="middle" class="tk">10-16</text>
<text x="215.76" y="384.20" text-anchor="middle" class="tk">10-18</text>
<text x="260.40" y="384.20" text-anchor="middle" class="tk">10-20</text>
<path d="M37.20 371.30h-1.8 M260.40 371.30h-1.8 M37.20 355.40h-3.2 M260.40 355.40h-3.2 M37.20 339.50h-1.8 M260.40 339.50h-1.8 M37.20 323.60h-3.2 M260.40 323.60h-3.2 M37.20 307.70h-1.8 M260.40 307.70h-1.8 M37.20 291.80h-3.2 M260.40 291.80h-3.2 M37.20 275.90h-1.8 M260.40 275.90h-1.8 M37.20 260.00h-3.2 M260.40 260.00h-3.2 M37.20 244.10h-1.8 M260.40 244.10h-1.8 M37.20 228.20h-3.2 M260.40 228.20h-3.2 M37.20 212.30h-1.8 M260.40 212.30h-1.8 M37.20 371.30v3.2 M37.20 212.30v1.8 M59.52 371.30v1.8 M59.52 212.30v1.8 M81.84 371.30v3.2 M81.84 212.30v1.8 M104.16 371.30v1.8 M104.16 212.30v1.8 M126.48 371.30v3.2 M126.48 212.30v1.8 M148.80 371.30v1.8 M148.80 212.30v1.8 M171.12 371.30v3.2 M171.12 212.30v1.8 M193.44 371.30v1.8 M193.44 212.30v1.8 M215.76 371.30v3.2 M215.76 212.30v1.8 M238.08 371.30v1.8 M238.08 212.30v1.8 M260.40 371.30v3.2 M260.40 212.30v1.8" stroke="#3a3a3a" stroke-width="1" fill="none"/>
<rect x="37.20" y="212.30" width="223.20" height="159.00" fill="none" stroke="#3a3a3a" stroke-width="1.2"/>
<text x="148.80" y="401.80" text-anchor="middle" class="ttl">Time (d)</text>
<text transform="translate(13.40 291.80) rotate(-90)" text-anchor="middle" textLength="121.0" lengthAdjust="spacingAndGlyphs" class="ytl">Dust concentration (μ/m³)</text>
<rect x="196.4" y="218.4" width="59.2" height="42.2" fill="#fff" stroke="#8a8a8a" stroke-width="0.9"/>
<rect x="209.4" y="224.9" width="1.8" height="1.8" fill="#666666"/>
<text x="225.5" y="229.6" style="font-size:10.8px">TSP</text>
<circle cx="210.3" cy="239.4" r="1.1" fill="#f53535"/>
<text x="225.5" y="243.2" style="font-size:10.8px">PM10</text>
<path d="M209.0 253.8L210.3 251.5L211.6 253.8Z" fill="#1f6fec"/>
<text x="225.5" y="256.6" style="font-size:10.8px">PM2.5</text>
<text x="304.30" y="360.50" text-anchor="end" class="tk">0</text>
<text x="304.30" y="327.50" text-anchor="end" class="tk">100</text>
<text x="304.30" y="294.50" text-anchor="end" class="tk">200</text>
<text x="304.30" y="261.50" text-anchor="end" class="tk">300</text>
<text x="304.30" y="228.50" text-anchor="end" class="tk">400</text>
<text x="310.40" y="387.30" text-anchor="middle" class="tk">10-10</text>
<text x="354.50" y="387.30" text-anchor="middle" class="tk">10-12</text>
<text x="398.60" y="387.30" text-anchor="middle" class="tk">10-14</text>
<text x="442.70" y="387.30" text-anchor="middle" class="tk">10-16</text>
<text x="486.80" y="387.30" text-anchor="middle" class="tk">10-18</text>
<text x="530.90" y="387.30" text-anchor="middle" class="tk">10-20</text>
<path d="M310.40 374.40h-1.8 M541.70 374.40h-1.8 M310.40 357.90h-3.2 M541.70 357.90h-3.2 M310.40 341.40h-1.8 M541.70 341.40h-1.8 M310.40 324.90h-3.2 M541.70 324.90h-3.2 M310.40 308.40h-1.8 M541.70 308.40h-1.8 M310.40 291.90h-3.2 M541.70 291.90h-3.2 M310.40 275.40h-1.8 M541.70 275.40h-1.8 M310.40 258.90h-3.2 M541.70 258.90h-3.2 M310.40 242.40h-1.8 M541.70 242.40h-1.8 M310.40 225.90h-3.2 M541.70 225.90h-3.2 M310.40 209.40h-1.8 M541.70 209.40h-1.8 M310.40 374.40v3.2 M310.40 209.40v1.8 M332.45 374.40v1.8 M332.45 209.40v1.8 M354.50 374.40v3.2 M354.50 209.40v1.8 M376.55 374.40v1.8 M376.55 209.40v1.8 M398.60 374.40v3.2 M398.60 209.40v1.8 M420.65 374.40v1.8 M420.65 209.40v1.8 M442.70 374.40v3.2 M442.70 209.40v1.8 M464.75 374.40v1.8 M464.75 209.40v1.8 M486.80 374.40v3.2 M486.80 209.40v1.8 M508.85 374.40v1.8 M508.85 209.40v1.8 M530.90 374.40v3.2 M530.90 209.40v1.8" stroke="#3a3a3a" stroke-width="1" fill="none"/>
<rect x="310.40" y="209.40" width="231.30" height="165.00" fill="none" stroke="#3a3a3a" stroke-width="1.2"/>
<text x="426.05" y="405.00" text-anchor="middle" class="ttl">Time (d)</text>
<text transform="translate(286.20 291.35) rotate(-90)" text-anchor="middle" textLength="127.5" lengthAdjust="spacingAndGlyphs" class="ytl">Dust Concentration (μ/m³)</text>
<rect x="474.4" y="215.6" width="61.2" height="42.6" fill="#fff" stroke="#8a8a8a" stroke-width="0.9"/>
<rect x="487.7" y="222.1" width="1.8" height="1.8" fill="#666666"/>
<text x="504.5" y="226.8" style="font-size:11.0px">TSP</text>
<circle cx="488.6" cy="236.6" r="1.1" fill="#f53535"/>
<text x="504.5" y="240.4" style="font-size:11.0px">PM10</text>
<path d="M487.3 251.3L488.6 249.0L489.9 251.3Z" fill="#1f6fec"/>
<text x="504.5" y="254.1" style="font-size:11.0px">PM2.5</text>
<text x="32.30" y="575.89" text-anchor="end" class="tk">0</text>
<text x="32.30" y="542.34" text-anchor="end" class="tk">100</text>
<text x="32.30" y="508.78" text-anchor="end" class="tk">200</text>
<text x="32.30" y="475.23" text-anchor="end" class="tk">300</text>
<text x="32.30" y="441.68" text-anchor="end" class="tk">400</text>
<text x="38.40" y="592.90" text-anchor="middle" class="tk">11-10</text>
<text x="82.60" y="592.90" text-anchor="middle" class="tk">11-12</text>
<text x="126.80" y="592.90" text-anchor="middle" class="tk">11-14</text>
<text x="171.00" y="592.90" text-anchor="middle" class="tk">11-16</text>
<text x="215.20" y="592.90" text-anchor="middle" class="tk">11-18</text>
<text x="259.40" y="592.90" text-anchor="middle" class="tk">11-20</text>
<path d="M38.40 573.29h-3.2 M259.40 573.29h-3.2 M38.40 556.51h-1.8 M259.40 556.51h-1.8 M38.40 539.74h-3.2 M259.40 539.74h-3.2 M38.40 522.96h-1.8 M259.40 522.96h-1.8 M38.40 506.18h-3.2 M259.40 506.18h-3.2 M38.40 489.41h-1.8 M259.40 489.41h-1.8 M38.40 472.63h-3.2 M259.40 472.63h-3.2 M38.40 455.85h-1.8 M259.40 455.85h-1.8 M38.40 439.08h-3.2 M259.40 439.08h-3.2 M38.40 422.30h-1.8 M259.40 422.30h-1.8 M38.40 580.00v3.2 M38.40 422.30v1.8 M60.50 580.00v1.8 M60.50 422.30v1.8 M82.60 580.00v3.2 M82.60 422.30v1.8 M104.70 580.00v1.8 M104.70 422.30v1.8 M126.80 580.00v3.2 M126.80 422.30v1.8 M148.90 580.00v1.8 M148.90 422.30v1.8 M171.00 580.00v3.2 M171.00 422.30v1.8 M193.10 580.00v1.8 M193.10 422.30v1.8 M215.20 580.00v3.2 M215.20 422.30v1.8 M237.30 580.00v1.8 M237.30 422.30v1.8 M259.40 580.00v3.2 M259.40 422.30v1.8" stroke="#3a3a3a" stroke-width="1" fill="none"/>
<rect x="38.40" y="422.30" width="221.00" height="157.70" fill="none" stroke="#3a3a3a" stroke-width="1.2"/>
<text x="148.90" y="609.40" text-anchor="middle" class="ttl">Time (d)</text>
<text transform="translate(15.00 500.65) rotate(-90)" text-anchor="middle" textLength="118.9" lengthAdjust="spacingAndGlyphs" class="ytl">Dust concentration (μ/m³)</text>
<rect x="195.5" y="428.4" width="57.8" height="40.9" fill="#fff" stroke="#8a8a8a" stroke-width="0.9"/>
<rect x="208.2" y="434.9" width="1.8" height="1.8" fill="#666666"/>
<text x="224.2" y="439.6" style="font-size:10.8px">TSP</text>
<circle cx="209.1" cy="449.4" r="1.1" fill="#f53535"/>
<text x="224.2" y="453.2" style="font-size:10.8px">PM10</text>
<path d="M207.8 463.5L209.1 461.2L210.4 463.5Z" fill="#1f6fec"/>
<text x="224.2" y="466.3" style="font-size:10.8px">PM2.5</text>
<text x="302.30" y="569.42" text-anchor="end" class="tk">0</text>
<text x="302.30" y="536.46" text-anchor="end" class="tk">100</text>
<text x="302.30" y="503.50" text-anchor="end" class="tk">200</text>
<text x="302.30" y="470.54" text-anchor="end" class="tk">300</text>
<text x="302.30" y="437.58" text-anchor="end" class="tk">400</text>
<text x="308.40" y="596.20" text-anchor="middle" class="tk">11-10</text>
<text x="353.22" y="596.20" text-anchor="middle" class="tk">11-12</text>
<text x="398.04" y="596.20" text-anchor="middle" class="tk">11-14</text>
<text x="442.86" y="596.20" text-anchor="middle" class="tk">11-16</text>
<text x="487.68" y="596.20" text-anchor="middle" class="tk">11-18</text>
<text x="532.50" y="596.20" text-anchor="middle" class="tk">11-20</text>
<path d="M308.40 583.30h-1.8 M532.50 583.30h-1.8 M308.40 566.82h-3.2 M532.50 566.82h-3.2 M308.40 550.34h-1.8 M532.50 550.34h-1.8 M308.40 533.86h-3.2 M532.50 533.86h-3.2 M308.40 517.38h-1.8 M532.50 517.38h-1.8 M308.40 500.90h-3.2 M532.50 500.90h-3.2 M308.40 484.42h-1.8 M532.50 484.42h-1.8 M308.40 467.94h-3.2 M532.50 467.94h-3.2 M308.40 451.46h-1.8 M532.50 451.46h-1.8 M308.40 434.98h-3.2 M532.50 434.98h-3.2 M308.40 418.50h-1.8 M532.50 418.50h-1.8 M308.40 583.30v3.2 M308.40 418.50v1.8 M330.81 583.30v1.8 M330.81 418.50v1.8 M353.22 583.30v3.2 M353.22 418.50v1.8 M375.63 583.30v1.8 M375.63 418.50v1.8 M398.04 583.30v3.2 M398.04 418.50v1.8 M420.45 583.30v1.8 M420.45 418.50v1.8 M442.86 583.30v3.2 M442.86 418.50v1.8 M465.27 583.30v1.8 M465.27 418.50v1.8 M487.68 583.30v3.2 M487.68 418.50v1.8 M510.09 583.30v1.8 M510.09 418.50v1.8 M532.50 583.30v3.2 M532.50 418.50v1.8" stroke="#3a3a3a" stroke-width="1" fill="none"/>
<rect x="308.40" y="418.50" width="224.10" height="164.80" fill="none" stroke="#3a3a3a" stroke-width="1.2"/>
<text x="420.45" y="611.80" text-anchor="middle" class="ttl">Time (d)</text>
<text transform="translate(285.00 500.75) rotate(-90)" text-anchor="middle" textLength="123.1" lengthAdjust="spacingAndGlyphs" class="ytl">Dust Concentration (μ/m³)</text>
<rect x="465.9" y="424.4" width="59.1" height="42.1" fill="#fff" stroke="#8a8a8a" stroke-width="0.9"/>
<rect x="478.6" y="430.4" width="1.8" height="1.8" fill="#666666"/>
<text x="494.5" y="435.1" style="font-size:10.8px">TSP</text>
<circle cx="479.5" cy="445.2" r="1.1" fill="#f53535"/>
<text x="494.5" y="449.0" style="font-size:10.8px">PM10</text>
<path d="M478.2 459.6L479.5 457.3L480.8 459.6Z" fill="#1f6fec"/>
<text x="494.5" y="462.4" style="font-size:10.8px">PM2.5</text>
<text x="137" y="634.5" text-anchor="middle" class="pt">Point 1</text>
<text x="409.3" y="634.3" text-anchor="middle" class="pt">Point 2</text>
</svg></body></html>
